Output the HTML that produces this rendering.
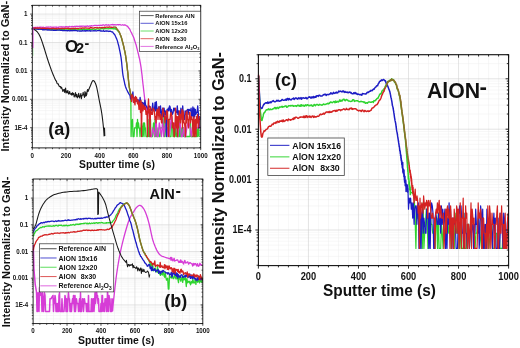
<!DOCTYPE html>
<html><head><meta charset="utf-8"><title>Sputter profiles</title>
<style>html,body{margin:0;padding:0;background:#fff;}svg{display:block;filter:blur(0.25px);}text{font-family:'Liberation Sans', Arial, sans-serif;fill:#111;}</style>
</head><body>
<svg width="520" height="348" viewBox="0 0 520 348">
<rect width="520" height="348" fill="#fff"/>
<line x1="39.04" y1="5.3" x2="39.04" y2="147.9" stroke="#efefef" stroke-width="0.5"/>
<line x1="45.77" y1="5.3" x2="45.77" y2="147.9" stroke="#efefef" stroke-width="0.5"/>
<line x1="52.51" y1="5.3" x2="52.51" y2="147.9" stroke="#efefef" stroke-width="0.5"/>
<line x1="59.24" y1="5.3" x2="59.24" y2="147.9" stroke="#efefef" stroke-width="0.5"/>
<line x1="72.72" y1="5.3" x2="72.72" y2="147.9" stroke="#efefef" stroke-width="0.5"/>
<line x1="79.45" y1="5.3" x2="79.45" y2="147.9" stroke="#efefef" stroke-width="0.5"/>
<line x1="86.19" y1="5.3" x2="86.19" y2="147.9" stroke="#efefef" stroke-width="0.5"/>
<line x1="92.92" y1="5.3" x2="92.92" y2="147.9" stroke="#efefef" stroke-width="0.5"/>
<line x1="106.4" y1="5.3" x2="106.4" y2="147.9" stroke="#efefef" stroke-width="0.5"/>
<line x1="113.13" y1="5.3" x2="113.13" y2="147.9" stroke="#efefef" stroke-width="0.5"/>
<line x1="119.87" y1="5.3" x2="119.87" y2="147.9" stroke="#efefef" stroke-width="0.5"/>
<line x1="126.6" y1="5.3" x2="126.6" y2="147.9" stroke="#efefef" stroke-width="0.5"/>
<line x1="140.08" y1="5.3" x2="140.08" y2="147.9" stroke="#efefef" stroke-width="0.5"/>
<line x1="146.81" y1="5.3" x2="146.81" y2="147.9" stroke="#efefef" stroke-width="0.5"/>
<line x1="153.55" y1="5.3" x2="153.55" y2="147.9" stroke="#efefef" stroke-width="0.5"/>
<line x1="160.28" y1="5.3" x2="160.28" y2="147.9" stroke="#efefef" stroke-width="0.5"/>
<line x1="173.76" y1="5.3" x2="173.76" y2="147.9" stroke="#efefef" stroke-width="0.5"/>
<line x1="180.49" y1="5.3" x2="180.49" y2="147.9" stroke="#efefef" stroke-width="0.5"/>
<line x1="187.23" y1="5.3" x2="187.23" y2="147.9" stroke="#efefef" stroke-width="0.5"/>
<line x1="193.96" y1="5.3" x2="193.96" y2="147.9" stroke="#efefef" stroke-width="0.5"/>
<line x1="32.3" y1="147.55" x2="200.7" y2="147.55" stroke="#efefef" stroke-width="0.5"/>
<line x1="32.3" y1="142.55" x2="200.7" y2="142.55" stroke="#efefef" stroke-width="0.5"/>
<line x1="32.3" y1="139" x2="200.7" y2="139" stroke="#efefef" stroke-width="0.5"/>
<line x1="32.3" y1="136.25" x2="200.7" y2="136.25" stroke="#efefef" stroke-width="0.5"/>
<line x1="32.3" y1="134" x2="200.7" y2="134" stroke="#efefef" stroke-width="0.5"/>
<line x1="32.3" y1="132.1" x2="200.7" y2="132.1" stroke="#efefef" stroke-width="0.5"/>
<line x1="32.3" y1="130.45" x2="200.7" y2="130.45" stroke="#efefef" stroke-width="0.5"/>
<line x1="32.3" y1="129" x2="200.7" y2="129" stroke="#efefef" stroke-width="0.5"/>
<line x1="32.3" y1="119.15" x2="200.7" y2="119.15" stroke="#efefef" stroke-width="0.5"/>
<line x1="32.3" y1="114.15" x2="200.7" y2="114.15" stroke="#efefef" stroke-width="0.5"/>
<line x1="32.3" y1="110.6" x2="200.7" y2="110.6" stroke="#efefef" stroke-width="0.5"/>
<line x1="32.3" y1="107.85" x2="200.7" y2="107.85" stroke="#efefef" stroke-width="0.5"/>
<line x1="32.3" y1="105.6" x2="200.7" y2="105.6" stroke="#efefef" stroke-width="0.5"/>
<line x1="32.3" y1="103.7" x2="200.7" y2="103.7" stroke="#efefef" stroke-width="0.5"/>
<line x1="32.3" y1="102.05" x2="200.7" y2="102.05" stroke="#efefef" stroke-width="0.5"/>
<line x1="32.3" y1="100.6" x2="200.7" y2="100.6" stroke="#efefef" stroke-width="0.5"/>
<line x1="32.3" y1="90.75" x2="200.7" y2="90.75" stroke="#efefef" stroke-width="0.5"/>
<line x1="32.3" y1="85.75" x2="200.7" y2="85.75" stroke="#efefef" stroke-width="0.5"/>
<line x1="32.3" y1="82.2" x2="200.7" y2="82.2" stroke="#efefef" stroke-width="0.5"/>
<line x1="32.3" y1="79.45" x2="200.7" y2="79.45" stroke="#efefef" stroke-width="0.5"/>
<line x1="32.3" y1="77.2" x2="200.7" y2="77.2" stroke="#efefef" stroke-width="0.5"/>
<line x1="32.3" y1="75.3" x2="200.7" y2="75.3" stroke="#efefef" stroke-width="0.5"/>
<line x1="32.3" y1="73.65" x2="200.7" y2="73.65" stroke="#efefef" stroke-width="0.5"/>
<line x1="32.3" y1="72.2" x2="200.7" y2="72.2" stroke="#efefef" stroke-width="0.5"/>
<line x1="32.3" y1="62.35" x2="200.7" y2="62.35" stroke="#efefef" stroke-width="0.5"/>
<line x1="32.3" y1="57.35" x2="200.7" y2="57.35" stroke="#efefef" stroke-width="0.5"/>
<line x1="32.3" y1="53.8" x2="200.7" y2="53.8" stroke="#efefef" stroke-width="0.5"/>
<line x1="32.3" y1="51.05" x2="200.7" y2="51.05" stroke="#efefef" stroke-width="0.5"/>
<line x1="32.3" y1="48.8" x2="200.7" y2="48.8" stroke="#efefef" stroke-width="0.5"/>
<line x1="32.3" y1="46.9" x2="200.7" y2="46.9" stroke="#efefef" stroke-width="0.5"/>
<line x1="32.3" y1="45.25" x2="200.7" y2="45.25" stroke="#efefef" stroke-width="0.5"/>
<line x1="32.3" y1="43.8" x2="200.7" y2="43.8" stroke="#efefef" stroke-width="0.5"/>
<line x1="32.3" y1="33.95" x2="200.7" y2="33.95" stroke="#efefef" stroke-width="0.5"/>
<line x1="32.3" y1="28.95" x2="200.7" y2="28.95" stroke="#efefef" stroke-width="0.5"/>
<line x1="32.3" y1="25.4" x2="200.7" y2="25.4" stroke="#efefef" stroke-width="0.5"/>
<line x1="32.3" y1="22.65" x2="200.7" y2="22.65" stroke="#efefef" stroke-width="0.5"/>
<line x1="32.3" y1="20.4" x2="200.7" y2="20.4" stroke="#efefef" stroke-width="0.5"/>
<line x1="32.3" y1="18.5" x2="200.7" y2="18.5" stroke="#efefef" stroke-width="0.5"/>
<line x1="32.3" y1="16.85" x2="200.7" y2="16.85" stroke="#efefef" stroke-width="0.5"/>
<line x1="32.3" y1="15.4" x2="200.7" y2="15.4" stroke="#efefef" stroke-width="0.5"/>
<line x1="32.3" y1="5.55" x2="200.7" y2="5.55" stroke="#efefef" stroke-width="0.5"/>
<line x1="65.98" y1="5.3" x2="65.98" y2="147.9" stroke="#d2d2d2" stroke-width="0.6"/>
<line x1="99.66" y1="5.3" x2="99.66" y2="147.9" stroke="#d2d2d2" stroke-width="0.6"/>
<line x1="133.34" y1="5.3" x2="133.34" y2="147.9" stroke="#d2d2d2" stroke-width="0.6"/>
<line x1="167.02" y1="5.3" x2="167.02" y2="147.9" stroke="#d2d2d2" stroke-width="0.6"/>
<line x1="32.3" y1="127.7" x2="200.7" y2="127.7" stroke="#d2d2d2" stroke-width="0.6"/>
<line x1="32.3" y1="99.3" x2="200.7" y2="99.3" stroke="#d2d2d2" stroke-width="0.6"/>
<line x1="32.3" y1="70.9" x2="200.7" y2="70.9" stroke="#d2d2d2" stroke-width="0.6"/>
<line x1="32.3" y1="42.5" x2="200.7" y2="42.5" stroke="#d2d2d2" stroke-width="0.6"/>
<line x1="32.3" y1="14.1" x2="200.7" y2="14.1" stroke="#d2d2d2" stroke-width="0.6"/>
<polyline points="32.8,28.64 33.66,28.37 34.52,28.84 35.28,28.7 36.03,28.5 36.79,28.6 37.47,29.21 38.16,29.2 38.84,29.27 39.52,28.97 40.16,29.42 40.79,28.89 41.42,29.31 42.05,29.5 42.68,29.02 43.38,28.91 44.09,29.03 44.79,29.03 45.49,29.57 46.19,29.46 46.83,29.39 47.46,29.15 48.1,29.54 48.73,29.21 49.37,29.22 50,29.57 50.62,29.61 51.25,29.73 51.88,29.76 52.5,29.29 53.13,29.41 53.75,29.31 54.38,29.56 55.01,29.25 55.64,29.84 56.27,29.72 56.9,29.81 57.53,29.59 58.16,29.9 58.79,29.85 59.42,29.85 60.02,29.84 60.62,29.43 61.22,29.52 61.82,29.32 62.42,29.82 63.02,29.62 63.62,29.98 64.22,29.49 64.83,29.6 65.43,29.9 66.03,29.97 66.64,29.83 67.24,29.91 67.85,29.94 68.45,29.49 69.06,29.73 69.66,29.34 70.27,29.77 70.91,29.96 71.56,29.65 72.2,29.39 72.85,29.69 73.49,29.33 74.14,29.61 74.79,29.34 75.43,29.58 76.08,29.85 76.74,29.79 77.39,29.87 78.04,29.58 78.69,29.57 79.35,29.29 80,29.8 80.67,29.64 81.33,29.52 82,29.32 82.66,29.53 83.33,29.24 83.99,29.27 84.61,29.23 85.22,29.46 85.83,29.24 86.44,29.71 87.05,29.54 87.67,29.7 88.35,29.46 89.02,29.17 89.7,29.23 90.38,29.6 91.06,29.4 91.69,29.42 92.33,29.38 92.96,28.95 93.59,29.03 94.22,29.17 94.96,29.43 95.7,29.47 96.45,29.2 97.19,28.93 97.89,28.76 98.59,29.09 99.3,28.96 100,29.3 100.67,28.77 101.34,28.74 102.01,28.58 102.68,28.56 103.3,29.07 103.93,29.08 104.56,28.54 105.19,28.41 105.96,28.76 106.73,28.49 107.5,28.7 108.2,28.87 108.9,28.72 109.59,28.36 110.21,28.57 110.82,28.34 111.44,28.65 112.22,28.31 113,28.76 114.19,28.7 115,28.94 115.57,28.7 116.01,29.37 116.44,29.5 117,29.83 117.65,30.78 118.29,31.27 118.93,32.01 119.57,33.05 120.23,34.83 120.9,36.32 121.62,38.45 122.38,41.6 123.15,44.12 123.9,47.66 124.59,50.42 125.2,53.4 125.71,56.6 126.14,59.32 126.52,62.11 126.87,64.97 127.19,67.42 127.5,70.3 127.8,72.73 128.06,75.35 128.29,77.78 128.52,80.34 128.75,82.86 129,84.82 129.28,87.17 129.59,89.33 129.89,91.09 130.18,92.4 130.42,93.64 130.6,95 130.9,105 131.1,136.5 131.5,122.95 132,122.95 132.5,119.4 133,136.5 133.5,136.5 134,136.5 134.5,127.95 135,127.95 135.5,127.95 136,127.95 136.5,122.95 137,136.5 137.5,119.4 138,127.95 138.5,122.95 139,127.95 139.5,127.95 140,136.5 140.5,127.95 141,127.95 141.5,122.95 142,127.95 142.5,136.5 143,127.95 143.5,122.95 144,136.5 144.5,122.95 145,127.95 145.5,127.95 146,136.5 146.5,136.5 147,136.5 147.5,136.5 148,119.4 148.5,136.5 149,127.95 149.5,136.5 150,136.5 150.5,119.4 151,136.5 152,136.5 152.5,136.5 153.5,122.95 154,127.95 154.5,136.5 155,119.4 155.5,136.5 156,127.95 156.5,136.5 157.5,136.5 158,127.95 159,136.5 159.5,136.5 160,136.5 160.5,127.95 162,127.95 162.5,127.95 163,127.95 163.5,127.95 164,116.65 164.5,136.5 165,136.5 165.5,127.95 166,119.4 166.5,127.95 167,127.95 167.5,127.95 168,136.5 169,119.4 169.5,136.5 170,136.5 171,136.5 171.5,122.95 172.5,122.95 173,136.5 173.5,127.95 174,136.5 175,136.5 175.5,127.95 176,127.95 176.5,136.5 177,136.5 178.5,136.5 179,116.65 179.5,136.5 180,136.5 180.5,136.5 181,127.95 181.5,136.5 182.5,127.95 183,136.5 183.5,127.95 184,136.5 185.5,136.5 186.5,136.5 187,136.5 188,136.5 188.5,136.5 189,136.5 190,136.5 190.5,122.95 191,136.5 191.5,136.5 192,136.5 192.5,136.5 193,136.5 193.5,136.5 194,127.95 194.5,136.5 196,136.5 196.5,136.5 197,127.95 197.5,136.5 198.5,127.95 199,136.5 199.5,136.5" fill="none" stroke="#2ed42e" stroke-width="1.3" stroke-linejoin="round" opacity="1.0"/>
<polyline points="32.8,27.47 33.53,27.52 34.26,27.73 35,27.44 35.73,27.46 36.4,27.49 37.07,27.24 37.74,27.43 38.41,27.49 39.08,27.58 39.75,27.15 40.43,27.26 41.11,27.12 41.8,27.54 42.48,27.46 43.16,27.06 43.84,27.61 44.52,27.59 45.17,27.39 45.82,27.36 46.47,27.07 47.12,26.98 47.77,27.27 48.42,26.98 49.07,27.05 49.72,27.07 50.38,26.93 51.04,27.17 51.7,27.15 52.35,27.38 53.01,27.17 53.67,27.23 54.33,27.13 54.99,27.22 55.62,27.08 56.24,26.96 56.87,27.37 57.49,27.36 58.12,27.25 58.75,27.15 59.37,26.9 60,26.84 60.63,26.86 61.25,26.71 61.88,27.11 62.51,26.87 63.13,27.12 63.76,26.83 64.39,27.15 65.01,27.07 65.68,26.54 66.35,26.65 67.01,27.05 67.68,26.76 68.35,27.05 69.01,26.68 69.68,26.47 70.35,26.78 70.95,26.85 71.55,26.53 72.15,26.4 72.75,26.53 73.36,26.89 73.96,26.74 74.56,26.34 75.16,26.4 75.76,26.29 76.42,26.24 77.07,26.66 77.73,26.27 78.38,26.48 79.04,26.39 79.7,26.21 80.35,26.51 81.01,26.13 81.61,26.42 82.21,26.08 82.82,26.24 83.42,26.09 84.03,26.1 84.63,26.5 85.23,26.38 85.84,26.05 86.53,26.37 87.22,25.94 87.92,26.02 88.61,26.27 89.31,26.11 90,25.76 90.67,26.26 91.35,25.76 92.02,25.75 92.69,26.02 93.37,25.72 94.05,25.66 94.74,25.47 95.43,25.44 96.11,25.69 96.89,25.42 97.66,25.57 98.44,25.37 99.14,25.36 99.85,25.61 100.56,25.26 101.26,25.27 101.97,25.39 102.67,24.93 103.45,24.87 104.22,25.29 105,25.19 105.65,24.83 106.3,24.77 106.95,25.08 107.6,25.17 108.29,24.71 108.97,25.14 109.65,25.08 110.33,24.9 111.02,24.78 111.7,24.57 112.38,24.52 113.06,25.07 113.71,24.62 114.36,24.9 115.02,24.62 115.67,24.96 116.45,24.82 117.24,24.64 118.02,24.57 118.68,24.91 119.34,24.53 120,24.64 120.77,24.86 121.55,25.06 122.15,24.94 122.76,24.76 123.72,25.23 124.52,24.93 125.25,25.01 126,25.46 126.73,25.95 127.37,26.18 127.94,26.78 128.46,27.5 128.97,28.3 129.5,28.78 130.03,29.74 130.54,30.97 131.03,32 131.52,32.85 132.01,33.97 132.5,35.05 132.99,35.94 133.48,37.03 133.97,38.23 134.46,40.08 134.97,41.43 135.5,43.28 136.07,44.71 136.69,47.35 137.31,49.7 137.93,52.31 138.5,54.44 139,57 139.42,58.28 139.78,60.16 140.09,61.79 140.39,63.44 140.68,65.08 141,67.12 141.34,69.66 141.68,72.53 142.03,75.18 142.36,78.42 142.69,81.5 143,84.22 143.31,86.62 143.62,89.58 143.93,92.28 144.2,94.53 144.43,96.59 144.6,98 145,103.1 146.1,110.85 147.2,106.92 148.3,112.5 149.4,114.4 150.5,136.5 151.6,136.5 152.7,127.95 154.9,136.5 156,116.65 157.1,136.5 158.2,136.5 159.3,122.95 161.5,136.5 162.6,119.4 163.7,136.5 164.8,127.95 165.9,122.95 167,136.5 168.1,127.95 169.2,136.5 170.3,127.95 171.4,114.4 172.5,127.95 173.6,127.95 174.7,122.95 175.8,127.95 176.9,127.95 178,136.5 179.1,122.95 180.2,122.95 181.3,136.5 182.4,136.5 183.5,127.95 184.6,136.5 185.7,136.5 186.8,127.95 187.9,122.95 189,122.95 190.1,127.95 191.2,136.5 192.3,127.95 194.5,122.95 195.6,127.95 197.8,127.95 198.9,122.95 200,127.95" fill="none" stroke="#d63cd6" stroke-width="1.3" stroke-linejoin="round" opacity="1.0"/>
<polyline points="32.8,28.21 33.44,28.27 34.19,28.56 35.15,28.35 35.77,28.93 36.39,29.14 37.18,28.78 37.98,29.08 38.65,29.34 39.33,29.17 40,29.09 40.65,29.11 41.3,29.4 41.94,29.09 42.59,29.75 43.22,29.73 43.84,29.69 44.47,29.84 45.09,29.71 45.72,29.59 46.41,29.76 47.11,29.73 47.81,30.1 48.5,30.02 49.2,29.67 49.81,30.15 50.42,30.07 51.03,30.12 51.64,30.17 52.25,29.91 52.86,30.28 53.47,30.3 54.08,30.2 54.69,30.27 55.3,30.3 55.91,30.07 56.52,30.32 57.21,29.89 57.91,30.11 58.61,30.22 59.3,29.93 60,30.2 60.67,30.42 61.33,30.43 62,30.18 62.67,30.7 63.33,30.53 64,30.32 64.67,30.57 65.33,30.53 66,30.52 66.67,30.44 67.33,30.89 68,30.65 68.67,30.71 69.33,30.77 70,30.94 70.67,30.29 71.33,30.72 72,30.82 72.67,30.5 73.33,30.61 74,30.38 74.67,30.49 75.33,30.63 76,30.45 76.67,30.57 77.33,31.04 78,30.8 78.67,30.78 79.33,31.12 80,30.85 80.69,31.15 81.38,30.91 82.07,31.04 82.76,30.53 83.45,30.9 84.17,31.02 84.88,30.52 85.6,31.15 86.32,30.61 87.04,30.83 87.75,30.62 88.47,30.85 89.19,30.93 89.91,30.55 90.62,31.17 91.31,30.8 92,30.88 92.69,30.93 93.38,30.76 94.07,30.71 94.71,30.97 95.34,30.91 95.98,30.71 96.61,31.02 97.25,30.73 97.93,30.54 98.62,30.71 99.31,30.57 100,30.66 100.77,31.09 101.55,30.85 102.32,31.21 102.99,31.12 103.65,30.64 104.31,31.31 105.17,31.29 106.03,30.7 106.77,31.31 107.52,31.01 108.17,31.09 108.83,31.49 110,31.12 110.95,31.45 111.63,31.84 112.13,31.82 112.54,31.88 112.97,32.66 113.5,33.22 114.13,33.98 114.79,34.71 115.45,36.32 116.11,37.65 116.77,39.13 117.4,40.89 118.02,43.35 118.65,45.46 119.26,48.28 119.85,51.17 120.4,53.84 120.9,56.53 121.32,59.71 121.67,62.73 121.98,66.2 122.29,69.21 122.61,72.57 123,75.32 123.44,77.7 123.9,79.75 124.38,81.9 124.89,84.55 125.43,86.41 126,88.09 126.66,89.56 127.41,91.03 128.19,92.69 128.93,93.8 129.55,94.81 130,95.5 130.5,98.95 131.1,96.8 131.7,95.85 132.3,97.3 132.9,91.96 133.5,102.3 134.1,97.3 134.7,100.18 135.3,99.55 135.9,101.56 136.5,100.85 137.1,100.85 137.7,99.55 138.3,100.18 138.9,102.3 139.5,103.1 140.1,97.3 140.7,103.1 141.3,102.3 141.9,106.92 142.5,102.3 143.1,103.95 143.7,103.1 144.3,106.92 144.9,100.18 145.5,104.86 146.1,105.85 146.7,106.92 147.3,108.1 147.9,109.4 148.5,108.1 149.1,105.85 149.7,106.92 150.3,106.92 150.9,110.85 151.5,109.4 152.1,110.85 152.7,103.1 153.3,109.4 153.9,110.85 154.5,109.4 155.1,102.3 155.7,110.85 156.3,101.56 156.9,109.4 157.5,112.5 158.1,109.4 158.7,106.92 159.3,106.92 159.9,112.5 160.5,105.85 161.1,116.65 161.7,116.65 162.3,109.4 162.9,108.1 163.5,116.65 164.1,108.1 164.7,114.4 165.3,110.85 165.9,114.4 166.5,136.5 167.1,109.4 167.7,110.85 168.3,108.1 168.9,110.85 169.5,105.85 170.1,106.92 170.7,112.5 171.3,109.4 171.9,112.5 172.5,114.4 173.1,112.5 173.7,108.1 174.3,108.1 174.9,110.85 175.5,110.85 176.1,112.5 176.7,112.5 177.3,105.85 177.9,114.4 178.5,110.85 179.1,116.65 179.7,119.4 180.3,116.65 180.9,108.1 181.5,114.4 182.1,119.4 182.7,105.85 183.3,114.4 183.9,116.65 184.5,119.4 185.1,110.85 185.7,114.4 186.3,110.85 186.9,110.85 187.5,109.4 188.1,114.4 188.7,109.4 189.3,109.4 189.9,110.85 190.5,110.85 191.1,108.1 191.7,116.65 192.3,114.4 192.9,106.92 193.5,119.4 194.1,108.1 194.7,116.65 195.3,109.4 195.9,114.4 196.5,112.5 197.1,112.5 197.7,105.85 198.3,112.5 198.9,127.95 199.5,119.4 200.1,116.65" fill="none" stroke="#1c1cc4" stroke-width="1.3" stroke-linejoin="round" opacity="1.0"/>
<polyline points="32.8,27.83 33.66,28.09 34.52,28.08 35.28,27.98 36.03,28.25 36.79,28.12 37.47,28 38.16,28.48 38.84,28.01 39.52,28.02 40.16,28.11 40.79,28.29 41.42,28.52 42.05,28.23 42.68,28.18 43.38,28.49 44.09,28.23 44.79,28.43 45.49,28.26 46.19,28.72 46.83,28.24 47.46,28.28 48.1,28.34 48.73,28.36 49.37,28.65 50,28.62 50.62,28.71 51.25,28.53 51.88,28.21 52.5,28.69 53.13,28.33 53.75,28.31 54.38,28.45 55.01,28.85 55.64,28.42 56.27,28.41 56.9,28.8 57.53,28.85 58.16,28.43 58.79,28.25 59.42,28.71 60.02,28.7 60.62,28.38 61.22,28.7 61.82,28.41 62.42,28.34 63.02,28.55 63.62,28.65 64.22,28.46 64.83,28.7 65.43,28.13 66.03,28.46 66.64,28.38 67.24,28.15 67.85,28.74 68.45,28.2 69.06,28.23 69.66,28.7 70.27,28.75 70.91,28.72 71.56,28.3 72.2,28.71 72.85,28.15 73.49,28.54 74.14,28.7 74.79,28.16 75.43,28.12 76.08,28.49 76.74,28.62 77.39,28.5 78.04,28.64 78.69,28.29 79.35,28.22 80,28.03 80.66,28.13 81.33,28.58 81.99,27.95 82.65,28.02 83.32,28.12 83.98,27.89 84.59,28.05 85.2,27.95 85.81,27.88 86.41,28.15 87.02,28.14 87.63,28.14 88.3,28.25 88.98,28.05 89.65,28.32 90.33,27.69 91,27.76 91.63,27.63 92.26,27.77 92.89,28.06 93.52,28.15 94.15,27.82 94.89,27.55 95.64,27.64 96.38,27.78 97.13,27.56 97.85,27.88 98.56,27.98 99.28,27.6 100,27.67 100.7,27.82 101.4,27.53 102.11,27.31 102.81,27.81 103.49,27.81 104.16,27.12 104.84,27.61 105.52,27.33 106.15,27.06 106.79,27.11 107.43,27.1 108.06,27.47 108.83,27.08 109.6,26.92 110.37,27.04 111.04,27.44 111.71,27.23 112.37,27.34 113.19,27.24 114,27.08 115.13,27.07 115.78,27.39 116.13,27.37 116.34,27.8 116.58,28.47 117,28.91 117.59,29.72 118.22,30.65 118.87,31.4 119.54,32.61 120.22,34.44 120.9,36.06 121.62,38.24 122.38,41.05 123.15,44.02 123.9,47.08 124.59,50.62 125.2,53.11 125.71,56.44 126.14,59.22 126.52,62.06 126.87,64.35 127.19,67.33 127.5,70.34 127.79,72.51 128.04,75.08 128.27,78.08 128.49,80.25 128.73,82.87 129,84.76 129.33,87.38 129.7,88.92 130.09,90.66 130.46,92.72 130.78,93.86 131,95 131.5,101.56 132,94.55 132.5,95.4 133,96.31 133.5,102.3 134,97.83 134.5,102.3 135,104.86 135.5,96.31 136,100.85 136.5,97.3 137,100.18 137.5,103.95 138,100.18 138.5,103.1 139,109.4 139.5,105.85 140,101.56 140.5,112.5 141,100.18 141.5,136.5 142,103.1 142.5,110.85 143,110.85 143.5,104.86 144,106.92 144.5,109.4 145,106.92 145.5,108.1 146,114.4 146.5,114.4 147,110.85 147.5,136.5 148,108.1 148.5,98.95 149,112.5 149.5,109.4 150,136.5 150.5,106.92 151,110.85 151.5,114.4 152,112.5 152.5,114.4 153,108.1 153.5,109.4 154,109.4 154.5,112.5 155,119.4 155.5,116.65 156,122.95 156.5,114.4 157,109.4 157.5,109.4 158,119.4 158.5,112.5 159,106.92 159.5,114.4 160,119.4 160.5,114.4 161,116.65 161.5,122.95 162,122.95 162.5,112.5 163,108.1 163.5,112.5 164,112.5 165,122.95 165.5,116.65 166,119.4 166.5,110.85 167,116.65 167.5,110.85 168,127.95 168.5,136.5 169,119.4 169.5,119.4 170,119.4 170.5,114.4 171,112.5 171.5,114.4 172,116.65 172.5,127.95 173,122.95 173.5,122.95 174,136.5 174.5,136.5 175,127.95 175.5,108.1 176,116.65 176.5,127.95 177,116.65 177.5,136.5 178,116.65 178.5,127.95 179,116.65 179.5,110.85 180,116.65 180.5,122.95 181,114.4 181.5,116.65 182,109.4 182.5,127.95 183,110.85 183.5,114.4 184,122.95 184.5,122.95 185,127.95 185.5,136.5 186,112.5 186.5,122.95 187,110.85 187.5,119.4 188,119.4 188.5,127.95 189,119.4 189.5,112.5 190,112.5 190.5,122.95 191,119.4 191.5,116.65 192,119.4 192.5,119.4 193,136.5 193.5,119.4 194,116.65 194.5,136.5 195,122.95 195.5,119.4 196,136.5 196.5,116.65 197,122.95 197.5,114.4 198,122.95 198.5,127.95 199,122.95 199.5,116.65 200,116.65" fill="none" stroke="#d42222" stroke-width="1.3" stroke-linejoin="round" opacity="1.0"/>
<polyline points="113.19,27.24 114,27.08 115.13,27.07 115.78,27.39 116.13,27.37 116.34,27.8 116.58,28.47 117,28.91 117.59,29.72 118.22,30.65 118.87,31.4 119.54,32.61 120.22,34.44 120.9,36.06 121.62,38.24 122.38,41.05 123.15,44.02 123.9,47.08 124.59,50.62 125.2,53.11 125.71,56.44 126.14,59.22 126.52,62.06 126.87,64.35 127.19,67.33 127.5,70.34 127.79,72.51 128.04,75.08 128.27,78.08 128.49,80.25 128.73,82.87 129,84.76 129.33,87.38 129.7,88.92 130.09,90.66 130.46,92.72 130.78,93.86 131,95" fill="none" stroke="#2ed42e" stroke-width="1.3" stroke-linejoin="round" opacity="0.45"/>
<polyline points="32.8,28.6 33.25,28.89 33.89,29.26 34.64,29.71 35.43,30.23 36.21,30.83 36.9,31.5 37.51,32.21 38.08,32.97 38.64,33.81 39.19,34.74 39.74,35.79 40.3,37 40.88,38.39 41.46,39.96 42.05,41.66 42.64,43.43 43.22,45.22 43.8,47 44.37,48.78 44.94,50.62 45.5,52.48 46.06,54.35 46.63,56.2 47.2,58 47.78,59.78 48.36,61.55 48.95,63.3 49.54,65.02 50.12,66.69 50.7,68.3 51.27,69.85 51.84,71.36 52.4,72.81 52.96,74.22 53.53,75.58 54.1,76.9 54.68,78.19 55.26,79.44 55.85,80.66 56.44,81.26 57.02,83.39 57.6,83.83 58.2,83.8 58.83,85.58 59.46,86.61 60.05,86.86 60.57,86.5 61,88.31 61.32,87.26 61.55,88.09 61.71,88.16 61.83,87.74 61.92,88 62,88.5 62,88.88 62.45,89.79 62.9,91.52 63.35,90.27 63.8,89.46 64.25,89.41 64.7,92.46 65.15,90.75 65.6,88.12 66.05,93.02 66.5,91.23 66.95,91.1 67.4,92.76 67.85,90.44 68.3,93.11 68.75,94.15 69.2,93.54 69.65,91.46 70.1,93.67 70.55,93.93 71,94.44 71.45,93.57 71.9,95.3 72.35,92.59 72.8,94.39 73.25,94.41 73.7,93.25 74.15,97 74.6,95.47 75.05,95.49 75.5,92.53 75.95,96.84 76.4,94.43 76.85,94.4 77.3,97.9 77.75,96.75 78.2,96.63 78.65,93.2 79.1,96 79.55,97.86 80,96.28 80.45,95.32 80.9,93.5 81.35,98.8 81.8,96.05 82.25,95.29 82.7,94.77 83.15,92.3 83.6,94.88 84.05,95.54 84.5,97.45 84.95,91.45 85.4,96.3 85.85,92.91 86.3,95.76 86.75,94.31 87.2,90.66 87.65,89.48 88,91.5 88.3,90.75 88.73,89.7 89.23,88.46 89.77,87.19 90.3,86 90.82,84.73 91.37,83.3 91.93,81.94 92.51,80.93 93.1,80.5 93.71,80.69 94.33,81.34 94.97,82.38 95.59,83.79 96.2,85.5 96.78,87.65 97.35,90.26 97.9,93.16 98.45,96.13 99,99 99.56,101.77 100.14,104.56 100.7,107.38 101.23,110.19 101.7,113 102.12,115.88 102.5,118.84 102.84,121.76 103.14,124.52 103.4,127 103.62,129.26 103.79,131.39 103.92,133.29 104.02,134.86 104.1,136 104.5,128 104.8,136" fill="none" stroke="#1a1a1a" stroke-width="1.1" stroke-linejoin="round" opacity="1.0"/>
<line x1="32.9" y1="27" x2="32.9" y2="48" stroke="#d63cd6" stroke-width="1.2"/>
<line x1="32.9" y1="48" x2="32.9" y2="56" stroke="#2ed42e" stroke-width="0.8" opacity="0.5"/>
<line x1="32.3" y1="147.9" x2="32.3" y2="150.1" stroke="#111" stroke-width="0.7200000000000001"/>
<line x1="32.3" y1="5.3" x2="32.3" y2="7.5" stroke="#111" stroke-width="0.7200000000000001"/>
<line x1="39.04" y1="147.9" x2="39.04" y2="149.2" stroke="#111" stroke-width="0.7200000000000001"/>
<line x1="39.04" y1="5.3" x2="39.04" y2="6.6" stroke="#111" stroke-width="0.7200000000000001"/>
<line x1="45.77" y1="147.9" x2="45.77" y2="149.2" stroke="#111" stroke-width="0.7200000000000001"/>
<line x1="45.77" y1="5.3" x2="45.77" y2="6.6" stroke="#111" stroke-width="0.7200000000000001"/>
<line x1="52.51" y1="147.9" x2="52.51" y2="149.2" stroke="#111" stroke-width="0.7200000000000001"/>
<line x1="52.51" y1="5.3" x2="52.51" y2="6.6" stroke="#111" stroke-width="0.7200000000000001"/>
<line x1="59.24" y1="147.9" x2="59.24" y2="149.2" stroke="#111" stroke-width="0.7200000000000001"/>
<line x1="59.24" y1="5.3" x2="59.24" y2="6.6" stroke="#111" stroke-width="0.7200000000000001"/>
<line x1="65.98" y1="147.9" x2="65.98" y2="150.1" stroke="#111" stroke-width="0.7200000000000001"/>
<line x1="65.98" y1="5.3" x2="65.98" y2="7.5" stroke="#111" stroke-width="0.7200000000000001"/>
<line x1="72.72" y1="147.9" x2="72.72" y2="149.2" stroke="#111" stroke-width="0.7200000000000001"/>
<line x1="72.72" y1="5.3" x2="72.72" y2="6.6" stroke="#111" stroke-width="0.7200000000000001"/>
<line x1="79.45" y1="147.9" x2="79.45" y2="149.2" stroke="#111" stroke-width="0.7200000000000001"/>
<line x1="79.45" y1="5.3" x2="79.45" y2="6.6" stroke="#111" stroke-width="0.7200000000000001"/>
<line x1="86.19" y1="147.9" x2="86.19" y2="149.2" stroke="#111" stroke-width="0.7200000000000001"/>
<line x1="86.19" y1="5.3" x2="86.19" y2="6.6" stroke="#111" stroke-width="0.7200000000000001"/>
<line x1="92.92" y1="147.9" x2="92.92" y2="149.2" stroke="#111" stroke-width="0.7200000000000001"/>
<line x1="92.92" y1="5.3" x2="92.92" y2="6.6" stroke="#111" stroke-width="0.7200000000000001"/>
<line x1="99.66" y1="147.9" x2="99.66" y2="150.1" stroke="#111" stroke-width="0.7200000000000001"/>
<line x1="99.66" y1="5.3" x2="99.66" y2="7.5" stroke="#111" stroke-width="0.7200000000000001"/>
<line x1="106.4" y1="147.9" x2="106.4" y2="149.2" stroke="#111" stroke-width="0.7200000000000001"/>
<line x1="106.4" y1="5.3" x2="106.4" y2="6.6" stroke="#111" stroke-width="0.7200000000000001"/>
<line x1="113.13" y1="147.9" x2="113.13" y2="149.2" stroke="#111" stroke-width="0.7200000000000001"/>
<line x1="113.13" y1="5.3" x2="113.13" y2="6.6" stroke="#111" stroke-width="0.7200000000000001"/>
<line x1="119.87" y1="147.9" x2="119.87" y2="149.2" stroke="#111" stroke-width="0.7200000000000001"/>
<line x1="119.87" y1="5.3" x2="119.87" y2="6.6" stroke="#111" stroke-width="0.7200000000000001"/>
<line x1="126.6" y1="147.9" x2="126.6" y2="149.2" stroke="#111" stroke-width="0.7200000000000001"/>
<line x1="126.6" y1="5.3" x2="126.6" y2="6.6" stroke="#111" stroke-width="0.7200000000000001"/>
<line x1="133.34" y1="147.9" x2="133.34" y2="150.1" stroke="#111" stroke-width="0.7200000000000001"/>
<line x1="133.34" y1="5.3" x2="133.34" y2="7.5" stroke="#111" stroke-width="0.7200000000000001"/>
<line x1="140.08" y1="147.9" x2="140.08" y2="149.2" stroke="#111" stroke-width="0.7200000000000001"/>
<line x1="140.08" y1="5.3" x2="140.08" y2="6.6" stroke="#111" stroke-width="0.7200000000000001"/>
<line x1="146.81" y1="147.9" x2="146.81" y2="149.2" stroke="#111" stroke-width="0.7200000000000001"/>
<line x1="146.81" y1="5.3" x2="146.81" y2="6.6" stroke="#111" stroke-width="0.7200000000000001"/>
<line x1="153.55" y1="147.9" x2="153.55" y2="149.2" stroke="#111" stroke-width="0.7200000000000001"/>
<line x1="153.55" y1="5.3" x2="153.55" y2="6.6" stroke="#111" stroke-width="0.7200000000000001"/>
<line x1="160.28" y1="147.9" x2="160.28" y2="149.2" stroke="#111" stroke-width="0.7200000000000001"/>
<line x1="160.28" y1="5.3" x2="160.28" y2="6.6" stroke="#111" stroke-width="0.7200000000000001"/>
<line x1="167.02" y1="147.9" x2="167.02" y2="150.1" stroke="#111" stroke-width="0.7200000000000001"/>
<line x1="167.02" y1="5.3" x2="167.02" y2="7.5" stroke="#111" stroke-width="0.7200000000000001"/>
<line x1="173.76" y1="147.9" x2="173.76" y2="149.2" stroke="#111" stroke-width="0.7200000000000001"/>
<line x1="173.76" y1="5.3" x2="173.76" y2="6.6" stroke="#111" stroke-width="0.7200000000000001"/>
<line x1="180.49" y1="147.9" x2="180.49" y2="149.2" stroke="#111" stroke-width="0.7200000000000001"/>
<line x1="180.49" y1="5.3" x2="180.49" y2="6.6" stroke="#111" stroke-width="0.7200000000000001"/>
<line x1="187.23" y1="147.9" x2="187.23" y2="149.2" stroke="#111" stroke-width="0.7200000000000001"/>
<line x1="187.23" y1="5.3" x2="187.23" y2="6.6" stroke="#111" stroke-width="0.7200000000000001"/>
<line x1="193.96" y1="147.9" x2="193.96" y2="149.2" stroke="#111" stroke-width="0.7200000000000001"/>
<line x1="193.96" y1="5.3" x2="193.96" y2="6.6" stroke="#111" stroke-width="0.7200000000000001"/>
<line x1="200.7" y1="147.9" x2="200.7" y2="150.1" stroke="#111" stroke-width="0.7200000000000001"/>
<line x1="200.7" y1="5.3" x2="200.7" y2="7.5" stroke="#111" stroke-width="0.7200000000000001"/>
<line x1="31" y1="147.55" x2="32.3" y2="147.55" stroke="#111" stroke-width="0.7200000000000001"/>
<line x1="199.4" y1="147.55" x2="200.7" y2="147.55" stroke="#111" stroke-width="0.7200000000000001"/>
<line x1="31" y1="142.55" x2="32.3" y2="142.55" stroke="#111" stroke-width="0.7200000000000001"/>
<line x1="199.4" y1="142.55" x2="200.7" y2="142.55" stroke="#111" stroke-width="0.7200000000000001"/>
<line x1="31" y1="139" x2="32.3" y2="139" stroke="#111" stroke-width="0.7200000000000001"/>
<line x1="199.4" y1="139" x2="200.7" y2="139" stroke="#111" stroke-width="0.7200000000000001"/>
<line x1="31" y1="136.25" x2="32.3" y2="136.25" stroke="#111" stroke-width="0.7200000000000001"/>
<line x1="199.4" y1="136.25" x2="200.7" y2="136.25" stroke="#111" stroke-width="0.7200000000000001"/>
<line x1="31" y1="134" x2="32.3" y2="134" stroke="#111" stroke-width="0.7200000000000001"/>
<line x1="199.4" y1="134" x2="200.7" y2="134" stroke="#111" stroke-width="0.7200000000000001"/>
<line x1="31" y1="132.1" x2="32.3" y2="132.1" stroke="#111" stroke-width="0.7200000000000001"/>
<line x1="199.4" y1="132.1" x2="200.7" y2="132.1" stroke="#111" stroke-width="0.7200000000000001"/>
<line x1="31" y1="130.45" x2="32.3" y2="130.45" stroke="#111" stroke-width="0.7200000000000001"/>
<line x1="199.4" y1="130.45" x2="200.7" y2="130.45" stroke="#111" stroke-width="0.7200000000000001"/>
<line x1="31" y1="129" x2="32.3" y2="129" stroke="#111" stroke-width="0.7200000000000001"/>
<line x1="199.4" y1="129" x2="200.7" y2="129" stroke="#111" stroke-width="0.7200000000000001"/>
<line x1="30.1" y1="127.7" x2="32.3" y2="127.7" stroke="#111" stroke-width="0.7200000000000001"/>
<line x1="198.5" y1="127.7" x2="200.7" y2="127.7" stroke="#111" stroke-width="0.7200000000000001"/>
<line x1="31" y1="119.15" x2="32.3" y2="119.15" stroke="#111" stroke-width="0.7200000000000001"/>
<line x1="199.4" y1="119.15" x2="200.7" y2="119.15" stroke="#111" stroke-width="0.7200000000000001"/>
<line x1="31" y1="114.15" x2="32.3" y2="114.15" stroke="#111" stroke-width="0.7200000000000001"/>
<line x1="199.4" y1="114.15" x2="200.7" y2="114.15" stroke="#111" stroke-width="0.7200000000000001"/>
<line x1="31" y1="110.6" x2="32.3" y2="110.6" stroke="#111" stroke-width="0.7200000000000001"/>
<line x1="199.4" y1="110.6" x2="200.7" y2="110.6" stroke="#111" stroke-width="0.7200000000000001"/>
<line x1="31" y1="107.85" x2="32.3" y2="107.85" stroke="#111" stroke-width="0.7200000000000001"/>
<line x1="199.4" y1="107.85" x2="200.7" y2="107.85" stroke="#111" stroke-width="0.7200000000000001"/>
<line x1="31" y1="105.6" x2="32.3" y2="105.6" stroke="#111" stroke-width="0.7200000000000001"/>
<line x1="199.4" y1="105.6" x2="200.7" y2="105.6" stroke="#111" stroke-width="0.7200000000000001"/>
<line x1="31" y1="103.7" x2="32.3" y2="103.7" stroke="#111" stroke-width="0.7200000000000001"/>
<line x1="199.4" y1="103.7" x2="200.7" y2="103.7" stroke="#111" stroke-width="0.7200000000000001"/>
<line x1="31" y1="102.05" x2="32.3" y2="102.05" stroke="#111" stroke-width="0.7200000000000001"/>
<line x1="199.4" y1="102.05" x2="200.7" y2="102.05" stroke="#111" stroke-width="0.7200000000000001"/>
<line x1="31" y1="100.6" x2="32.3" y2="100.6" stroke="#111" stroke-width="0.7200000000000001"/>
<line x1="199.4" y1="100.6" x2="200.7" y2="100.6" stroke="#111" stroke-width="0.7200000000000001"/>
<line x1="30.1" y1="99.3" x2="32.3" y2="99.3" stroke="#111" stroke-width="0.7200000000000001"/>
<line x1="198.5" y1="99.3" x2="200.7" y2="99.3" stroke="#111" stroke-width="0.7200000000000001"/>
<line x1="31" y1="90.75" x2="32.3" y2="90.75" stroke="#111" stroke-width="0.7200000000000001"/>
<line x1="199.4" y1="90.75" x2="200.7" y2="90.75" stroke="#111" stroke-width="0.7200000000000001"/>
<line x1="31" y1="85.75" x2="32.3" y2="85.75" stroke="#111" stroke-width="0.7200000000000001"/>
<line x1="199.4" y1="85.75" x2="200.7" y2="85.75" stroke="#111" stroke-width="0.7200000000000001"/>
<line x1="31" y1="82.2" x2="32.3" y2="82.2" stroke="#111" stroke-width="0.7200000000000001"/>
<line x1="199.4" y1="82.2" x2="200.7" y2="82.2" stroke="#111" stroke-width="0.7200000000000001"/>
<line x1="31" y1="79.45" x2="32.3" y2="79.45" stroke="#111" stroke-width="0.7200000000000001"/>
<line x1="199.4" y1="79.45" x2="200.7" y2="79.45" stroke="#111" stroke-width="0.7200000000000001"/>
<line x1="31" y1="77.2" x2="32.3" y2="77.2" stroke="#111" stroke-width="0.7200000000000001"/>
<line x1="199.4" y1="77.2" x2="200.7" y2="77.2" stroke="#111" stroke-width="0.7200000000000001"/>
<line x1="31" y1="75.3" x2="32.3" y2="75.3" stroke="#111" stroke-width="0.7200000000000001"/>
<line x1="199.4" y1="75.3" x2="200.7" y2="75.3" stroke="#111" stroke-width="0.7200000000000001"/>
<line x1="31" y1="73.65" x2="32.3" y2="73.65" stroke="#111" stroke-width="0.7200000000000001"/>
<line x1="199.4" y1="73.65" x2="200.7" y2="73.65" stroke="#111" stroke-width="0.7200000000000001"/>
<line x1="31" y1="72.2" x2="32.3" y2="72.2" stroke="#111" stroke-width="0.7200000000000001"/>
<line x1="199.4" y1="72.2" x2="200.7" y2="72.2" stroke="#111" stroke-width="0.7200000000000001"/>
<line x1="30.1" y1="70.9" x2="32.3" y2="70.9" stroke="#111" stroke-width="0.7200000000000001"/>
<line x1="198.5" y1="70.9" x2="200.7" y2="70.9" stroke="#111" stroke-width="0.7200000000000001"/>
<line x1="31" y1="62.35" x2="32.3" y2="62.35" stroke="#111" stroke-width="0.7200000000000001"/>
<line x1="199.4" y1="62.35" x2="200.7" y2="62.35" stroke="#111" stroke-width="0.7200000000000001"/>
<line x1="31" y1="57.35" x2="32.3" y2="57.35" stroke="#111" stroke-width="0.7200000000000001"/>
<line x1="199.4" y1="57.35" x2="200.7" y2="57.35" stroke="#111" stroke-width="0.7200000000000001"/>
<line x1="31" y1="53.8" x2="32.3" y2="53.8" stroke="#111" stroke-width="0.7200000000000001"/>
<line x1="199.4" y1="53.8" x2="200.7" y2="53.8" stroke="#111" stroke-width="0.7200000000000001"/>
<line x1="31" y1="51.05" x2="32.3" y2="51.05" stroke="#111" stroke-width="0.7200000000000001"/>
<line x1="199.4" y1="51.05" x2="200.7" y2="51.05" stroke="#111" stroke-width="0.7200000000000001"/>
<line x1="31" y1="48.8" x2="32.3" y2="48.8" stroke="#111" stroke-width="0.7200000000000001"/>
<line x1="199.4" y1="48.8" x2="200.7" y2="48.8" stroke="#111" stroke-width="0.7200000000000001"/>
<line x1="31" y1="46.9" x2="32.3" y2="46.9" stroke="#111" stroke-width="0.7200000000000001"/>
<line x1="199.4" y1="46.9" x2="200.7" y2="46.9" stroke="#111" stroke-width="0.7200000000000001"/>
<line x1="31" y1="45.25" x2="32.3" y2="45.25" stroke="#111" stroke-width="0.7200000000000001"/>
<line x1="199.4" y1="45.25" x2="200.7" y2="45.25" stroke="#111" stroke-width="0.7200000000000001"/>
<line x1="31" y1="43.8" x2="32.3" y2="43.8" stroke="#111" stroke-width="0.7200000000000001"/>
<line x1="199.4" y1="43.8" x2="200.7" y2="43.8" stroke="#111" stroke-width="0.7200000000000001"/>
<line x1="30.1" y1="42.5" x2="32.3" y2="42.5" stroke="#111" stroke-width="0.7200000000000001"/>
<line x1="198.5" y1="42.5" x2="200.7" y2="42.5" stroke="#111" stroke-width="0.7200000000000001"/>
<line x1="31" y1="33.95" x2="32.3" y2="33.95" stroke="#111" stroke-width="0.7200000000000001"/>
<line x1="199.4" y1="33.95" x2="200.7" y2="33.95" stroke="#111" stroke-width="0.7200000000000001"/>
<line x1="31" y1="28.95" x2="32.3" y2="28.95" stroke="#111" stroke-width="0.7200000000000001"/>
<line x1="199.4" y1="28.95" x2="200.7" y2="28.95" stroke="#111" stroke-width="0.7200000000000001"/>
<line x1="31" y1="25.4" x2="32.3" y2="25.4" stroke="#111" stroke-width="0.7200000000000001"/>
<line x1="199.4" y1="25.4" x2="200.7" y2="25.4" stroke="#111" stroke-width="0.7200000000000001"/>
<line x1="31" y1="22.65" x2="32.3" y2="22.65" stroke="#111" stroke-width="0.7200000000000001"/>
<line x1="199.4" y1="22.65" x2="200.7" y2="22.65" stroke="#111" stroke-width="0.7200000000000001"/>
<line x1="31" y1="20.4" x2="32.3" y2="20.4" stroke="#111" stroke-width="0.7200000000000001"/>
<line x1="199.4" y1="20.4" x2="200.7" y2="20.4" stroke="#111" stroke-width="0.7200000000000001"/>
<line x1="31" y1="18.5" x2="32.3" y2="18.5" stroke="#111" stroke-width="0.7200000000000001"/>
<line x1="199.4" y1="18.5" x2="200.7" y2="18.5" stroke="#111" stroke-width="0.7200000000000001"/>
<line x1="31" y1="16.85" x2="32.3" y2="16.85" stroke="#111" stroke-width="0.7200000000000001"/>
<line x1="199.4" y1="16.85" x2="200.7" y2="16.85" stroke="#111" stroke-width="0.7200000000000001"/>
<line x1="31" y1="15.4" x2="32.3" y2="15.4" stroke="#111" stroke-width="0.7200000000000001"/>
<line x1="199.4" y1="15.4" x2="200.7" y2="15.4" stroke="#111" stroke-width="0.7200000000000001"/>
<line x1="30.1" y1="14.1" x2="32.3" y2="14.1" stroke="#111" stroke-width="0.7200000000000001"/>
<line x1="198.5" y1="14.1" x2="200.7" y2="14.1" stroke="#111" stroke-width="0.7200000000000001"/>
<line x1="31" y1="5.55" x2="32.3" y2="5.55" stroke="#111" stroke-width="0.7200000000000001"/>
<line x1="199.4" y1="5.55" x2="200.7" y2="5.55" stroke="#111" stroke-width="0.7200000000000001"/>
<rect x="32.3" y="5.3" width="168.4" height="142.6" fill="none" stroke="#111" stroke-width="0.9"/>
<text transform="translate(27.5,16.2) scale(1,1.08)" font-size="6.2" font-weight="bold" text-anchor="end" >1</text>
<text transform="translate(27.5,44.6) scale(1,1.08)" font-size="6.2" font-weight="bold" text-anchor="end" >0.1</text>
<text transform="translate(27.5,73) scale(1,1.08)" font-size="6.2" font-weight="bold" text-anchor="end" >0.01</text>
<text transform="translate(27.5,101.4) scale(1,1.08)" font-size="6.2" font-weight="bold" text-anchor="end" >0.001</text>
<text transform="translate(27.5,129.8) scale(1,1.08)" font-size="6.2" font-weight="bold" text-anchor="end" >1E-4</text>
<text transform="translate(32.3,157.7) scale(1,1.08)" font-size="6.2" font-weight="bold" text-anchor="middle" >0</text>
<text transform="translate(65.98,157.7) scale(1,1.08)" font-size="6.2" font-weight="bold" text-anchor="middle" >200</text>
<text transform="translate(99.66,157.7) scale(1,1.08)" font-size="6.2" font-weight="bold" text-anchor="middle" >400</text>
<text transform="translate(133.34,157.7) scale(1,1.08)" font-size="6.2" font-weight="bold" text-anchor="middle" >600</text>
<text transform="translate(167.02,157.7) scale(1,1.08)" font-size="6.2" font-weight="bold" text-anchor="middle" >800</text>
<text transform="translate(200.7,157.7) scale(1,1.08)" font-size="6.2" font-weight="bold" text-anchor="middle" >1000</text>
<text transform="translate(117,167.6) scale(1,1.03)" font-size="10.35" font-weight="bold" text-anchor="middle" >Sputter time (s)</text>
<text x="0" y="0" font-size="10.8" font-weight="bold" text-anchor="middle" textLength="150.6" lengthAdjust="spacingAndGlyphs" transform="translate(9.4,76.2) rotate(-90)">Intensity Normalized to GaN-</text>
<text x="64.9" y="51.5" font-size="17" font-weight="bold" text-anchor="start" >O</text>
<text x="75.9" y="53.3" font-size="14.5" font-weight="bold" text-anchor="start" >2</text>
<text x="84.6" y="48.1" font-size="14.3" font-weight="bold" text-anchor="start" >-</text>
<text x="48.3" y="135.4" font-size="18" font-weight="bold" text-anchor="start" >(a)</text>
<rect x="139.4" y="11.2" width="61.3" height="40.4" fill="#fff" stroke="#333" stroke-width="0.7"/>
<line x1="140.5" y1="15.6" x2="153.7" y2="15.6" stroke="#1a1a1a" stroke-width="1" opacity="0.7"/>
<text transform="translate(155.3,17.7) scale(1,1.08)" font-size="5.8" font-weight="bold" text-anchor="start" >Reference AlN</text>
<line x1="140.5" y1="23.3" x2="153.7" y2="23.3" stroke="#1c1cc4" stroke-width="1" opacity="0.7"/>
<text transform="translate(155.3,25.4) scale(1,1.08)" font-size="5.8" font-weight="bold" text-anchor="start" >AlON 15x16</text>
<line x1="140.5" y1="31" x2="153.7" y2="31" stroke="#2ed42e" stroke-width="1" opacity="0.7"/>
<text transform="translate(155.3,33.1) scale(1,1.08)" font-size="5.8" font-weight="bold" text-anchor="start" >AlON 12x20</text>
<line x1="140.5" y1="38.7" x2="153.7" y2="38.7" stroke="#d42222" stroke-width="1" opacity="0.7"/>
<text transform="translate(155.3,40.8) scale(1,1.08)" font-size="5.8" font-weight="bold" text-anchor="start" >AlON&#160;&#160;<tspan dx='0.6'>8x30</tspan></text>
<line x1="140.5" y1="46.4" x2="153.7" y2="46.4" stroke="#d63cd6" stroke-width="1" opacity="0.7"/>
<text transform="translate(155.3,48.5) scale(1,1.08)" font-size="5.8" font-weight="bold" text-anchor="start" >Reference Al<tspan font-size='4' dy='1.5'>2</tspan><tspan dy='-1.5'>O</tspan><tspan font-size='4' dy='1.5'>3</tspan></text>
<line x1="39.89" y1="179" x2="39.89" y2="323.6" stroke="#efefef" stroke-width="0.5"/>
<line x1="46.68" y1="179" x2="46.68" y2="323.6" stroke="#efefef" stroke-width="0.5"/>
<line x1="53.46" y1="179" x2="53.46" y2="323.6" stroke="#efefef" stroke-width="0.5"/>
<line x1="60.25" y1="179" x2="60.25" y2="323.6" stroke="#efefef" stroke-width="0.5"/>
<line x1="73.83" y1="179" x2="73.83" y2="323.6" stroke="#efefef" stroke-width="0.5"/>
<line x1="80.62" y1="179" x2="80.62" y2="323.6" stroke="#efefef" stroke-width="0.5"/>
<line x1="87.4" y1="179" x2="87.4" y2="323.6" stroke="#efefef" stroke-width="0.5"/>
<line x1="94.19" y1="179" x2="94.19" y2="323.6" stroke="#efefef" stroke-width="0.5"/>
<line x1="107.77" y1="179" x2="107.77" y2="323.6" stroke="#efefef" stroke-width="0.5"/>
<line x1="114.56" y1="179" x2="114.56" y2="323.6" stroke="#efefef" stroke-width="0.5"/>
<line x1="121.34" y1="179" x2="121.34" y2="323.6" stroke="#efefef" stroke-width="0.5"/>
<line x1="128.13" y1="179" x2="128.13" y2="323.6" stroke="#efefef" stroke-width="0.5"/>
<line x1="141.71" y1="179" x2="141.71" y2="323.6" stroke="#efefef" stroke-width="0.5"/>
<line x1="148.5" y1="179" x2="148.5" y2="323.6" stroke="#efefef" stroke-width="0.5"/>
<line x1="155.28" y1="179" x2="155.28" y2="323.6" stroke="#efefef" stroke-width="0.5"/>
<line x1="162.07" y1="179" x2="162.07" y2="323.6" stroke="#efefef" stroke-width="0.5"/>
<line x1="175.65" y1="179" x2="175.65" y2="323.6" stroke="#efefef" stroke-width="0.5"/>
<line x1="182.44" y1="179" x2="182.44" y2="323.6" stroke="#efefef" stroke-width="0.5"/>
<line x1="189.22" y1="179" x2="189.22" y2="323.6" stroke="#efefef" stroke-width="0.5"/>
<line x1="196.01" y1="179" x2="196.01" y2="323.6" stroke="#efefef" stroke-width="0.5"/>
<line x1="33.1" y1="323.56" x2="202.8" y2="323.56" stroke="#efefef" stroke-width="0.5"/>
<line x1="33.1" y1="318.86" x2="202.8" y2="318.86" stroke="#efefef" stroke-width="0.5"/>
<line x1="33.1" y1="315.52" x2="202.8" y2="315.52" stroke="#efefef" stroke-width="0.5"/>
<line x1="33.1" y1="312.94" x2="202.8" y2="312.94" stroke="#efefef" stroke-width="0.5"/>
<line x1="33.1" y1="310.82" x2="202.8" y2="310.82" stroke="#efefef" stroke-width="0.5"/>
<line x1="33.1" y1="309.04" x2="202.8" y2="309.04" stroke="#efefef" stroke-width="0.5"/>
<line x1="33.1" y1="307.49" x2="202.8" y2="307.49" stroke="#efefef" stroke-width="0.5"/>
<line x1="33.1" y1="306.12" x2="202.8" y2="306.12" stroke="#efefef" stroke-width="0.5"/>
<line x1="33.1" y1="296.86" x2="202.8" y2="296.86" stroke="#efefef" stroke-width="0.5"/>
<line x1="33.1" y1="292.16" x2="202.8" y2="292.16" stroke="#efefef" stroke-width="0.5"/>
<line x1="33.1" y1="288.82" x2="202.8" y2="288.82" stroke="#efefef" stroke-width="0.5"/>
<line x1="33.1" y1="286.24" x2="202.8" y2="286.24" stroke="#efefef" stroke-width="0.5"/>
<line x1="33.1" y1="284.12" x2="202.8" y2="284.12" stroke="#efefef" stroke-width="0.5"/>
<line x1="33.1" y1="282.34" x2="202.8" y2="282.34" stroke="#efefef" stroke-width="0.5"/>
<line x1="33.1" y1="280.79" x2="202.8" y2="280.79" stroke="#efefef" stroke-width="0.5"/>
<line x1="33.1" y1="279.42" x2="202.8" y2="279.42" stroke="#efefef" stroke-width="0.5"/>
<line x1="33.1" y1="270.16" x2="202.8" y2="270.16" stroke="#efefef" stroke-width="0.5"/>
<line x1="33.1" y1="265.46" x2="202.8" y2="265.46" stroke="#efefef" stroke-width="0.5"/>
<line x1="33.1" y1="262.12" x2="202.8" y2="262.12" stroke="#efefef" stroke-width="0.5"/>
<line x1="33.1" y1="259.54" x2="202.8" y2="259.54" stroke="#efefef" stroke-width="0.5"/>
<line x1="33.1" y1="257.42" x2="202.8" y2="257.42" stroke="#efefef" stroke-width="0.5"/>
<line x1="33.1" y1="255.64" x2="202.8" y2="255.64" stroke="#efefef" stroke-width="0.5"/>
<line x1="33.1" y1="254.09" x2="202.8" y2="254.09" stroke="#efefef" stroke-width="0.5"/>
<line x1="33.1" y1="252.72" x2="202.8" y2="252.72" stroke="#efefef" stroke-width="0.5"/>
<line x1="33.1" y1="243.46" x2="202.8" y2="243.46" stroke="#efefef" stroke-width="0.5"/>
<line x1="33.1" y1="238.76" x2="202.8" y2="238.76" stroke="#efefef" stroke-width="0.5"/>
<line x1="33.1" y1="235.42" x2="202.8" y2="235.42" stroke="#efefef" stroke-width="0.5"/>
<line x1="33.1" y1="232.84" x2="202.8" y2="232.84" stroke="#efefef" stroke-width="0.5"/>
<line x1="33.1" y1="230.72" x2="202.8" y2="230.72" stroke="#efefef" stroke-width="0.5"/>
<line x1="33.1" y1="228.94" x2="202.8" y2="228.94" stroke="#efefef" stroke-width="0.5"/>
<line x1="33.1" y1="227.39" x2="202.8" y2="227.39" stroke="#efefef" stroke-width="0.5"/>
<line x1="33.1" y1="226.02" x2="202.8" y2="226.02" stroke="#efefef" stroke-width="0.5"/>
<line x1="33.1" y1="216.76" x2="202.8" y2="216.76" stroke="#efefef" stroke-width="0.5"/>
<line x1="33.1" y1="212.06" x2="202.8" y2="212.06" stroke="#efefef" stroke-width="0.5"/>
<line x1="33.1" y1="208.72" x2="202.8" y2="208.72" stroke="#efefef" stroke-width="0.5"/>
<line x1="33.1" y1="206.14" x2="202.8" y2="206.14" stroke="#efefef" stroke-width="0.5"/>
<line x1="33.1" y1="204.02" x2="202.8" y2="204.02" stroke="#efefef" stroke-width="0.5"/>
<line x1="33.1" y1="202.24" x2="202.8" y2="202.24" stroke="#efefef" stroke-width="0.5"/>
<line x1="33.1" y1="200.69" x2="202.8" y2="200.69" stroke="#efefef" stroke-width="0.5"/>
<line x1="33.1" y1="199.32" x2="202.8" y2="199.32" stroke="#efefef" stroke-width="0.5"/>
<line x1="33.1" y1="190.06" x2="202.8" y2="190.06" stroke="#efefef" stroke-width="0.5"/>
<line x1="33.1" y1="185.36" x2="202.8" y2="185.36" stroke="#efefef" stroke-width="0.5"/>
<line x1="33.1" y1="182.02" x2="202.8" y2="182.02" stroke="#efefef" stroke-width="0.5"/>
<line x1="33.1" y1="179.44" x2="202.8" y2="179.44" stroke="#efefef" stroke-width="0.5"/>
<line x1="67.04" y1="179" x2="67.04" y2="323.6" stroke="#d2d2d2" stroke-width="0.6"/>
<line x1="100.98" y1="179" x2="100.98" y2="323.6" stroke="#d2d2d2" stroke-width="0.6"/>
<line x1="134.92" y1="179" x2="134.92" y2="323.6" stroke="#d2d2d2" stroke-width="0.6"/>
<line x1="168.86" y1="179" x2="168.86" y2="323.6" stroke="#d2d2d2" stroke-width="0.6"/>
<line x1="33.1" y1="304.9" x2="202.8" y2="304.9" stroke="#d2d2d2" stroke-width="0.6"/>
<line x1="33.1" y1="278.2" x2="202.8" y2="278.2" stroke="#d2d2d2" stroke-width="0.6"/>
<line x1="33.1" y1="251.5" x2="202.8" y2="251.5" stroke="#d2d2d2" stroke-width="0.6"/>
<line x1="33.1" y1="224.8" x2="202.8" y2="224.8" stroke="#d2d2d2" stroke-width="0.6"/>
<line x1="33.1" y1="198.1" x2="202.8" y2="198.1" stroke="#d2d2d2" stroke-width="0.6"/>
<polyline points="33.3,245 33.9,268.8 35.2,284.3 36.5,292 37,311.5 37.5,311.5 38,292.84 38.5,295.42 39,311.5 39.5,287.39 40,295.42 41,292.84 41.5,295.42 42,311.5 42.5,292.84 43,303.46 43.5,311.5 44,298.76 44.5,292.84 45,295.42 45.5,311.5 46,311.5 46.5,311.5 47,311.5 47.5,311.5 48,311.5 48.5,311.5 49.5,311.5 50,298.76 51,298.76 53,295.42 53.5,311.5 54,298.76 54.5,303.46 55,295.42 55.5,298.76 56,311.5 56.5,311.5 57,303.46 57.5,311.5 58,303.46 58.5,311.5 59,295.42 59.5,292.84 60,311.5 61,311.5 61.5,311.5 62,298.76 62.5,311.5 63,311.5 63.5,311.5 64,311.5 65,295.42 65.5,298.76 66,311.5 66.5,298.76 67,311.5 67.5,311.5 68,298.76 68.5,292.84 69,298.76 69.5,298.76 70,311.5 70.5,311.5 71,303.46 71.5,311.5 72,303.46 72.5,298.76 73,303.46 73.5,295.42 74.5,311.5 75,295.42 75.5,311.5 76.5,298.76 77,303.46 77.5,303.46 78,303.46 78.5,311.5 79.5,298.76 80,311.5 80.5,292.84 81,311.5 81.5,311.5 82,303.46 82.5,298.76 83,298.76 83.5,311.5 84,303.46 84.5,298.76 85,303.46 86,303.46 86.5,311.5 87,303.46 87.5,311.5 88,311.5 88.5,295.42 89,311.5 89.5,311.5 90,311.5 90.5,311.5 91,311.5 91.5,298.76 92,311.5 92.5,311.5 93,298.76 93.5,298.76 94,311.5 94.5,303.46 95,292.84 95.5,303.46 96,298.76 96.5,290.72 97,295.42 97.5,295.42 98,303.46 98.5,298.76 99,311.5 99.5,311.5 100,311.5 100.5,311.5 101,303.46 101.5,311.5 102,295.42 102.5,295.42 103,311.5 103.5,303.46 104,303.46 104.5,311.5 105,298.76 105.5,303.46 106,298.76 106.5,311.5 107,311.5 107.5,290.72 108,298.76 108.5,311.5 109,295.42 109.5,298.76 110,298.76 110.5,311.5 111,311.5 111.5,311.5 112,298.76 112.5,298.76" fill="none" stroke="#d63cd6" stroke-width="1.5" stroke-linejoin="round" opacity="1.0"/>
<polyline points="112.5,298.76 112.6,311 112.71,309.73 112.84,308.06 113.02,305.94 113.26,303.27 113.6,300 114.05,295.84 114.59,290.84 115.2,285.42 115.84,280 116.5,275 117.17,270.4 117.87,265.93 118.6,261.61 119.34,257.46 120.1,253.5 120.86,249.8 121.62,246.35 122.41,243.05 123.23,239.8 124.1,236.5 125.05,233.03 126.06,229.46 127.1,225.96 128.12,222.75 129.1,220 130.04,217.8 130.97,216.02 131.87,214.54 132.72,213.24 133.5,212 134.18,210.84 134.78,209.83 135.33,208.96 135.89,208.19 136.5,207.5 137.17,206.84 137.86,206.24 138.58,205.75 139.29,205.45 140,205.4 140.71,205.63 141.42,206.1 142.14,206.77 142.83,207.58 143.5,208.5 144.13,209.53 144.74,210.69 145.33,211.98 145.91,213.42 146.5,215 147.08,216.7 147.64,218.51 148.21,220.47 148.79,222.62 149.4,225 150.04,227.76 150.7,230.88 151.38,234.12 152.08,237.24 152.8,240 153.55,242.4 154.34,244.6 155.14,246.6 155.94,248.4 156.7,250 157.42,251.37 158.1,252.5 158.78,253.46 159.47,254.27 160.2,255 160.96,255.6 161.72,256.03 162.52,256.36 163.37,256.66 164.3,257 165.43,257.4 166.74,257.82 168.05,258.22 169.2,258.56 170,258.8 170.5,257.38 171.1,260.27 171.7,257.47 172.3,259.59 172.9,260.91 173.5,259.98 174.1,258.25 174.7,261.01 175.3,260.53 175.9,260.6 176.5,260.16 177.1,259.84 177.7,259.88 178.3,261.38 178.9,262.52 179.5,261.16 180.1,262.39 180.7,259.94 181.3,262.44 181.9,261.06 182.5,261.77 183.1,263.38 183.7,263.97 184.3,261.17 184.9,260.4 185.5,262.97 186.1,262.81 186.7,262.61 187.3,261.83 187.9,261.81 188.5,264.18 189.1,263.62 189.7,262.74 190.3,262.64 190.9,263.27 191.5,263.73 192.1,263.78 192.7,266.05 193.3,263.48 193.9,265.19 194.5,263.69 195.1,264.05 195.7,263.59 196.3,265.33 196.9,266.14 197.5,263.54 198.1,265.59 198.7,266.24 199.3,265.31 199.9,263.27 200.5,264.13 201.1,265.36 201.7,264.84 202.3,264.62" fill="none" stroke="#d63cd6" stroke-width="1.3" stroke-linejoin="round" opacity="1.0"/>
<polyline points="33.3,236.35 33.5,235.95 33.77,235.26 34.1,233.67 34.51,233.37 35,232.3 35.56,231.46 36.2,230.53 36.91,230.51 37.71,229.78 38.6,228.83 39.48,228.25 40.35,227.5 41.36,227.71 42,227.37 42.65,226.64 43.53,226.84 44.4,227.05 45.19,226.29 45.99,226.29 46.78,226.19 47.51,226.14 48.24,225.85 48.97,226.26 49.69,225.86 50.33,226.21 50.96,225.98 51.59,226.28 52.22,226.16 52.86,226.22 53.48,225.56 54.11,226.1 54.74,226.05 55.36,225.59 55.99,225.29 56.69,225.35 57.39,225.92 58.1,226.06 58.8,225.21 59.59,225.34 60.39,225.45 61.18,225.11 61.9,225.62 62.61,225.8 63.33,225.77 64.02,225.16 64.71,225.81 65.4,225.68 66.12,225.09 66.85,225.7 67.57,225.74 68.18,225.66 68.78,225.5 69.39,225.52 70,225.23 70.69,224.69 71.38,225.22 72.07,224.99 72.76,224.61 73.5,224.5 74.24,225.09 74.98,225.01 75.73,224.15 76.34,224.04 76.96,224.57 77.58,224.13 78.2,224.57 78.82,224.12 79.44,224.27 80.07,223.6 80.69,224.18 81.31,223.59 81.94,223.72 82.55,223.71 83.16,223.51 83.78,223.38 84.39,223.51 85,223.1 85.62,223.16 86.23,223.1 86.85,223.71 87.46,223.19 88.08,223.76 88.71,223.66 89.34,222.98 89.98,223.58 90.61,223.67 91.24,223.16 91.86,223.18 92.49,223.34 93.11,223.16 93.74,222.94 94.36,223.35 95.1,222.87 95.84,223.01 96.58,222.67 97.32,222.92 97.99,223.34 98.66,222.71 99.33,222.74 100,222.91 100.61,222.8 101.22,222.51 101.82,222.54 102.43,222.65 103.19,223.16 103.94,223.12 104.7,223.12 105.38,223 106.06,223.25 106.74,222.55 107.64,222.9 108.53,222.62 109.26,223 110,222.45 111.03,222.55 111.66,222.48 112.06,222.46 112.45,221.91 113,220.84 113.74,220.09 114.53,218.86 115.35,217.46 116.18,215.26 117,214.21 117.78,212.75 118.55,210.75 119.33,209.24 120.14,208.26 121,207.09 121.97,205.75 123.02,204.98 124.1,203.67 125.11,203.4 126,203.03 126.73,203.3 127.34,203.49 127.9,203.45 128.43,204.63 129,205.16 129.58,206.63 130.13,208.08 130.69,209.62 131.3,210.69 132,213.03 132.82,214.77 133.74,217.34 134.71,219.76 135.65,222.33 136.5,225.24 137.26,227.71 137.96,231 138.62,233.99 139.26,237 139.9,240.12 140.53,242.09 141.15,244.87 141.75,246.49 142.33,248.05 142.9,250.26 143.45,250.91 143.97,252.22 144.49,253.45 144.99,253.71 145.5,255.18 146.01,255.92 146.53,257.1 147.04,257.28 147.53,258.51 148,259.43 148.46,259.86 148.93,260.41 149.37,261.55 149.74,262.74 150,263 150.3,268.06 150.9,265.68 151.5,262.87 152.1,266.15 152.7,263.81 153.3,270.89 153.9,269.49 154.5,269.74 155.1,267.94 155.7,271.68 156.3,270.13 156.9,272.11 157.5,266.32 158.1,272.49 158.7,273.13 159.3,272.26 159.9,274.32 160.5,275.41 161.1,273.37 161.7,273.42 162.3,275.08 162.9,270.64 163.5,272.51 164.1,276.2 164.7,277.24 165.3,272.06 165.9,277.41 166.5,280.18 167.1,278.85 167.7,278.18 168.3,289 168.9,289 169.5,275.43 170.1,277.2 170.7,277.26 171.3,277.98 171.9,273.52 172.5,276.26 173.1,278.52 173.7,278.58 174.3,275.68 174.9,275.79 175.5,277.75 176.1,278.96 176.7,276.9 177.3,276.49 177.9,279.3 178.5,282.63 179.1,275.69 179.7,278.24 180.3,279.45 180.9,281.26 181.5,277.91 182.1,277.02 182.7,282.41 183.3,275.82 183.9,279.77 184.5,279.62 185.1,277.08 185.7,280.69 186.3,286.5 186.9,278.51 187.5,282.74 188.1,281.35 188.7,281.3 189.3,282.79 189.9,281.13 190.5,284.76 191.1,283.28 191.7,281.33 192.3,283 192.9,279.02 193.5,282.62 194.1,283.16 194.7,282.54 195.3,278.81 195.9,284.45 196.5,279.43 197.1,280.8 197.7,282.33 198.3,280.89 198.9,279.66 199.5,282.77 200.1,279.97 200.7,281.81 201.3,281.01 201.9,282.34 202.5,278.2" fill="none" stroke="#2ed42e" stroke-width="1.3" stroke-linejoin="round" opacity="1.0"/>
<polyline points="33.3,232.44 33.5,232.02 33.77,231.19 34.1,230.04 34.51,229.29 35,228.49 35.56,227.92 36.2,227.47 36.91,225.86 37.71,225.53 38.6,224.54 39.48,223.7 40.35,223.39 41.36,222.62 42,222.96 42.65,223.02 43.53,222.32 44.4,222.72 45.19,222 45.99,221.94 46.78,222.13 47.51,221.63 48.24,221.39 48.97,221.73 49.69,221.65 50.33,221.29 50.96,221.25 51.59,221.14 52.22,221.15 52.86,221.06 53.48,221.46 54.11,221.63 54.74,221.32 55.36,220.93 55.99,221.18 56.69,221.48 57.39,220.89 58.1,221.16 58.8,220.45 59.59,221.08 60.39,221.1 61.18,220.75 61.9,221.02 62.61,220.7 63.33,220.82 64.02,220.52 64.71,220.38 65.4,220.24 66.12,220.45 66.85,220.59 67.57,219.88 68.18,220.4 68.78,219.78 69.39,220.28 70,220.29 70.69,220.41 71.38,220.1 72.07,220.03 72.76,219.99 73.5,219.9 74.24,219.83 74.98,219.73 75.73,219.8 76.34,219.29 76.96,219.76 77.58,219 78.2,218.8 78.82,218.74 79.44,219.12 80.07,219.34 80.69,218.61 81.31,219.24 81.94,218.83 82.55,218.93 83.16,218.44 83.78,219.13 84.39,218.61 85,218.37 85.62,218.69 86.24,218.15 86.87,218.68 87.49,218.83 88.11,218.17 88.76,218.28 89.4,218.3 90.05,218.23 90.69,218.62 91.34,218.79 91.97,218.48 92.6,218.7 93.24,218.89 93.87,218.82 94.5,218.43 95.24,218.89 95.98,218.25 96.71,218.82 97.45,218.15 98.09,218.33 98.72,218.11 99.36,218.49 100,218.05 100.7,218.41 101.41,217.94 102.11,218.31 103,217.99 103.9,217.67 104.66,217.32 105.42,217.69 106.1,216.96 106.77,216.86 107.38,217.13 108,216.84 109.06,216.14 109.89,215.46 110.59,214.97 111.26,214.19 112,213.3 112.79,212.16 113.58,210.61 114.36,209.61 115.17,208.02 116,207.06 116.88,205.55 117.81,204.66 118.75,204.23 119.66,203.01 120.5,202.64 121.26,203.22 121.95,203.34 122.61,203.76 123.28,204.25 124,204.82 124.78,206.58 125.6,208.44 126.43,210.24 127.24,212.57 128,215.1 128.7,216.85 129.34,218.83 129.97,221.02 130.61,222.3 131.3,224.69 132.06,228.19 132.86,230.53 133.68,234 134.47,237.29 135.2,239.79 135.88,242.3 136.52,244.3 137.13,246.88 137.69,248.15 138.2,250.2 138.61,251.28 138.94,252.36 139.24,252.86 139.57,254.43 140,254.56 140.54,256.32 141.15,256.54 141.81,257.86 142.5,258.92 143.2,260.1 143.98,260.94 144.86,262.88 145.72,263.53 146.47,264.49 147,265.5 147.3,266.16 147.9,266.27 148.5,264.71 149.1,264.34 149.7,265.18 150.3,268.54 150.9,267.15 151.5,270.6 152.1,266.76 152.7,270.43 153.3,269.73 153.9,270.41 154.5,268.7 155.1,269.22 155.7,271.73 156.3,270.77 156.9,270.77 157.5,269.89 158.1,269.39 158.7,273.28 159.3,270.91 159.9,271.36 160.5,273.72 161.1,271.73 161.7,271.21 162.3,272.43 162.9,270.32 163.5,270.59 164.1,271.33 164.7,271.95 165.3,272.12 165.9,272.84 166.5,272.98 167.1,272.61 167.7,274.03 168.3,272.74 168.9,273.02 169.5,274.66 170.1,274.85 170.7,274.11 171.3,272.29 171.9,276.99 172.5,275.23 173.1,271.33 173.7,273.21 174.3,274.48 174.9,271.54 175.5,275.68 176.1,272.7 176.7,276.31 177.3,273.47 177.9,278.23 178.5,274.73 179.1,276.18 179.7,276.86 180.3,277.58 180.9,275 181.5,274.76 182.1,274.95 182.7,277.33 183.3,276.9 183.9,277.12 184.5,276.43 185.1,275.04 185.7,277 186.3,275.48 186.9,275.45 187.5,277.11 188.1,275.26 188.7,277.29 189.3,276.93 189.9,274.18 190.5,278.29 191.1,277.55 191.7,275.11 192.3,278.68 192.9,277.82 193.5,275.19 194.1,278.37 194.7,277.59 195.3,279.96 195.9,278.75 196.5,279.16 197.1,280.7 197.7,277.65 198.3,279.53 198.9,276.19 199.5,276.71 200.1,278.41 200.7,279.73 201.3,278.05 201.9,278.75 202.5,279.89" fill="none" stroke="#1c1cc4" stroke-width="1.3" stroke-linejoin="round" opacity="1.0"/>
<polyline points="33.3,250.28 33.41,249.74 33.54,248.96 33.72,247.67 33.96,246.86 34.3,245.8 34.74,244.64 35.26,243.55 35.85,241.95 36.5,240.88 37.2,239.95 37.88,239.12 38.54,237.44 39.3,237.3 40.25,236.66 40.87,236.23 41.5,236.21 42.26,236.07 43.02,235.23 43.87,235.34 44.72,234.67 45.38,234.79 46.03,234.57 46.68,234.84 47.44,234.8 48.2,234.63 48.96,234.19 49.62,234.26 50.28,234.12 50.94,233.93 51.6,233.47 52.24,233.53 52.88,234.08 53.52,233.69 54.16,233.2 54.8,233.35 55.42,233.1 56.04,233.05 56.66,233.23 57.28,233.11 57.91,232.82 58.53,233.2 59.19,233.55 59.85,233.09 60.51,232.99 61.17,232.93 61.83,232.79 62.49,232.8 63.14,232.64 63.79,232.81 64.45,233.2 65.1,232.66 65.75,233.08 66.4,232.7 67.12,232.76 67.84,232.56 68.56,232.42 69.28,232.81 70,232.48 70.64,232.05 71.29,232.08 71.93,232.08 72.57,232.16 73.22,231.92 73.82,231.73 74.43,231.68 75.03,232.22 75.64,231.91 76.24,231.94 76.97,231.86 77.7,231.07 78.43,231.32 79.16,231.38 79.89,231.08 80.61,231.02 81.33,231.01 82.05,230.92 82.79,230.43 83.53,230.25 84.26,230.37 85,230.08 85.62,230.29 86.24,230.01 86.87,230.03 87.49,230.49 88.11,230.04 88.76,230.48 89.4,230.2 90.05,230.55 90.69,230.28 91.34,230.54 91.97,230.13 92.6,230.11 93.24,230.56 93.87,230.33 94.5,230.08 95.24,230.47 95.98,230.32 96.71,230.24 97.45,229.67 98.09,230.42 98.72,229.69 99.36,229.59 100,229.86 100.7,229.69 101.41,229.7 102.11,229.89 103,229.86 103.9,229.97 104.66,230.09 105.42,229.88 106.1,229.95 106.77,229.48 107.38,229.11 108,229.49 109.06,229.47 109.89,228.45 110.59,228.47 111.26,227.72 112,227.43 112.78,225.48 113.55,224.55 114.33,222.91 115.14,221.22 116,219.72 116.94,216.9 117.93,214.67 118.95,212.74 119.98,209.91 121,207.56 122.03,206.57 123.1,205.31 124.14,204.53 125.13,203.76 126,203.4 126.73,202.73 127.34,203.06 127.9,203.96 128.43,204.42 129,205.39 129.58,206.19 130.13,207.65 130.69,209.11 131.3,211.02 132,213.18 132.82,214.79 133.74,217.14 134.71,219.39 135.65,222.25 136.5,225.08 137.26,227.98 137.96,231.16 138.62,234.25 139.26,237.45 139.9,240.27 140.53,242.71 141.15,244.15 141.75,246.99 142.33,248.38 142.9,250.44 143.45,251.58 143.97,252.39 144.49,252.93 144.99,253.81 145.5,255.25 146.01,255.36 146.52,256.13 147.02,257.39 147.51,257.99 148,258.76 148.51,259.02 149.04,260.7 149.56,261.37 149.99,261.44 150.3,262.4 150.6,261.37 151.2,262.17 151.8,263.11 152.4,265.02 153,263.65 153.6,263.46 154.2,264.79 154.8,260.83 155.4,266.64 156,265.84 156.6,265.72 157.2,264.8 157.8,265.75 158.4,265.21 159,266.13 159.6,267.07 160.2,262.31 160.8,267.32 161.4,266.09 162,265.72 162.6,267.5 163.2,267.16 163.8,267.87 164.4,264.76 165,268.75 165.6,265.08 166.2,267.45 166.8,266.07 167.4,269.45 168,266.02 168.6,269.58 169.2,265.95 169.8,268.18 170.4,268.83 171,267.59 171.6,267.78 172.2,271.7 172.8,268.95 173.4,272.31 174,268.16 174.6,268.73 175.2,273.24 175.8,269.24 176.4,270.15 177,269.42 177.6,271.71 178.2,269.41 178.8,272.66 179.4,271.64 180,273.38 180.6,269.88 181.2,269.25 181.8,272.21 182.4,270.85 183,271.35 183.6,274.42 184.2,273.36 184.8,273.17 185.4,272.59 186,274.37 186.6,274.12 187.2,271.9 187.8,277.1 188.4,274.33 189,273.8 189.6,275.02 190.2,275.21 190.8,275.25 191.4,275.11 192,275.84 192.6,275.21 193.2,274.86 193.8,273.89 194.4,276.76 195,275 195.6,276.67 196.2,274.92 196.8,277.03 197.4,275.1 198,276.02 198.6,276.21 199.2,279.17 199.8,279.62 200.4,274.66 201,276.87 201.6,277.1 202.2,279.48" fill="none" stroke="#d42222" stroke-width="1.3" stroke-linejoin="round" opacity="1.0"/>
<polyline points="119.98,209.91 121,207.56 122.03,206.57 123.1,205.31 124.14,204.53 125.13,203.76 126,203.4 126.73,202.73 127.34,203.06 127.9,203.96 128.43,204.42 129,205.39 129.58,206.19 130.13,207.65 130.69,209.11 131.3,211.02 132,213.18 132.82,214.79 133.74,217.14 134.71,219.39 135.65,222.25 136.5,225.08 137.26,227.98 137.96,231.16 138.62,234.25 139.26,237.45 139.9,240.27 140.53,242.71 141.15,244.15 141.75,246.99 142.33,248.38 142.9,250.44 143.45,251.58 143.97,252.39 144.49,252.93 144.99,253.81 145.5,255.25" fill="none" stroke="#2ed42e" stroke-width="1.3" stroke-linejoin="round" opacity="0.45"/>
<polyline points="33.3,229 33.64,228.48 34.11,227.79 34.66,226.92 35.24,225.83 35.8,224.5 36.34,222.79 36.89,220.72 37.46,218.5 38.03,216.32 38.6,214.4 39.15,212.77 39.69,211.29 40.23,209.9 40.83,208.56 41.5,207.2 42.27,205.78 43.12,204.33 44.02,202.93 44.92,201.63 45.8,200.5 46.64,199.58 47.48,198.82 48.31,198.17 49.15,197.58 50,197 50.82,196.44 51.59,195.94 52.4,195.48 53.31,195.04 54.4,194.6 55.71,194.16 57.19,193.72 58.78,193.31 60.4,192.93 62,192.6 63.54,192.33 65.08,192.11 66.64,191.92 68.27,191.76 70,191.6 71.9,191.46 73.95,191.35 76.05,191.25 78.1,191.14 80,191 81.78,190.82 83.51,190.62 85.14,190.4 86.65,190.19 88,190 89.16,189.82 90.14,189.65 91,189.49 91.8,189.34 92.6,189.2 93.4,189.06 94.18,188.92 94.9,188.79 95.55,188.71 96.1,188.7 96.55,188.79 96.92,188.96 97.2,189.18 97.43,189.37 97.6,189.5 97.8,214.5 98.1,196 98.4,214 98.7,192 100,193.8 100,193.8 100.42,194.41 101.01,195.26 101.69,196.27 102.38,197.34 103,198.4 103.54,199.41 104.06,200.44 104.55,201.52 105.03,202.7 105.5,204 105.94,205.46 106.35,207.05 106.76,208.74 107.17,210.47 107.6,212.2 108.04,213.87 108.46,215.5 108.91,217.2 109.41,219.07 110,221.2 110.7,223.69 111.48,226.48 112.32,229.42 113.17,232.38 114,235.2 114.8,237.94 115.6,240.7 116.39,243.39 117.19,245.95 118,248.3 118.82,250.44 119.64,252.42 120.46,254.25 121.28,255.91 122.1,257.4 122.97,258.74 123.9,259.94 124.79,260.96 125.56,261.79 126.1,262.4 126.4,260.31 127,264.13 127.6,266.79 128.2,264.49 128.8,264.6 129.4,266.02 130,264.65 130.6,265.44 131.2,264.76 131.8,265.13 132.4,263.85 133,267.85 133.6,265.48 134.2,267.41 134.8,267.53 135.4,267.88 136,268.59 136.6,266.72 137.2,267.66 137.8,270.9 138.4,267.91 139,268.95 139.6,270.75 140.2,269.23 140.8,267.86 141.4,273.45 142,268.88 142.6,271.25 143.2,271.7 143.8,269.17 144.4,271.17 145,271.86 145.6,272.39 146.2,272.23 146.8,272.11 147.4,271.06 148,271.54 148.6,272.69 149.2,277.11 149.8,274.46" fill="none" stroke="#1a1a1a" stroke-width="1.05" stroke-linejoin="round" opacity="1.0"/>
<line x1="33.1" y1="323.6" x2="33.1" y2="325.8" stroke="#111" stroke-width="0.7200000000000001"/>
<line x1="33.1" y1="179" x2="33.1" y2="181.2" stroke="#111" stroke-width="0.7200000000000001"/>
<line x1="39.89" y1="323.6" x2="39.89" y2="324.9" stroke="#111" stroke-width="0.7200000000000001"/>
<line x1="39.89" y1="179" x2="39.89" y2="180.3" stroke="#111" stroke-width="0.7200000000000001"/>
<line x1="46.68" y1="323.6" x2="46.68" y2="324.9" stroke="#111" stroke-width="0.7200000000000001"/>
<line x1="46.68" y1="179" x2="46.68" y2="180.3" stroke="#111" stroke-width="0.7200000000000001"/>
<line x1="53.46" y1="323.6" x2="53.46" y2="324.9" stroke="#111" stroke-width="0.7200000000000001"/>
<line x1="53.46" y1="179" x2="53.46" y2="180.3" stroke="#111" stroke-width="0.7200000000000001"/>
<line x1="60.25" y1="323.6" x2="60.25" y2="324.9" stroke="#111" stroke-width="0.7200000000000001"/>
<line x1="60.25" y1="179" x2="60.25" y2="180.3" stroke="#111" stroke-width="0.7200000000000001"/>
<line x1="67.04" y1="323.6" x2="67.04" y2="325.8" stroke="#111" stroke-width="0.7200000000000001"/>
<line x1="67.04" y1="179" x2="67.04" y2="181.2" stroke="#111" stroke-width="0.7200000000000001"/>
<line x1="73.83" y1="323.6" x2="73.83" y2="324.9" stroke="#111" stroke-width="0.7200000000000001"/>
<line x1="73.83" y1="179" x2="73.83" y2="180.3" stroke="#111" stroke-width="0.7200000000000001"/>
<line x1="80.62" y1="323.6" x2="80.62" y2="324.9" stroke="#111" stroke-width="0.7200000000000001"/>
<line x1="80.62" y1="179" x2="80.62" y2="180.3" stroke="#111" stroke-width="0.7200000000000001"/>
<line x1="87.4" y1="323.6" x2="87.4" y2="324.9" stroke="#111" stroke-width="0.7200000000000001"/>
<line x1="87.4" y1="179" x2="87.4" y2="180.3" stroke="#111" stroke-width="0.7200000000000001"/>
<line x1="94.19" y1="323.6" x2="94.19" y2="324.9" stroke="#111" stroke-width="0.7200000000000001"/>
<line x1="94.19" y1="179" x2="94.19" y2="180.3" stroke="#111" stroke-width="0.7200000000000001"/>
<line x1="100.98" y1="323.6" x2="100.98" y2="325.8" stroke="#111" stroke-width="0.7200000000000001"/>
<line x1="100.98" y1="179" x2="100.98" y2="181.2" stroke="#111" stroke-width="0.7200000000000001"/>
<line x1="107.77" y1="323.6" x2="107.77" y2="324.9" stroke="#111" stroke-width="0.7200000000000001"/>
<line x1="107.77" y1="179" x2="107.77" y2="180.3" stroke="#111" stroke-width="0.7200000000000001"/>
<line x1="114.56" y1="323.6" x2="114.56" y2="324.9" stroke="#111" stroke-width="0.7200000000000001"/>
<line x1="114.56" y1="179" x2="114.56" y2="180.3" stroke="#111" stroke-width="0.7200000000000001"/>
<line x1="121.34" y1="323.6" x2="121.34" y2="324.9" stroke="#111" stroke-width="0.7200000000000001"/>
<line x1="121.34" y1="179" x2="121.34" y2="180.3" stroke="#111" stroke-width="0.7200000000000001"/>
<line x1="128.13" y1="323.6" x2="128.13" y2="324.9" stroke="#111" stroke-width="0.7200000000000001"/>
<line x1="128.13" y1="179" x2="128.13" y2="180.3" stroke="#111" stroke-width="0.7200000000000001"/>
<line x1="134.92" y1="323.6" x2="134.92" y2="325.8" stroke="#111" stroke-width="0.7200000000000001"/>
<line x1="134.92" y1="179" x2="134.92" y2="181.2" stroke="#111" stroke-width="0.7200000000000001"/>
<line x1="141.71" y1="323.6" x2="141.71" y2="324.9" stroke="#111" stroke-width="0.7200000000000001"/>
<line x1="141.71" y1="179" x2="141.71" y2="180.3" stroke="#111" stroke-width="0.7200000000000001"/>
<line x1="148.5" y1="323.6" x2="148.5" y2="324.9" stroke="#111" stroke-width="0.7200000000000001"/>
<line x1="148.5" y1="179" x2="148.5" y2="180.3" stroke="#111" stroke-width="0.7200000000000001"/>
<line x1="155.28" y1="323.6" x2="155.28" y2="324.9" stroke="#111" stroke-width="0.7200000000000001"/>
<line x1="155.28" y1="179" x2="155.28" y2="180.3" stroke="#111" stroke-width="0.7200000000000001"/>
<line x1="162.07" y1="323.6" x2="162.07" y2="324.9" stroke="#111" stroke-width="0.7200000000000001"/>
<line x1="162.07" y1="179" x2="162.07" y2="180.3" stroke="#111" stroke-width="0.7200000000000001"/>
<line x1="168.86" y1="323.6" x2="168.86" y2="325.8" stroke="#111" stroke-width="0.7200000000000001"/>
<line x1="168.86" y1="179" x2="168.86" y2="181.2" stroke="#111" stroke-width="0.7200000000000001"/>
<line x1="175.65" y1="323.6" x2="175.65" y2="324.9" stroke="#111" stroke-width="0.7200000000000001"/>
<line x1="175.65" y1="179" x2="175.65" y2="180.3" stroke="#111" stroke-width="0.7200000000000001"/>
<line x1="182.44" y1="323.6" x2="182.44" y2="324.9" stroke="#111" stroke-width="0.7200000000000001"/>
<line x1="182.44" y1="179" x2="182.44" y2="180.3" stroke="#111" stroke-width="0.7200000000000001"/>
<line x1="189.22" y1="323.6" x2="189.22" y2="324.9" stroke="#111" stroke-width="0.7200000000000001"/>
<line x1="189.22" y1="179" x2="189.22" y2="180.3" stroke="#111" stroke-width="0.7200000000000001"/>
<line x1="196.01" y1="323.6" x2="196.01" y2="324.9" stroke="#111" stroke-width="0.7200000000000001"/>
<line x1="196.01" y1="179" x2="196.01" y2="180.3" stroke="#111" stroke-width="0.7200000000000001"/>
<line x1="202.8" y1="323.6" x2="202.8" y2="325.8" stroke="#111" stroke-width="0.7200000000000001"/>
<line x1="202.8" y1="179" x2="202.8" y2="181.2" stroke="#111" stroke-width="0.7200000000000001"/>
<line x1="31.8" y1="323.56" x2="33.1" y2="323.56" stroke="#111" stroke-width="0.7200000000000001"/>
<line x1="201.5" y1="323.56" x2="202.8" y2="323.56" stroke="#111" stroke-width="0.7200000000000001"/>
<line x1="31.8" y1="318.86" x2="33.1" y2="318.86" stroke="#111" stroke-width="0.7200000000000001"/>
<line x1="201.5" y1="318.86" x2="202.8" y2="318.86" stroke="#111" stroke-width="0.7200000000000001"/>
<line x1="31.8" y1="315.52" x2="33.1" y2="315.52" stroke="#111" stroke-width="0.7200000000000001"/>
<line x1="201.5" y1="315.52" x2="202.8" y2="315.52" stroke="#111" stroke-width="0.7200000000000001"/>
<line x1="31.8" y1="312.94" x2="33.1" y2="312.94" stroke="#111" stroke-width="0.7200000000000001"/>
<line x1="201.5" y1="312.94" x2="202.8" y2="312.94" stroke="#111" stroke-width="0.7200000000000001"/>
<line x1="31.8" y1="310.82" x2="33.1" y2="310.82" stroke="#111" stroke-width="0.7200000000000001"/>
<line x1="201.5" y1="310.82" x2="202.8" y2="310.82" stroke="#111" stroke-width="0.7200000000000001"/>
<line x1="31.8" y1="309.04" x2="33.1" y2="309.04" stroke="#111" stroke-width="0.7200000000000001"/>
<line x1="201.5" y1="309.04" x2="202.8" y2="309.04" stroke="#111" stroke-width="0.7200000000000001"/>
<line x1="31.8" y1="307.49" x2="33.1" y2="307.49" stroke="#111" stroke-width="0.7200000000000001"/>
<line x1="201.5" y1="307.49" x2="202.8" y2="307.49" stroke="#111" stroke-width="0.7200000000000001"/>
<line x1="31.8" y1="306.12" x2="33.1" y2="306.12" stroke="#111" stroke-width="0.7200000000000001"/>
<line x1="201.5" y1="306.12" x2="202.8" y2="306.12" stroke="#111" stroke-width="0.7200000000000001"/>
<line x1="30.9" y1="304.9" x2="33.1" y2="304.9" stroke="#111" stroke-width="0.7200000000000001"/>
<line x1="200.6" y1="304.9" x2="202.8" y2="304.9" stroke="#111" stroke-width="0.7200000000000001"/>
<line x1="31.8" y1="296.86" x2="33.1" y2="296.86" stroke="#111" stroke-width="0.7200000000000001"/>
<line x1="201.5" y1="296.86" x2="202.8" y2="296.86" stroke="#111" stroke-width="0.7200000000000001"/>
<line x1="31.8" y1="292.16" x2="33.1" y2="292.16" stroke="#111" stroke-width="0.7200000000000001"/>
<line x1="201.5" y1="292.16" x2="202.8" y2="292.16" stroke="#111" stroke-width="0.7200000000000001"/>
<line x1="31.8" y1="288.82" x2="33.1" y2="288.82" stroke="#111" stroke-width="0.7200000000000001"/>
<line x1="201.5" y1="288.82" x2="202.8" y2="288.82" stroke="#111" stroke-width="0.7200000000000001"/>
<line x1="31.8" y1="286.24" x2="33.1" y2="286.24" stroke="#111" stroke-width="0.7200000000000001"/>
<line x1="201.5" y1="286.24" x2="202.8" y2="286.24" stroke="#111" stroke-width="0.7200000000000001"/>
<line x1="31.8" y1="284.12" x2="33.1" y2="284.12" stroke="#111" stroke-width="0.7200000000000001"/>
<line x1="201.5" y1="284.12" x2="202.8" y2="284.12" stroke="#111" stroke-width="0.7200000000000001"/>
<line x1="31.8" y1="282.34" x2="33.1" y2="282.34" stroke="#111" stroke-width="0.7200000000000001"/>
<line x1="201.5" y1="282.34" x2="202.8" y2="282.34" stroke="#111" stroke-width="0.7200000000000001"/>
<line x1="31.8" y1="280.79" x2="33.1" y2="280.79" stroke="#111" stroke-width="0.7200000000000001"/>
<line x1="201.5" y1="280.79" x2="202.8" y2="280.79" stroke="#111" stroke-width="0.7200000000000001"/>
<line x1="31.8" y1="279.42" x2="33.1" y2="279.42" stroke="#111" stroke-width="0.7200000000000001"/>
<line x1="201.5" y1="279.42" x2="202.8" y2="279.42" stroke="#111" stroke-width="0.7200000000000001"/>
<line x1="30.9" y1="278.2" x2="33.1" y2="278.2" stroke="#111" stroke-width="0.7200000000000001"/>
<line x1="200.6" y1="278.2" x2="202.8" y2="278.2" stroke="#111" stroke-width="0.7200000000000001"/>
<line x1="31.8" y1="270.16" x2="33.1" y2="270.16" stroke="#111" stroke-width="0.7200000000000001"/>
<line x1="201.5" y1="270.16" x2="202.8" y2="270.16" stroke="#111" stroke-width="0.7200000000000001"/>
<line x1="31.8" y1="265.46" x2="33.1" y2="265.46" stroke="#111" stroke-width="0.7200000000000001"/>
<line x1="201.5" y1="265.46" x2="202.8" y2="265.46" stroke="#111" stroke-width="0.7200000000000001"/>
<line x1="31.8" y1="262.12" x2="33.1" y2="262.12" stroke="#111" stroke-width="0.7200000000000001"/>
<line x1="201.5" y1="262.12" x2="202.8" y2="262.12" stroke="#111" stroke-width="0.7200000000000001"/>
<line x1="31.8" y1="259.54" x2="33.1" y2="259.54" stroke="#111" stroke-width="0.7200000000000001"/>
<line x1="201.5" y1="259.54" x2="202.8" y2="259.54" stroke="#111" stroke-width="0.7200000000000001"/>
<line x1="31.8" y1="257.42" x2="33.1" y2="257.42" stroke="#111" stroke-width="0.7200000000000001"/>
<line x1="201.5" y1="257.42" x2="202.8" y2="257.42" stroke="#111" stroke-width="0.7200000000000001"/>
<line x1="31.8" y1="255.64" x2="33.1" y2="255.64" stroke="#111" stroke-width="0.7200000000000001"/>
<line x1="201.5" y1="255.64" x2="202.8" y2="255.64" stroke="#111" stroke-width="0.7200000000000001"/>
<line x1="31.8" y1="254.09" x2="33.1" y2="254.09" stroke="#111" stroke-width="0.7200000000000001"/>
<line x1="201.5" y1="254.09" x2="202.8" y2="254.09" stroke="#111" stroke-width="0.7200000000000001"/>
<line x1="31.8" y1="252.72" x2="33.1" y2="252.72" stroke="#111" stroke-width="0.7200000000000001"/>
<line x1="201.5" y1="252.72" x2="202.8" y2="252.72" stroke="#111" stroke-width="0.7200000000000001"/>
<line x1="30.9" y1="251.5" x2="33.1" y2="251.5" stroke="#111" stroke-width="0.7200000000000001"/>
<line x1="200.6" y1="251.5" x2="202.8" y2="251.5" stroke="#111" stroke-width="0.7200000000000001"/>
<line x1="31.8" y1="243.46" x2="33.1" y2="243.46" stroke="#111" stroke-width="0.7200000000000001"/>
<line x1="201.5" y1="243.46" x2="202.8" y2="243.46" stroke="#111" stroke-width="0.7200000000000001"/>
<line x1="31.8" y1="238.76" x2="33.1" y2="238.76" stroke="#111" stroke-width="0.7200000000000001"/>
<line x1="201.5" y1="238.76" x2="202.8" y2="238.76" stroke="#111" stroke-width="0.7200000000000001"/>
<line x1="31.8" y1="235.42" x2="33.1" y2="235.42" stroke="#111" stroke-width="0.7200000000000001"/>
<line x1="201.5" y1="235.42" x2="202.8" y2="235.42" stroke="#111" stroke-width="0.7200000000000001"/>
<line x1="31.8" y1="232.84" x2="33.1" y2="232.84" stroke="#111" stroke-width="0.7200000000000001"/>
<line x1="201.5" y1="232.84" x2="202.8" y2="232.84" stroke="#111" stroke-width="0.7200000000000001"/>
<line x1="31.8" y1="230.72" x2="33.1" y2="230.72" stroke="#111" stroke-width="0.7200000000000001"/>
<line x1="201.5" y1="230.72" x2="202.8" y2="230.72" stroke="#111" stroke-width="0.7200000000000001"/>
<line x1="31.8" y1="228.94" x2="33.1" y2="228.94" stroke="#111" stroke-width="0.7200000000000001"/>
<line x1="201.5" y1="228.94" x2="202.8" y2="228.94" stroke="#111" stroke-width="0.7200000000000001"/>
<line x1="31.8" y1="227.39" x2="33.1" y2="227.39" stroke="#111" stroke-width="0.7200000000000001"/>
<line x1="201.5" y1="227.39" x2="202.8" y2="227.39" stroke="#111" stroke-width="0.7200000000000001"/>
<line x1="31.8" y1="226.02" x2="33.1" y2="226.02" stroke="#111" stroke-width="0.7200000000000001"/>
<line x1="201.5" y1="226.02" x2="202.8" y2="226.02" stroke="#111" stroke-width="0.7200000000000001"/>
<line x1="30.9" y1="224.8" x2="33.1" y2="224.8" stroke="#111" stroke-width="0.7200000000000001"/>
<line x1="200.6" y1="224.8" x2="202.8" y2="224.8" stroke="#111" stroke-width="0.7200000000000001"/>
<line x1="31.8" y1="216.76" x2="33.1" y2="216.76" stroke="#111" stroke-width="0.7200000000000001"/>
<line x1="201.5" y1="216.76" x2="202.8" y2="216.76" stroke="#111" stroke-width="0.7200000000000001"/>
<line x1="31.8" y1="212.06" x2="33.1" y2="212.06" stroke="#111" stroke-width="0.7200000000000001"/>
<line x1="201.5" y1="212.06" x2="202.8" y2="212.06" stroke="#111" stroke-width="0.7200000000000001"/>
<line x1="31.8" y1="208.72" x2="33.1" y2="208.72" stroke="#111" stroke-width="0.7200000000000001"/>
<line x1="201.5" y1="208.72" x2="202.8" y2="208.72" stroke="#111" stroke-width="0.7200000000000001"/>
<line x1="31.8" y1="206.14" x2="33.1" y2="206.14" stroke="#111" stroke-width="0.7200000000000001"/>
<line x1="201.5" y1="206.14" x2="202.8" y2="206.14" stroke="#111" stroke-width="0.7200000000000001"/>
<line x1="31.8" y1="204.02" x2="33.1" y2="204.02" stroke="#111" stroke-width="0.7200000000000001"/>
<line x1="201.5" y1="204.02" x2="202.8" y2="204.02" stroke="#111" stroke-width="0.7200000000000001"/>
<line x1="31.8" y1="202.24" x2="33.1" y2="202.24" stroke="#111" stroke-width="0.7200000000000001"/>
<line x1="201.5" y1="202.24" x2="202.8" y2="202.24" stroke="#111" stroke-width="0.7200000000000001"/>
<line x1="31.8" y1="200.69" x2="33.1" y2="200.69" stroke="#111" stroke-width="0.7200000000000001"/>
<line x1="201.5" y1="200.69" x2="202.8" y2="200.69" stroke="#111" stroke-width="0.7200000000000001"/>
<line x1="31.8" y1="199.32" x2="33.1" y2="199.32" stroke="#111" stroke-width="0.7200000000000001"/>
<line x1="201.5" y1="199.32" x2="202.8" y2="199.32" stroke="#111" stroke-width="0.7200000000000001"/>
<line x1="30.9" y1="198.1" x2="33.1" y2="198.1" stroke="#111" stroke-width="0.7200000000000001"/>
<line x1="200.6" y1="198.1" x2="202.8" y2="198.1" stroke="#111" stroke-width="0.7200000000000001"/>
<line x1="31.8" y1="190.06" x2="33.1" y2="190.06" stroke="#111" stroke-width="0.7200000000000001"/>
<line x1="201.5" y1="190.06" x2="202.8" y2="190.06" stroke="#111" stroke-width="0.7200000000000001"/>
<line x1="31.8" y1="185.36" x2="33.1" y2="185.36" stroke="#111" stroke-width="0.7200000000000001"/>
<line x1="201.5" y1="185.36" x2="202.8" y2="185.36" stroke="#111" stroke-width="0.7200000000000001"/>
<line x1="31.8" y1="182.02" x2="33.1" y2="182.02" stroke="#111" stroke-width="0.7200000000000001"/>
<line x1="201.5" y1="182.02" x2="202.8" y2="182.02" stroke="#111" stroke-width="0.7200000000000001"/>
<line x1="31.8" y1="179.44" x2="33.1" y2="179.44" stroke="#111" stroke-width="0.7200000000000001"/>
<line x1="201.5" y1="179.44" x2="202.8" y2="179.44" stroke="#111" stroke-width="0.7200000000000001"/>
<rect x="33.1" y="179" width="169.7" height="144.6" fill="none" stroke="#111" stroke-width="0.9"/>
<text transform="translate(28.3,200.2) scale(1,1.08)" font-size="6.2" font-weight="bold" text-anchor="end" >1</text>
<text transform="translate(28.3,226.9) scale(1,1.08)" font-size="6.2" font-weight="bold" text-anchor="end" >0.1</text>
<text transform="translate(28.3,253.6) scale(1,1.08)" font-size="6.2" font-weight="bold" text-anchor="end" >0.01</text>
<text transform="translate(28.3,280.3) scale(1,1.08)" font-size="6.2" font-weight="bold" text-anchor="end" >0.001</text>
<text transform="translate(28.3,307) scale(1,1.08)" font-size="6.2" font-weight="bold" text-anchor="end" >1E-4</text>
<text transform="translate(33.1,332.9) scale(1,1.08)" font-size="6.2" font-weight="bold" text-anchor="middle" >0</text>
<text transform="translate(67.04,332.9) scale(1,1.08)" font-size="6.2" font-weight="bold" text-anchor="middle" >200</text>
<text transform="translate(100.98,332.9) scale(1,1.08)" font-size="6.2" font-weight="bold" text-anchor="middle" >400</text>
<text transform="translate(134.92,332.9) scale(1,1.08)" font-size="6.2" font-weight="bold" text-anchor="middle" >600</text>
<text transform="translate(168.86,332.9) scale(1,1.08)" font-size="6.2" font-weight="bold" text-anchor="middle" >800</text>
<text transform="translate(202.8,332.9) scale(1,1.08)" font-size="6.2" font-weight="bold" text-anchor="middle" >1000</text>
<text transform="translate(116.3,344.4) scale(1,1.03)" font-size="10.45" font-weight="bold" text-anchor="middle" >Sputter time (s)</text>
<text x="0" y="0" font-size="10.8" font-weight="bold" text-anchor="middle" textLength="150.6" lengthAdjust="spacingAndGlyphs" transform="translate(9.5,252) rotate(-90)">Intensity Normalized to GaN-</text>
<text x="149.6" y="198.5" font-size="14.6" font-weight="bold" text-anchor="start" >AlN</text>
<text x="175.45" y="196.1" font-size="16.3" font-weight="bold" text-anchor="start" >-</text>
<text x="164.3" y="306.6" font-size="18" font-weight="bold" text-anchor="start" >(b)</text>
<rect x="39.4" y="243.8" width="74.3" height="48.1" fill="#fff" stroke="#333" stroke-width="0.7"/>
<line x1="40.3" y1="248.7" x2="56.6" y2="248.7" stroke="#1a1a1a" stroke-width="1.1" opacity="0.7"/>
<text transform="translate(58.5,251.3) scale(1,1.08)" font-size="7.0" font-weight="bold" text-anchor="start" >Reference AlN</text>
<line x1="40.3" y1="257.98" x2="56.6" y2="257.98" stroke="#1c1cc4" stroke-width="1.1" opacity="0.7"/>
<text transform="translate(58.5,260.58) scale(1,1.08)" font-size="7.0" font-weight="bold" text-anchor="start" >AlON 15x16</text>
<line x1="40.3" y1="267.26" x2="56.6" y2="267.26" stroke="#2ed42e" stroke-width="1.1" opacity="0.7"/>
<text transform="translate(58.5,269.86) scale(1,1.08)" font-size="7.0" font-weight="bold" text-anchor="start" >AlON 12x20</text>
<line x1="40.3" y1="276.54" x2="56.6" y2="276.54" stroke="#d42222" stroke-width="1.1" opacity="0.7"/>
<text transform="translate(58.5,279.14) scale(1,1.08)" font-size="7.0" font-weight="bold" text-anchor="start" >AlON&#160;&#160;<tspan dx='0.8'>8x30</tspan></text>
<line x1="40.3" y1="285.82" x2="56.6" y2="285.82" stroke="#d63cd6" stroke-width="1.1" opacity="0.7"/>
<text transform="translate(58.5,288.42) scale(1,1.08)" font-size="7.0" font-weight="bold" text-anchor="start" >Reference Al<tspan font-size='4.8' dy='1.8'>2</tspan><tspan dy='-1.8'>O</tspan><tspan font-size='4.8' dy='1.8'>3</tspan></text>
<line x1="268.41" y1="54.7" x2="268.41" y2="265.6" stroke="#efefef" stroke-width="0.5"/>
<line x1="278.42" y1="54.7" x2="278.42" y2="265.6" stroke="#efefef" stroke-width="0.5"/>
<line x1="288.42" y1="54.7" x2="288.42" y2="265.6" stroke="#efefef" stroke-width="0.5"/>
<line x1="298.43" y1="54.7" x2="298.43" y2="265.6" stroke="#efefef" stroke-width="0.5"/>
<line x1="318.45" y1="54.7" x2="318.45" y2="265.6" stroke="#efefef" stroke-width="0.5"/>
<line x1="328.46" y1="54.7" x2="328.46" y2="265.6" stroke="#efefef" stroke-width="0.5"/>
<line x1="338.46" y1="54.7" x2="338.46" y2="265.6" stroke="#efefef" stroke-width="0.5"/>
<line x1="348.47" y1="54.7" x2="348.47" y2="265.6" stroke="#efefef" stroke-width="0.5"/>
<line x1="368.49" y1="54.7" x2="368.49" y2="265.6" stroke="#efefef" stroke-width="0.5"/>
<line x1="378.5" y1="54.7" x2="378.5" y2="265.6" stroke="#efefef" stroke-width="0.5"/>
<line x1="388.5" y1="54.7" x2="388.5" y2="265.6" stroke="#efefef" stroke-width="0.5"/>
<line x1="398.51" y1="54.7" x2="398.51" y2="265.6" stroke="#efefef" stroke-width="0.5"/>
<line x1="418.53" y1="54.7" x2="418.53" y2="265.6" stroke="#efefef" stroke-width="0.5"/>
<line x1="428.54" y1="54.7" x2="428.54" y2="265.6" stroke="#efefef" stroke-width="0.5"/>
<line x1="438.54" y1="54.7" x2="438.54" y2="265.6" stroke="#efefef" stroke-width="0.5"/>
<line x1="448.55" y1="54.7" x2="448.55" y2="265.6" stroke="#efefef" stroke-width="0.5"/>
<line x1="468.57" y1="54.7" x2="468.57" y2="265.6" stroke="#efefef" stroke-width="0.5"/>
<line x1="478.58" y1="54.7" x2="478.58" y2="265.6" stroke="#efefef" stroke-width="0.5"/>
<line x1="488.58" y1="54.7" x2="488.58" y2="265.6" stroke="#efefef" stroke-width="0.5"/>
<line x1="498.59" y1="54.7" x2="498.59" y2="265.6" stroke="#efefef" stroke-width="0.5"/>
<line x1="258.4" y1="265.23" x2="508.6" y2="265.23" stroke="#efefef" stroke-width="0.5"/>
<line x1="258.4" y1="256.35" x2="508.6" y2="256.35" stroke="#efefef" stroke-width="0.5"/>
<line x1="258.4" y1="250.06" x2="508.6" y2="250.06" stroke="#efefef" stroke-width="0.5"/>
<line x1="258.4" y1="245.17" x2="508.6" y2="245.17" stroke="#efefef" stroke-width="0.5"/>
<line x1="258.4" y1="241.18" x2="508.6" y2="241.18" stroke="#efefef" stroke-width="0.5"/>
<line x1="258.4" y1="237.81" x2="508.6" y2="237.81" stroke="#efefef" stroke-width="0.5"/>
<line x1="258.4" y1="234.88" x2="508.6" y2="234.88" stroke="#efefef" stroke-width="0.5"/>
<line x1="258.4" y1="232.31" x2="508.6" y2="232.31" stroke="#efefef" stroke-width="0.5"/>
<line x1="258.4" y1="214.83" x2="508.6" y2="214.83" stroke="#efefef" stroke-width="0.5"/>
<line x1="258.4" y1="205.95" x2="508.6" y2="205.95" stroke="#efefef" stroke-width="0.5"/>
<line x1="258.4" y1="199.66" x2="508.6" y2="199.66" stroke="#efefef" stroke-width="0.5"/>
<line x1="258.4" y1="194.77" x2="508.6" y2="194.77" stroke="#efefef" stroke-width="0.5"/>
<line x1="258.4" y1="190.78" x2="508.6" y2="190.78" stroke="#efefef" stroke-width="0.5"/>
<line x1="258.4" y1="187.41" x2="508.6" y2="187.41" stroke="#efefef" stroke-width="0.5"/>
<line x1="258.4" y1="184.48" x2="508.6" y2="184.48" stroke="#efefef" stroke-width="0.5"/>
<line x1="258.4" y1="181.91" x2="508.6" y2="181.91" stroke="#efefef" stroke-width="0.5"/>
<line x1="258.4" y1="164.43" x2="508.6" y2="164.43" stroke="#efefef" stroke-width="0.5"/>
<line x1="258.4" y1="155.55" x2="508.6" y2="155.55" stroke="#efefef" stroke-width="0.5"/>
<line x1="258.4" y1="149.26" x2="508.6" y2="149.26" stroke="#efefef" stroke-width="0.5"/>
<line x1="258.4" y1="144.37" x2="508.6" y2="144.37" stroke="#efefef" stroke-width="0.5"/>
<line x1="258.4" y1="140.38" x2="508.6" y2="140.38" stroke="#efefef" stroke-width="0.5"/>
<line x1="258.4" y1="137.01" x2="508.6" y2="137.01" stroke="#efefef" stroke-width="0.5"/>
<line x1="258.4" y1="134.08" x2="508.6" y2="134.08" stroke="#efefef" stroke-width="0.5"/>
<line x1="258.4" y1="131.51" x2="508.6" y2="131.51" stroke="#efefef" stroke-width="0.5"/>
<line x1="258.4" y1="114.03" x2="508.6" y2="114.03" stroke="#efefef" stroke-width="0.5"/>
<line x1="258.4" y1="105.15" x2="508.6" y2="105.15" stroke="#efefef" stroke-width="0.5"/>
<line x1="258.4" y1="98.86" x2="508.6" y2="98.86" stroke="#efefef" stroke-width="0.5"/>
<line x1="258.4" y1="93.97" x2="508.6" y2="93.97" stroke="#efefef" stroke-width="0.5"/>
<line x1="258.4" y1="89.98" x2="508.6" y2="89.98" stroke="#efefef" stroke-width="0.5"/>
<line x1="258.4" y1="86.61" x2="508.6" y2="86.61" stroke="#efefef" stroke-width="0.5"/>
<line x1="258.4" y1="83.68" x2="508.6" y2="83.68" stroke="#efefef" stroke-width="0.5"/>
<line x1="258.4" y1="81.11" x2="508.6" y2="81.11" stroke="#efefef" stroke-width="0.5"/>
<line x1="258.4" y1="63.63" x2="508.6" y2="63.63" stroke="#efefef" stroke-width="0.5"/>
<line x1="258.4" y1="54.75" x2="508.6" y2="54.75" stroke="#efefef" stroke-width="0.5"/>
<line x1="308.44" y1="54.7" x2="308.44" y2="265.6" stroke="#d2d2d2" stroke-width="0.6"/>
<line x1="358.48" y1="54.7" x2="358.48" y2="265.6" stroke="#d2d2d2" stroke-width="0.6"/>
<line x1="408.52" y1="54.7" x2="408.52" y2="265.6" stroke="#d2d2d2" stroke-width="0.6"/>
<line x1="458.56" y1="54.7" x2="458.56" y2="265.6" stroke="#d2d2d2" stroke-width="0.6"/>
<line x1="258.4" y1="230" x2="508.6" y2="230" stroke="#d2d2d2" stroke-width="0.6"/>
<line x1="258.4" y1="179.6" x2="508.6" y2="179.6" stroke="#d2d2d2" stroke-width="0.6"/>
<line x1="258.4" y1="129.2" x2="508.6" y2="129.2" stroke="#d2d2d2" stroke-width="0.6"/>
<line x1="258.4" y1="78.8" x2="508.6" y2="78.8" stroke="#d2d2d2" stroke-width="0.6"/>
<polyline points="410.5,192 413.5,194.01 414.3,200.31 415.1,218.06 415.9,248.4 416.7,209.18 417.5,218.06 418.3,218.06 419.1,224.35 419.9,248.4 421.5,218.06 422.3,248.4 423.1,202.88 423.9,248.4 424.7,233.23 425.5,224.35 426.3,209.18 427.1,209.18 427.9,248.4 428.7,224.35 429.5,224.35 430.3,213.17 431.1,224.35 431.9,224.35 432.7,233.23 433.5,233.23 434.3,233.23 435.1,248.4 435.9,218.06 436.7,218.06 437.5,248.4 438.3,213.17 439.1,248.4 440.7,248.4 441.5,224.35 442.3,233.23 443.1,248.4 443.9,224.35 444.7,218.06 446.3,218.06 447.1,218.06 447.9,218.06 448.7,233.23 449.5,233.23 450.3,224.35 451.1,248.4 451.9,224.35 452.7,233.23 453.5,248.4 454.3,248.4 455.1,213.17 456.7,233.23 457.5,233.23 458.3,218.06 459.1,248.4 459.9,248.4 460.7,218.06 461.5,248.4 462.3,248.4 463.1,248.4 463.9,213.17 464.7,248.4 465.5,248.4 466.3,248.4 467.1,224.35 468.7,224.35 469.5,248.4 471.1,218.06 471.9,224.35 472.7,224.35 474.3,233.23 475.1,248.4 475.9,233.23 476.7,233.23 477.5,224.35 478.3,218.06 479.1,224.35 479.9,233.23 481.5,248.4 482.3,233.23 483.1,218.06 483.9,233.23 484.7,248.4 486.3,248.4 487.9,224.35 488.7,248.4 490.3,233.23 491.9,224.35 492.7,248.4 493.5,248.4 494.3,248.4 495.1,233.23 495.9,233.23 496.7,233.23 497.5,248.4 498.3,248.4 499.1,224.35 499.9,248.4 501.5,248.4 502.3,248.4 503.1,224.35 504.7,248.4 505.5,248.4 506.3,248.4 507.1,248.4" fill="none" stroke="#2ed42e" stroke-width="1.2" stroke-linejoin="round" opacity="1.0"/>
<polyline points="408,191 408.5,209.18 409.2,198 409.9,202.88 410.6,198 411.3,209.18 412,202.88 412.7,218.06 413.4,202.88 414.1,224.35 414.8,209.18 415.5,205.81 416.2,205.81 416.9,224.35 417.6,205.81 418.3,202.88 419,248.4 419.7,248.4 420.4,205.81 421.1,248.4 421.8,213.17 422.5,209.18 423.2,233.23 423.9,218.06 424.6,224.35 425.3,233.23 426,233.23 426.7,209.18 427.4,218.06 428.1,213.17 428.8,248.4 429.5,213.17 430.2,248.4 430.9,213.17 431.6,202.88 432.3,205.81 433,213.17 433.7,248.4 434.4,248.4 435.1,218.06 435.8,213.17 436.5,218.06 437.2,224.35 437.9,224.35 438.6,213.17 439.3,224.35 440,218.06 440.7,233.23 441.4,205.81 442.1,224.35 442.8,209.18 443.5,224.35 444.2,218.06 444.9,209.18 445.6,248.4 446.3,218.06 447,248.4 447.7,218.06 448.4,224.35 449.1,202.88 449.8,224.35 450.5,209.18 451.2,233.23 451.9,248.4 452.6,218.06 453.3,218.06 454,224.35 454.7,218.06 455.4,224.35 456.1,248.4 456.8,248.4 457.5,248.4 458.2,224.35 458.9,218.06 459.6,205.81 460.3,213.17 461,205.81 462.4,233.23 463.1,233.23 463.8,248.4 464.5,233.23 465.2,213.17 465.9,233.23 466.6,233.23 467.3,248.4 468,224.35 468.7,233.23 469.4,248.4 470.1,233.23 470.8,218.06 471.5,233.23 472.2,224.35 472.9,224.35 473.6,248.4 474.3,224.35 475,233.23 475.7,209.18 476.4,224.35 477.1,224.35 477.8,233.23 478.5,209.18 479.2,248.4 479.9,233.23 480.6,205.81 481.3,213.17 482,233.23 482.7,209.18 483.4,248.4 484.1,224.35 484.8,248.4 485.5,224.35 486.2,248.4 486.9,209.18 487.6,218.06 488.3,218.06 489,233.23 489.7,213.17 490.4,224.35 491.1,224.35 491.8,233.23 492.5,248.4 493.2,224.35 493.9,213.17 494.6,233.23 495.3,218.06 496,248.4 497.4,248.4 498.1,218.06 498.8,248.4 499.5,248.4 500.2,233.23 500.9,213.17 501.6,213.17 503,248.4 503.7,213.17 504.4,218.06 505.1,233.23 505.8,233.23 506.5,248.4 507.2,224.35 507.9,218.06" fill="none" stroke="#1c1cc4" stroke-width="1.2" stroke-linejoin="round" opacity="1.0"/>
<polyline points="413.4,192 414,202.88 414.6,195.91 415.2,189.13 415.8,200.31 416.4,200.31 417,195.91 417.6,200.31 418.2,213.17 418.8,205.81 419.4,248.4 420,198 420.6,218.06 421.2,209.18 421.8,202.88 422.4,205.81 423,213.17 423.6,195.91 424.2,202.88 424.8,209.18 425.4,202.88 426,205.81 426.6,200.31 427.2,202.88 427.8,218.06 428.4,200.31 429,205.81 429.6,205.81 430.2,200.31 430.8,213.17 431.4,218.06 432,218.06 432.6,213.17 433.2,218.06 433.8,218.06 434.4,218.06 435,248.4 435.6,213.17 436.2,209.18 436.8,213.17 437.4,202.88 438,213.17 438.6,205.81 439.2,200.31 439.8,218.06 440.4,205.81 441,209.18 441.6,218.06 442.2,218.06 442.8,218.06 443.4,213.17 444,248.4 445.2,224.35 445.8,209.18 446.4,233.23 447,209.18 447.6,205.81 448.2,218.06 448.8,209.18 449.4,218.06 450,248.4 450.6,205.81 451.2,218.06 451.8,248.4 452.4,218.06 453,218.06 453.6,248.4 454.2,209.18 454.8,218.06 455.4,224.35 456,233.23 456.6,205.81 457.2,209.18 457.8,233.23 458.4,209.18 459,248.4 459.6,233.23 460.2,202.88 460.8,218.06 461.4,248.4 462,218.06 462.6,218.06 463.2,198 463.8,248.4 464.4,218.06 465,248.4 465.6,205.81 466.2,218.06 466.8,213.17 467.4,248.4 468,224.35 468.6,224.35 469.2,248.4 469.8,233.23 470.4,224.35 471,202.88 471.6,248.4 472.2,209.18 473.4,224.35 474,218.06 474.6,248.4 475.2,248.4 475.8,248.4 476.4,248.4 477,248.4 477.6,233.23 478.2,202.88 478.8,218.06 479.4,213.17 480,218.06 480.6,209.18 481.2,218.06 481.8,248.4 482.4,248.4 483,218.06 483.6,218.06 484.2,233.23 484.8,233.23 485.4,248.4 486,233.23 486.6,224.35 487.2,248.4 487.8,205.81 489,248.4 489.6,205.81 490.2,213.17 490.8,248.4 491.4,233.23 492,213.17 492.6,224.35 493.8,224.35 494.4,248.4 495,248.4 495.6,224.35 496.2,224.35 496.8,213.17 497.4,205.81 498,248.4 498.6,248.4 499.2,224.35 499.8,213.17 500.4,233.23 501,233.23 501.6,205.81 502.2,224.35 502.8,224.35 503.4,248.4 504,224.35 504.6,248.4 505.2,213.17 505.8,248.4 506.4,233.23 507,248.4 507.6,218.06 508.2,213.17" fill="none" stroke="#d42222" stroke-width="1.2" stroke-linejoin="round" opacity="1.0"/>
<polyline points="258.7,76.13 258.71,76.5 258.72,76.88 258.73,77.26 258.75,77.63 258.76,78.01 258.77,78.39 258.78,78.76 258.79,79.14 258.8,79.51 258.82,79.89 258.83,80.27 258.84,80.64 258.85,81 258.86,81.35 258.87,81.7 258.88,82.05 258.89,82.4 258.9,82.75 258.91,83.1 258.92,83.46 258.93,83.81 258.94,84.16 258.95,84.51 258.96,84.86 258.97,85.21 258.98,85.56 258.99,85.92 259,86.27 259.01,86.62 259.02,86.97 259.03,87.32 259.05,87.67 259.06,88.03 259.08,88.38 259.09,88.73 259.11,89.08 259.12,89.44 259.14,89.79 259.15,90.14 259.16,90.5 259.18,90.85 259.19,91.2 259.21,91.55 259.22,91.91 259.24,92.26 259.25,92.61 259.27,92.97 259.28,93.32 259.3,93.68 259.32,94.05 259.33,94.42 259.35,94.78 259.37,95.15 259.38,95.51 259.4,95.88 259.42,96.25 259.43,96.61 259.45,96.98 259.47,97.34 259.48,97.71 259.5,98.08 259.52,98.44 259.53,98.81 259.55,99.18 259.57,99.54 259.58,99.91 259.6,100.27 259.62,100.62 259.64,100.98 259.67,101.33 259.69,101.68 259.71,102.03 259.73,102.38 259.76,102.73 259.78,103.08 259.8,103.43 259.82,103.78 259.85,104.14 259.87,104.49 259.89,104.84 259.91,105.19 259.94,105.54 259.96,105.89 259.98,106.24 260,106.59 260.03,106.95 260.06,107.3 260.09,107.66 260.12,108.01 260.14,108.36 260.17,108.72 260.2,109.07 260.23,109.43 260.26,109.78 260.28,110.13 260.31,110.49 260.34,110.84 260.37,111.2 260.4,111.55 260.42,111.9 260.45,112.26 260.48,112.61 260.53,112.99 260.58,113.36 260.64,113.73 260.69,114.11 260.74,114.48 260.79,114.86 260.84,115.23 260.89,115.61 260.94,115.98 260.99,116.36 261.04,116.71 261.09,117.07 261.13,117.43 261.18,117.78 261.22,118.14 261.27,118.49 261.32,118.85 261.36,119.21 261.41,119.56 261.45,119.92 261.5,120.27 261.98,120.48 262.08,120.08 262.17,119.68 262.27,119.28 262.37,118.88 262.46,118.47 262.56,118.13 262.66,117.79 262.76,117.45 262.86,117.11 262.96,116.77 263.04,116.38 263.12,116 263.19,115.61 263.27,115.22 263.35,114.83 263.42,114.44 263.5,114.05 263.68,113.64 263.85,113.22 264.03,112.8 264.56,112.77 264.72,112.43 264.88,112.09 265.03,111.76 265.19,111.42 265.39,111.1 265.59,110.78 265.8,110.46 266,110.14 266.36,109.97 266.72,109.8 267.07,109.63 267.71,109.77 267.92,109.44 268.13,109.11 268.34,108.78 268.57,109.06 268.79,109.35 269.02,109.63 269.69,109.71 270.02,109.36 270.35,109.01 270.67,109.32 271,109.62 271.38,109.59 271.76,109.55 272.13,109.51 272.48,109.22 272.84,108.93 273.19,108.64 273.79,108.77 273.99,108.4 274.2,108.03 274.4,107.66 274.8,107.54 275.2,107.42 275.4,107.81 275.6,108.19 275.8,108.58 276,108.96 276.18,108.62 276.36,108.28 276.54,107.94 276.72,107.6 277.07,107.48 277.43,107.36 277.67,107.74 277.91,108.11 278.15,108.49 278.47,108.31 278.78,108.13 278.99,107.72 279.21,107.31 279.42,106.9 280.05,107.17 280.69,106.93 281.36,106.89 281.7,106.6 282.04,106.32 282.26,106.6 282.48,106.88 282.71,107.16 283.05,106.91 283.38,106.67 284.04,106.75 284.36,106.52 284.69,106.29 285.35,106.08 286,105.86 286.16,106.22 286.31,106.58 286.47,106.95 286.62,107.31 287.25,107.02 287.56,106.82 287.88,106.62 288.08,106.34 288.29,106.05 288.5,105.77 289.12,105.76 289.75,105.66 290.38,105.96 290.69,105.7 291,105.44 291.31,105.61 291.62,105.79 292.25,105.61 292.88,105.55 293.19,105.94 293.5,106.33 293.81,106.14 294.12,105.94 294.75,105.93 295.38,105.68 296,105.97 296.31,106.18 296.62,106.38 296.83,106.08 297.04,105.79 297.25,105.49 297.56,105.26 297.88,105.03 298.19,105.38 298.5,105.74 299.12,105.53 299.44,105.88 299.75,106.22 299.96,105.81 300.17,105.4 300.38,104.99 300.53,105.33 300.69,105.67 300.84,106 301,106.34 301.16,105.95 301.31,105.56 301.47,105.17 301.62,104.77 301.83,105.08 302.04,105.39 302.25,105.7 302.88,105.5 303.5,105.25 303.71,105.59 303.92,105.93 304.12,106.26 304.44,106.08 304.75,105.91 304.96,105.58 305.17,105.24 305.38,104.91 305.69,105.2 306,105.49 306.63,105.69 306.84,105.34 307.05,104.98 307.26,104.63 307.89,104.72 308.1,105.02 308.31,105.32 308.52,105.63 309.16,105.85 309.48,105.61 309.79,105.36 310.43,105.28 311.06,105.43 311.38,105.2 311.69,104.97 311.9,105.33 312.11,105.69 312.32,106.06 312.94,106.2 313.15,105.9 313.36,105.61 313.57,105.32 313.77,105.03 313.98,104.74 314.18,104.45 314.48,104.77 314.79,105.09 315.09,105.44 315.39,105.78 315.6,105.48 315.8,105.18 316,104.88 316.38,104.64 316.77,104.4 317.15,104.43 317.53,104.46 317.79,104.75 318.04,105.03 318.3,105.32 318.66,105.18 319.03,105.05 319.4,104.69 319.77,104.33 320.13,104.58 320.5,104.82 320.87,104.88 321.23,104.94 321.6,105.06 321.97,105.18 322.34,104.99 322.7,104.81 322.96,104.52 323.21,104.24 323.47,103.96 323.85,104.22 324.23,104.49 324.62,104.53 325,104.57 325.62,104.35 326.24,104.03 326.55,103.83 326.86,103.62 327.48,103.38 327.8,103.62 328.12,103.87 328.45,103.6 328.77,103.34 329.42,103.39 329.63,103.06 329.85,102.72 330.06,102.39 330.38,102.2 330.7,102.02 331.34,102.21 331.66,102.43 331.98,102.65 332.62,102.51 332.88,102.23 333.15,101.96 333.41,101.68 333.81,101.59 334.21,101.5 334.4,101.8 334.6,102.1 334.8,102.41 335,102.71 335.14,102.36 335.29,102.01 335.43,101.66 335.58,101.31 335.72,100.96 335.9,101.3 336.08,101.64 336.26,101.98 336.44,102.33 336.8,102.1 337.16,101.88 337.5,101.61 337.84,101.34 338.18,101.63 338.51,101.92 338.85,101.55 339.19,101.17 339.35,100.83 339.51,100.49 339.67,100.15 339.83,99.81 339.99,100.19 340.15,100.57 340.31,100.95 340.47,101.33 340.69,100.96 340.9,100.6 341.12,100.23 341.43,100.64 341.74,101.04 342.37,100.76 342.53,100.43 342.69,100.1 342.84,99.78 343,99.45 343.62,99.26 344.24,99.22 344.4,99.56 344.56,99.9 344.71,100.24 344.87,100.58 345.47,100.65 345.68,100.33 345.88,100 346.08,99.68 346.69,99.53 347.12,99.81 347.55,100.09 347.84,100.39 348.13,100.69 348.41,100.98 348.81,100.97 349.21,100.95 349.6,101.11 350,101.26 350.35,101.36 350.7,101.47 351.04,101.29 351.39,101.11 352.01,101.26 352.16,100.89 352.32,100.53 352.47,100.16 352.62,99.79 353.02,99.8 353.41,99.8 353.8,99.81 353.95,100.2 354.1,100.6 354.25,101 354.4,101.4 354.7,101.21 355,101.01 355.39,100.91 355.79,100.81 356.18,100.7 356.56,100.68 356.93,100.65 357.31,100.63 357.62,100.89 357.93,101.15 358.54,101.32 358.9,101.53 359.27,101.75 359.63,101.78 360,101.81 360.31,101.64 360.61,101.47 361.22,101.36 361.84,101.68 362.19,101.67 362.54,101.66 362.89,101.69 363.24,101.72 363.59,102.06 363.94,102.4 364.29,102.19 364.65,101.98 364.83,102.3 365,102.63 365.18,102.95 365.36,103.27 365.71,103.09 366.07,102.9 366.71,102.78 367.04,102.95 367.36,103.12 367.68,102.77 368,102.42 368.42,102.2 368.84,101.98 369.27,102 369.69,102.01 370.08,102.18 370.47,102.34 370.86,102.29 371.25,102.24 371.61,102.04 371.97,101.84 372.33,101.78 372.69,101.72 373.02,102.05 373.34,102.38 373.48,102.03 373.61,101.68 373.74,101.32 373.87,100.97 374,100.62 374.39,100.63 374.78,100.65 375.16,100.67 375.42,100.41 375.68,100.15 375.93,99.9 376.19,99.64 376.42,99.34 376.65,99.04 376.88,98.75 377.12,98.45 377.56,98.33 378,98.2 378.14,97.87 378.27,97.54 378.41,97.21 378.55,96.88 378.68,96.55 378.82,96.22 379.01,95.85 379.19,95.47 379.38,95.1 379.56,94.73 379.8,94.41 380.04,94.08 380.27,93.76 380.64,93.91 381,94.06 381.12,93.68 381.25,93.31 381.37,92.93 381.5,92.55 381.62,92.18 381.74,91.8 381.93,91.42 382.11,91.04 382.3,90.66 382.48,90.29 382.86,90.48 383.23,90.68 383.38,90.32 383.54,89.95 383.69,89.59 383.85,89.23 384,88.86 384.27,88.57 384.55,88.27 384.82,87.98 384.93,87.64 385.04,87.3 385.14,86.96 385.25,86.62 385.36,86.28 385.47,85.94 385.57,85.6 385.68,85.27 385.96,85.04 386.24,84.82 386.52,84.6 386.64,84.23 386.75,83.85 386.86,83.48 386.97,83.1 387.08,82.73 387.19,82.35 387.3,81.97 387.64,81.7 387.98,81.43 388.29,81.59 388.6,81.76 388.8,81.42 389,81.08 389.19,80.74 389.8,80.82 390.01,80.46 390.21,80.09 390.42,79.73 390.72,80.04 391.02,80.35 391.18,79.96 391.34,79.58 391.49,79.19 391.65,78.81 391.86,79.18 392.08,79.55 392.3,79.92 392.66,79.73 393.02,79.53 393.4,79.85 393.77,80.17 393.9,80.51 394.02,80.85 394.15,81.19 394.27,81.53 394.4,81.87 394.52,82.21 395.2,82.37 395.32,82.75 395.43,83.13 395.55,83.51 395.67,83.89 395.79,84.27 396.05,84.51 396.31,84.75 396.4,85.14 396.48,85.53 396.56,85.92 396.64,86.31 396.73,86.7 396.81,87.09 396.91,87.46 397,87.83 397.1,88.2 397.2,88.57 397.3,88.93 397.47,89.27 397.64,89.6 397.81,89.93 398.06,90.35 398.32,90.77 398.4,91.16 398.48,91.55 398.56,91.93 398.63,92.32 398.71,92.71 398.79,93.1 398.87,93.5 398.96,93.9 399.04,94.31 399.12,94.71 399.2,95.11 399.34,95.54 399.47,95.96 399.65,96.18 399.72,96.59 399.78,96.99 399.85,97.4 399.92,97.77 399.99,98.15 400.06,98.53 400.13,98.9 400.2,99.28 400.24,99.65 400.28,100.02 400.32,100.39 400.36,100.76 400.4,101.13 400.44,101.51 400.48,101.88 400.52,102.25 400.56,102.62 400.6,102.99 400.64,103.36 400.68,103.73 400.72,104.11 400.76,104.48 400.82,104.84 400.89,105.21 400.95,105.57 401.01,105.94 401.08,106.3 401.14,106.67 401.2,107.03 401.27,107.4 401.33,107.76 401.39,108.13 401.46,108.49 401.5,108.85 401.55,109.2 401.6,109.55 401.64,109.91 401.69,110.26 401.73,110.62 401.78,110.97 401.83,111.32 401.87,111.68 401.92,112.03 401.97,112.39 402.01,112.74 402.06,113.1 402.11,113.45 402.15,113.8 402.2,114.16 402.25,114.52 402.3,114.87 402.35,115.23 402.4,115.59 402.45,115.94 402.5,116.3 402.55,116.66 402.6,117.02 402.65,117.37 402.7,117.73 402.75,118.09 402.8,118.45 402.85,118.8 402.9,119.16 402.94,119.51 402.99,119.86 403.03,120.21 403.08,120.56 403.12,120.9 403.16,121.25 403.21,121.6 403.25,121.95 403.3,122.3 403.34,122.65 403.38,123 403.43,123.35 403.47,123.7 403.52,124.05 403.56,124.4 403.6,124.75 403.65,125.11 403.69,125.47 403.74,125.83 403.78,126.19 403.82,126.55 403.87,126.91 403.91,127.27 403.96,127.63 404,127.99 404.04,128.35 404.09,128.71 404.13,129.07 404.17,129.43 404.22,129.79 404.26,130.16 404.31,130.53 404.35,130.9 404.4,131.27 404.44,131.64 404.49,132.01 404.53,132.37 404.58,132.74 404.62,133.11 404.66,133.48 404.71,133.85 404.75,134.22 404.8,134.59 404.84,134.96 404.89,135.33 404.94,135.7 404.98,136.07 405.03,136.44 405.08,136.82 405.12,137.19 405.17,137.56 405.21,137.93 405.26,138.3 405.31,138.67 405.35,139.04 405.4,139.42 405.43,139.78 405.46,140.14 405.49,140.51 405.52,140.87 405.55,141.23 405.58,141.59 405.61,141.96 405.64,142.32 405.68,142.68 405.71,143.05 405.74,143.41 405.77,143.77 405.8,144.14 405.83,144.5 405.86,144.86 405.88,145.21 405.91,145.56 405.93,145.91 405.95,146.26 405.98,146.61 406,146.96 406.03,147.31 406.05,147.66 406.08,148.01 406.1,148.36 406.12,148.71 406.15,149.06 406.17,149.41 406.2,149.76 406.22,150.12 406.24,150.45 406.28,150.8 406.32,151.29 406.35,151.68 406.39,151.64 406.43,152.21 406.46,152.76 406.5,153.05 406.53,153.74 406.57,153.72 406.61,154.22 406.64,154.08 406.66,155.16 406.69,155.38 406.72,155.97 406.75,155.86 406.78,157.11 406.8,156.58 406.83,157.88 406.86,158.3 406.89,157.51 406.92,158.36 406.94,158.32 406.97,158.1 407,159.64 407.03,159.73 407.05,160.84 407.08,161.38 407.11,159.8 407.14,161 407.16,161.81 407.19,162.48 407.22,162.4 407.25,162.11 407.27,162.85 407.3,163.87 407.33,162.77 407.36,163.06 407.38,163.45 407.41,164.29 407.44,166.31 407.47,165.16 407.49,166.52 407.52,167.49 407.55,167.71 407.57,167.18 407.6,167.2 407.63,167.62 407.65,167.7 407.68,167.63 407.71,169.21 407.73,170.04 407.76,168.8 407.79,168.79 407.81,170.1 407.84,170.5 407.87,171.74 407.89,171.41 407.93,171.67 407.96,170.05 407.99,171.69 408.02,172.21 408.06,172.17 408.09,173.93 408.12,173.73 408.16,173.04 408.19,175.01 408.22,176.37 408.25,178.45 408.29,175.42 408.32,175.2 408.35,177.49 408.4,179.12 408.44,176.19 408.49,178.39 408.53,177.44 408.58,179.55 408.62,177.44 408.67,178.24 408.71,178.87 408.76,179.42 408.8,177.96 408.86,180 408.92,179.41 408.98,184.4 409.04,183.93 409.09,180.86 409.15,181.44 409.21,183.31 409.27,182.04 409.31,182.39 409.35,185.03 409.39,186.24 409.42,185.44 409.46,187.6 409.5,185.35 409.54,185.4 409.57,185.19 409.61,185.46 409.65,185.11 409.69,190.01 409.72,189.32 409.76,187.53 409.82,188.35 409.87,186.69 409.93,190.29 409.98,188.93 410.03,189.33 410.09,189.37 410.14,187.09 410.2,189.54 410.3,194.62 410.4,189.6 410.5,192" fill="none" stroke="#2ed42e" stroke-width="1.5" stroke-linejoin="round" opacity="1.0"/>
<polyline points="258.6,75.75 258.61,76.11 258.63,76.47 258.64,76.83 258.65,77.19 258.67,77.55 258.68,77.91 258.69,78.27 258.71,78.63 258.72,78.99 258.73,79.35 258.75,79.71 258.76,80.07 258.78,80.43 258.79,80.79 258.8,81.15 258.82,81.51 258.83,81.87 258.85,82.23 258.86,82.59 258.88,82.94 258.9,83.3 258.91,83.66 258.93,84.02 258.95,84.38 258.96,84.74 258.98,85.1 258.99,85.45 259.01,85.81 259.03,86.17 259.04,86.53 259.06,86.89 259.08,87.25 259.09,87.61 259.11,87.97 259.13,88.32 259.15,88.68 259.17,89.03 259.19,89.38 259.21,89.73 259.23,90.08 259.25,90.43 259.27,90.79 259.29,91.14 259.31,91.49 259.33,91.84 259.35,92.19 259.37,92.54 259.39,92.9 259.41,93.25 259.43,93.6 259.45,93.95 259.47,94.3 259.49,94.66 259.51,95.01 259.53,95.36 259.54,95.72 259.56,96.07 259.58,96.43 259.6,96.78 259.62,97.13 259.64,97.49 259.65,97.84 259.67,98.19 259.69,98.55 259.71,98.9 259.73,99.26 259.75,99.61 259.76,99.96 259.78,100.32 259.8,100.67 259.83,101.03 259.86,101.39 259.89,101.74 259.92,102.1 259.95,102.46 259.98,102.82 260.01,103.18 260.04,103.53 260.07,103.89 260.1,104.27 260.13,104.65 260.16,105.03 260.19,105.41 260.23,105.79 260.26,106.16 260.29,106.54 260.32,106.92 260.61,107.51 261,108.05 261.27,108.29 261.53,108.52 261.85,108.29 262.17,108.05 262.3,107.68 262.44,107.31 262.57,106.94 262.71,106.57 262.84,106.2 263.01,105.87 263.17,105.53 263.34,105.2 263.5,104.87 263.78,104.61 264.07,104.35 264.24,104.04 264.42,103.74 264.59,103.43 265.2,103.19 265.6,102.97 266,102.76 266.36,102.97 266.72,103.18 267.07,103.39 267.23,103.04 267.39,102.68 267.55,102.33 267.71,101.97 267.87,102.29 268.03,102.6 268.19,102.91 268.34,103.23 268.57,102.94 268.79,102.65 269.02,102.36 269.35,102.6 269.69,102.83 269.91,102.51 270.13,102.19 270.35,101.87 270.67,102.26 271,102.66 271.28,102.34 271.57,102.03 271.85,101.72 272.13,101.41 272.48,101.12 272.84,100.84 273.19,100.55 273.49,100.92 273.79,101.3 274.1,101.48 274.4,101.67 274.8,101.72 275.2,101.76 275.6,101.6 276,101.43 276.24,101.07 276.48,100.71 276.72,100.35 277.07,100.65 277.43,100.95 277.79,100.59 278.15,100.23 278.47,100.6 278.78,100.97 279.42,101.16 280.05,101.06 280.37,100.85 280.69,100.65 281.36,100.52 281.59,100.15 281.81,99.78 282.04,99.42 282.37,99.69 282.71,99.96 283.05,100.16 283.38,100.36 284.04,100.31 284.36,100.12 284.69,99.94 285.35,100.14 285.56,99.78 285.78,99.41 286,99.05 286.21,99.44 286.42,99.84 286.62,100.24 286.75,99.91 286.88,99.57 287,99.24 287.12,98.91 287.25,98.57 287.88,98.49 288.03,98.85 288.19,99.21 288.34,99.57 288.5,99.93 288.66,99.59 288.81,99.25 288.97,98.91 289.12,98.56 289.44,98.81 289.75,99.06 290.06,99.43 290.38,99.8 291,99.88 291.31,99.59 291.62,99.3 291.94,98.98 292.25,98.66 292.88,98.73 293.19,98.41 293.5,98.08 293.66,98.43 293.81,98.78 293.97,99.12 294.12,99.47 294.44,99.24 294.75,99 294.96,98.67 295.17,98.35 295.38,98.02 296,97.92 296.31,98.09 296.62,98.25 296.83,98.56 297.04,98.86 297.25,99.17 297.56,98.85 297.88,98.54 298.19,98.22 298.5,97.9 298.71,98.19 298.92,98.48 299.12,98.78 299.44,98.38 299.75,97.98 300.06,98.29 300.38,98.6 300.58,98.26 300.79,97.93 301,97.6 301.16,97.97 301.31,98.35 301.47,98.73 301.62,99.11 301.83,98.77 302.04,98.43 302.25,98.09 302.88,97.93 303.5,97.85 303.81,98.04 304.12,98.23 304.75,98.35 305.06,98.11 305.38,97.86 305.69,97.66 306,97.45 306.21,97.87 306.42,98.29 306.63,98.7 307.26,98.68 307.58,98.33 307.89,97.99 308.1,97.69 308.31,97.39 308.52,97.09 309.16,97.36 309.48,97.06 309.79,96.77 310.11,97.16 310.43,97.56 310.75,97.87 311.06,98.18 311.22,97.87 311.38,97.55 311.53,97.24 311.69,96.92 312.32,97.08 312.63,97.48 312.94,97.89 313.1,97.52 313.26,97.15 313.41,96.78 313.57,96.41 313.77,96.8 313.98,97.19 314.18,97.58 314.79,97.52 314.99,97.14 315.19,96.77 315.39,96.4 315.7,96.82 316,97.24 316.19,96.85 316.38,96.47 316.57,96.08 316.77,95.7 317.15,95.69 317.53,95.67 317.91,96.02 318.3,96.37 318.54,96.01 318.79,95.65 319.03,95.28 319.4,95.26 319.77,95.24 320.13,95.61 320.5,95.97 320.87,96.01 321.23,96.04 321.6,96.06 321.97,96.07 322.34,95.78 322.7,95.49 322.96,95.19 323.21,94.9 323.47,94.61 323.85,94.71 324.23,94.82 324.62,94.46 325,94.1 325.31,94.36 325.62,94.62 325.83,94.91 326.04,95.2 326.25,95.5 326.46,95.13 326.67,94.75 326.88,94.38 327.5,94.41 327.83,94.55 328.16,94.69 328.81,94.62 329.14,94.33 329.47,94.04 330.12,94.05 330.34,93.64 330.55,93.23 330.77,92.82 331.09,93.01 331.41,93.21 331.73,93.62 332.05,94.03 332.69,93.85 332.88,93.46 333.07,93.08 333.27,92.69 333.46,92.3 333.72,92.66 333.97,93.02 334.23,93.38 334.61,93.32 335,93.26 335.33,92.89 335.66,92.52 335.99,92.3 336.32,92.07 336.54,92.43 336.76,92.79 336.98,93.14 337.43,92.92 337.87,92.7 338.04,92.36 338.22,92.02 338.4,91.67 338.57,91.33 338.75,90.99 339.02,91.22 339.3,91.44 339.57,91.67 339.98,91.4 340.39,91.12 340.79,91.33 341.2,91.53 341.6,91.74 342,91.94 342.26,91.59 342.52,91.23 342.77,90.88 343.16,90.96 343.55,91.04 343.73,91.38 343.91,91.72 344.09,92.06 344.27,92.4 344.52,92.08 344.76,91.77 345,91.46 345.24,91.72 345.48,91.98 345.73,92.24 346.09,92.31 346.45,92.39 346.84,92.19 347.23,91.98 347.48,92.28 347.74,92.58 348,92.87 348.3,92.67 348.59,92.47 348.89,92.28 349.33,92.14 349.77,91.99 349.99,92.3 350.2,92.6 350.41,92.9 350.73,92.68 351.05,92.45 351.26,92.76 351.47,93.08 351.69,93.39 352.29,93.74 352.9,93.82 353.1,93.5 353.31,93.19 353.51,92.87 353.88,93.23 354.25,93.59 354.5,93.2 354.75,92.82 355,92.43 355.25,92.77 355.49,93.1 355.74,93.43 355.98,93.77 356.3,93.5 356.62,93.23 356.77,93.56 356.91,93.9 357.06,94.23 357.2,94.56 357.6,94.32 358,94.08 358.38,94.18 358.76,94.29 359.13,94.4 359.46,94.58 359.79,94.75 360.44,94.58 361.11,94.67 361.44,94.96 361.77,95.25 361.9,94.9 362.02,94.55 362.14,94.2 362.26,93.86 362.39,93.51 363,93.68 363.35,93.73 363.7,93.77 364.05,93.82 364.52,93.88 365,93.94 365.48,94.03 365.95,94.12 366.16,93.83 366.37,93.54 366.58,93.25 366.79,92.96 367,92.67 367.31,92.41 367.62,92.15 367.93,92.36 368.24,92.58 368.57,92.24 368.91,91.9 369.25,91.63 369.59,91.36 370.24,91.36 370.46,91 370.68,90.64 370.9,90.28 371.26,90.47 371.63,90.65 372,90.84 372.27,90.5 372.55,90.17 372.82,89.84 373.14,89.48 373.46,89.13 374.02,89.3 374.21,88.94 374.41,88.58 374.6,88.22 374.81,87.93 375.01,87.64 375.22,87.35 375.83,87.05 376.02,86.73 376.22,86.41 376.42,86.09 376.71,85.89 377,85.69 377.57,85.84 377.68,85.49 377.79,85.14 377.9,84.79 378.01,84.43 378.12,84.08 378.39,83.76 378.66,83.43 378.84,83.06 379.02,82.69 379.2,82.31 379.38,81.98 379.56,81.66 379.74,81.33 380.27,81.35 380.54,80.96 380.8,80.57 381.3,80.25 381.76,79.9 381.97,80.22 382.19,80.54 382.62,80.25 382.86,79.95 383.1,79.65 383.63,79.43 383.91,79.7 384.19,79.98 384.49,80.33 384.79,80.68 385.4,80.76 385.51,81.12 385.62,81.48 385.73,81.84 385.84,82.2 385.95,82.56 386.06,82.91 386.18,83.25 386.29,83.59 386.41,83.93 386.53,84.27 386.65,84.6 386.76,84.94 387.11,85.09 387.46,85.24 387.59,85.6 387.71,85.96 387.84,86.31 387.97,86.67 388.1,87.03 388.25,87.43 388.39,87.84 388.54,88.25 388.69,88.66 388.82,89.01 388.96,89.37 389.1,89.72 389.24,90.08 389.41,90.51 389.58,90.94 389.75,91.38 389.84,91.78 389.93,92.18 390.02,92.58 390.11,92.99 390.2,93.39 390.29,93.81 390.38,94.23 390.48,94.65 390.57,95.07 390.63,95.49 390.69,95.91 390.75,96.32 390.81,96.74 390.87,97.15 391.01,97.56 391.16,97.97 391.24,98.39 391.33,98.82 391.41,99.25 391.5,99.67 391.57,100.05 391.64,100.43 391.71,100.8 391.78,101.18 391.85,101.56 391.92,101.94 391.97,102.32 392.02,102.7 392.07,103.08 392.12,103.46 392.17,103.84 392.22,104.22 392.27,104.6 392.32,104.98 392.38,105.36 392.53,105.75 392.69,106.14 392.85,106.53 392.9,106.88 392.96,107.23 393.02,107.59 393.07,107.94 393.13,108.29 393.19,108.64 393.24,108.99 393.3,109.34 393.37,109.72 393.43,110.1 393.5,110.47 393.56,110.85 393.63,111.23 393.7,111.6 393.75,111.95 393.8,112.3 393.85,112.66 393.91,113.01 393.96,113.36 394.01,113.71 394.06,114.06 394.11,114.44 394.16,114.82 394.22,115.21 394.27,115.59 394.32,115.97 394.37,116.36 394.42,116.74 394.47,117.12 394.54,117.51 394.6,117.89 394.67,118.28 394.74,118.67 394.8,119.06 394.87,119.44 394.93,119.83 395,120.22 395.08,120.58 395.15,120.94 395.23,121.3 395.31,121.66 395.39,122.01 395.46,122.37 395.54,122.73 395.62,123.09 395.69,123.45 395.74,123.81 395.79,124.18 395.84,124.54 395.89,124.9 395.93,125.26 395.98,125.62 396.03,125.98 396.08,126.34 396.12,126.71 396.17,127.07 396.22,127.43 396.27,127.79 396.32,128.15 396.36,128.51 396.41,128.87 396.46,129.23 396.51,129.6 396.57,129.94 396.64,130.29 396.7,130.64 396.77,130.98 396.84,131.33 396.9,131.68 396.97,132.02 397.03,132.37 397.1,132.72 397.17,133.07 397.23,133.41 397.3,133.76 397.36,134.11 397.42,134.48 397.48,134.84 397.53,135.21 397.59,135.58 397.64,135.95 397.7,136.32 397.75,136.69 397.81,137.06 397.87,137.43 397.92,137.8 397.98,138.17 398.03,138.54 398.09,138.91 398.14,139.27 398.2,139.64 398.26,140.01 398.31,140.37 398.37,140.76 398.43,140.99 398.48,141.47 398.54,141.78 398.6,141.87 398.65,142.67 398.71,142.88 398.76,143.37 398.82,143.47 398.88,143.85 398.93,144.55 398.99,144.64 399.04,145.29 399.1,144.98 399.15,146.23 399.2,146.68 399.25,146.61 399.3,146.46 399.36,146.52 399.41,147.06 399.46,147.91 399.51,148.13 399.57,148.07 399.62,148.15 399.67,149.72 399.72,149.26 399.77,150.9 399.84,150.19 399.91,150.89 399.97,150.88 400.04,151.3 400.11,151.04 400.17,150.88 400.24,153.51 400.31,151.92 400.37,153.56 400.44,153.71 400.51,155.48 400.57,153.91 400.62,155.01 400.67,155.33 400.72,155.9 400.77,154.95 400.82,156.49 400.86,157.6 400.91,157.58 400.96,155.19 401.01,156.4 401.06,159.29 401.11,157.75 401.16,157.97 401.21,160.53 401.25,158.33 401.3,159.21 401.35,159.3 401.4,160.64 401.46,160.21 401.53,162.18 401.59,161.76 401.65,160.39 401.72,161.1 401.78,164.45 401.84,162.88 401.91,162.79 401.97,163.92 402.03,163.45 402.1,165.49 402.16,166.18 402.22,164.53 402.29,167.62 402.35,165.09 402.41,166.88 402.47,166.79 402.53,165.26 402.59,168.25 402.66,168.83 402.72,162.39 402.78,168.5 402.84,172.15 402.9,172.15 402.97,169.17 403.03,168.56 403.09,169.05 403.15,169.42 403.21,171.11 403.28,170.46 403.35,172.27 403.42,173.59 403.5,172.76 403.57,172.24 403.64,172.01 403.71,172.06 403.78,172.07 403.85,172.36 403.92,176.75 403.99,170.01 404.06,174.42 404.13,174.82 404.19,173.77 404.26,175.88 404.32,176.02 404.38,180.13 404.44,177.92 404.5,177.95 404.57,179.18 404.63,182.15 404.69,179.07 404.75,180.34 404.81,178.97 404.88,179.4 404.94,176.19 405,180.51 405.09,182.93 405.17,181.57 405.26,185.7 405.34,181.3 405.43,180.42 405.52,182.14 405.6,179.98 405.69,180.34 405.78,181.41 405.86,183.86 405.97,183.71 406.08,191.41 406.19,183.97 406.29,185.94 406.4,184.81 406.51,187.15 406.62,185 406.73,185.12 406.85,190.15 406.98,187.13 407.1,190.77 407.22,187.41 407.35,185.87 407.47,188.02 407.56,185.06 407.65,191.96 407.74,189.52 407.82,191.03 407.91,188.33 408,191" fill="none" stroke="#1c1cc4" stroke-width="1.5" stroke-linejoin="round" opacity="1.0"/>
<polyline points="258.6,74.65 258.61,75.01 258.62,75.36 258.62,75.71 258.63,76.07 258.64,76.42 258.65,76.78 258.65,77.13 258.66,77.48 258.67,77.84 258.68,78.19 258.69,78.55 258.69,78.9 258.7,79.25 258.71,79.61 258.72,79.96 258.73,80.32 258.73,80.67 258.74,81.02 258.75,81.37 258.76,81.72 258.76,82.07 258.77,82.42 258.78,82.78 258.79,83.13 258.79,83.48 258.8,83.83 258.81,84.18 258.82,84.53 258.82,84.88 258.83,85.23 258.84,85.58 258.85,85.93 258.85,86.28 258.86,86.63 258.87,86.98 258.88,87.33 258.88,87.68 258.89,88.03 258.9,88.38 258.91,88.73 258.91,89.08 258.92,89.43 258.93,89.78 258.94,90.13 258.95,90.49 258.95,90.85 258.96,91.21 258.97,91.57 258.98,91.93 258.99,92.29 259,92.65 259.01,93.01 259.02,93.37 259.02,93.73 259.03,94.09 259.04,94.45 259.05,94.81 259.06,95.17 259.07,95.53 259.08,95.89 259.09,96.25 259.09,96.61 259.1,96.97 259.11,97.33 259.12,97.69 259.13,98.04 259.14,98.4 259.15,98.76 259.16,99.12 259.16,99.48 259.17,99.84 259.18,100.2 259.19,100.56 259.2,100.92 259.22,101.29 259.23,101.65 259.24,102.01 259.26,102.37 259.27,102.74 259.28,103.1 259.29,103.46 259.31,103.82 259.32,104.19 259.33,104.55 259.35,104.91 259.36,105.27 259.37,105.64 259.38,106 259.4,106.36 259.41,106.72 259.42,107.09 259.44,107.45 259.45,107.81 259.46,108.17 259.47,108.54 259.49,108.9 259.5,109.26 259.51,109.62 259.53,109.98 259.54,110.34 259.56,110.7 259.57,111.06 259.59,111.42 259.6,111.78 259.62,112.14 259.63,112.5 259.65,112.86 259.66,113.23 259.67,113.59 259.69,113.95 259.7,114.31 259.72,114.67 259.73,115.03 259.75,115.39 259.76,115.75 259.78,116.11 259.79,116.47 259.8,116.83 259.82,117.19 259.83,117.55 259.85,117.91 259.86,118.27 259.88,118.63 259.9,118.98 259.93,119.33 259.95,119.68 259.98,120.03 260,120.39 260.02,120.74 260.05,121.09 260.07,121.44 260.1,121.79 260.12,122.14 260.15,122.49 260.17,122.84 260.2,123.19 260.22,123.54 260.25,123.89 260.27,124.24 260.29,124.59 260.32,124.94 260.34,125.3 260.37,125.65 260.39,126 260.42,126.36 260.44,126.71 260.46,127.06 260.49,127.41 260.51,127.77 260.54,128.12 260.56,128.47 260.58,128.83 260.61,129.18 260.63,129.53 260.66,129.88 260.68,130.24 260.7,130.59 260.73,130.94 260.75,131.3 260.78,131.65 260.8,132 260.84,132.36 260.88,132.73 260.93,133.09 260.97,133.45 261.01,133.82 261.05,134.18 261.09,134.54 261.13,134.9 261.18,135.27 261.22,135.63 261.26,135.99 261.3,136.36 261.56,136.81 261.81,137.26 262,136.94 262.18,136.63 262.36,136.31 262.42,135.96 262.48,135.61 262.54,135.27 262.61,134.92 262.67,134.57 262.73,134.23 262.79,133.88 262.86,133.53 262.92,133.18 263.11,132.89 263.31,132.6 263.5,132.3 263.64,131.93 263.77,131.56 263.91,131.18 264.05,130.81 264.57,131.18 264.88,130.96 265.19,130.74 265.39,130.44 265.6,130.14 265.8,129.84 266,129.54 266.36,129.39 266.72,129.24 267.07,129.08 267.39,128.77 267.71,128.45 267.84,128.1 267.96,127.76 268.09,127.41 268.22,127.07 268.34,126.72 268.68,126.62 269.02,126.53 269.35,126.25 269.69,125.97 270.02,126.16 270.35,126.34 271,126.09 271.19,125.77 271.38,125.44 271.57,125.12 271.76,124.8 271.94,124.47 272.13,124.15 272.48,124.29 272.84,124.44 273.19,124.59 273.31,124.25 273.43,123.92 273.55,123.58 273.67,123.24 273.79,122.91 274.4,122.95 274.8,123.16 275.2,123.37 275.4,123.03 275.6,122.69 275.8,122.35 276,122.01 276.24,122.29 276.48,122.57 276.72,122.85 276.86,122.51 277,122.18 277.15,121.85 277.29,121.52 277.43,121.18 277.79,121.31 278.15,121.43 278.36,121.72 278.57,122.01 278.78,122.29 279.1,122.06 279.42,121.83 279.63,121.47 279.84,121.11 280.05,120.74 280.37,121.01 280.69,121.28 281.36,121.22 281.59,120.88 281.81,120.54 282.04,120.2 282.2,120.58 282.37,120.96 282.54,121.33 282.71,121.71 282.84,121.36 282.98,121.01 283.11,120.66 283.25,120.3 283.38,119.95 283.55,120.33 283.71,120.7 283.87,121.08 284.04,121.45 284.36,121.18 284.69,120.91 285.35,120.71 285.67,120.39 286,120.07 286.31,119.88 286.62,119.7 287.25,120.01 287.56,120.35 287.88,120.69 288,120.36 288.12,120.02 288.25,119.68 288.38,119.35 288.5,119.01 288.81,119.28 289.12,119.55 289.75,119.64 290.06,119.89 290.38,120.15 290.69,119.84 291,119.52 291.62,119.82 291.94,119.53 292.25,119.24 292.56,118.93 292.88,118.62 293.19,119 293.5,119.38 293.62,119.03 293.75,118.69 293.88,118.34 294,117.99 294.12,117.64 294.33,118.03 294.54,118.41 294.75,118.79 294.91,118.43 295.06,118.07 295.22,117.71 295.38,117.35 296,117.36 296.62,117.18 296.94,117.49 297.25,117.79 297.56,118.05 297.88,118.31 298.5,118.2 298.81,117.99 299.12,117.79 299.44,117.51 299.75,117.23 300.38,117 301,117.19 301.62,116.89 302.25,117.14 302.88,117.29 303.08,116.93 303.29,116.57 303.5,116.21 303.66,116.57 303.81,116.94 303.97,117.3 304.12,117.66 304.28,117.28 304.44,116.91 304.59,116.53 304.75,116.16 304.91,116.48 305.06,116.8 305.22,117.12 305.38,117.43 305.53,117.03 305.69,116.63 305.84,116.23 306,115.83 306.63,115.79 306.76,116.13 306.88,116.48 307.01,116.82 307.14,117.16 307.26,117.5 307.47,117.12 307.68,116.73 307.89,116.35 308.52,116.45 308.84,116.8 309.16,117.15 309.37,116.75 309.58,116.34 309.79,115.93 310,116.26 310.22,116.58 310.43,116.9 310.75,117.15 311.06,117.39 311.38,117.05 311.69,116.71 312,116.3 312.32,115.89 312.94,116.12 313.1,116.45 313.26,116.78 313.41,117.1 313.57,117.43 313.72,117.11 313.87,116.79 314.03,116.47 314.18,116.15 314.48,116.57 314.79,117 315.39,116.82 316,116.99 316.38,116.77 316.77,116.54 317.15,116.33 317.53,116.12 317.91,116.25 318.3,116.37 318.66,116.14 319.03,115.91 319.21,115.61 319.4,115.31 319.58,115.01 319.77,114.71 320.13,114.41 320.5,114.11 320.87,114.41 321.23,114.7 321.6,114.52 321.97,114.34 322.34,114.25 322.7,114.16 322.96,113.84 323.21,113.52 323.47,113.2 323.72,113.52 323.98,113.84 324.23,114.16 324.49,113.83 324.74,113.5 325,113.17 325.3,112.93 325.61,112.69 325.91,112.38 326.21,112.07 326.82,111.92 327.43,111.91 327.74,112.21 328.06,112.5 328.37,112.18 328.68,111.86 329,112.15 329.31,112.43 329.52,112.08 329.73,111.74 329.94,111.39 330.25,111.8 330.57,112.2 331.21,112.3 331.52,111.96 331.84,111.62 332.48,111.72 332.69,111.37 332.9,111.03 333.11,110.69 333.74,110.87 334.37,110.61 335,110.52 335.21,110.83 335.42,111.14 335.62,111.44 335.78,111.13 335.94,110.81 336.09,110.5 336.25,110.18 336.46,110.53 336.67,110.87 336.88,111.21 337.19,110.95 337.5,110.68 337.71,110.37 337.92,110.06 338.12,109.75 338.75,109.96 339.38,109.86 340,109.81 340.31,110.21 340.62,110.61 340.94,110.29 341.25,109.97 341.56,109.81 341.88,109.64 342.5,109.72 342.81,109.47 343.12,109.22 343.44,108.99 343.75,108.77 344.06,108.97 344.38,109.17 344.69,109.51 345,109.85 345.65,109.77 345.82,109.41 345.98,109.06 346.15,108.7 346.31,108.34 346.53,108.68 346.74,109.03 346.96,109.37 347.62,109.54 347.95,109.39 348.29,109.25 348.63,109.51 348.96,109.78 349.19,109.37 349.41,108.97 349.64,108.56 349.98,108.41 350.31,108.26 350.63,108.45 350.95,108.65 351.26,108.3 351.58,107.95 351.74,108.31 351.9,108.68 352.06,109.05 352.22,109.42 352.53,109.03 352.85,108.65 353.21,108.85 353.57,109.06 353.93,108.92 354.28,108.79 354.64,108.82 355,108.85 355.38,108.79 355.77,108.73 356.02,109.02 356.28,109.31 356.53,109.61 356.9,109.82 357.26,110.04 357.62,110.25 357.97,110.49 358.31,110.74 358.66,110.99 358.99,110.7 359.33,110.42 360,110.44 360.63,110.72 360.94,111.12 361.26,111.52 361.46,111.18 361.67,110.84 361.88,110.49 362.25,110.25 362.61,110.01 362.85,110.33 363.09,110.65 363.34,110.97 363.7,111.33 364.06,111.7 364.24,111.39 364.42,111.07 364.6,110.76 364.78,110.45 365.14,110.66 365.49,110.86 365.85,111.13 366.21,111.41 366.66,111.39 367.11,111.37 367.4,111.18 367.7,110.99 368,110.8 368.32,111.09 368.64,111.39 369.28,111.35 369.6,111.09 369.93,110.84 370.25,110.59 370.67,110.4 371.09,110.21 371.24,109.87 371.4,109.52 371.55,109.18 371.7,108.83 371.85,108.49 372,108.14 372.5,108 373,107.86 373.33,107.57 373.67,107.28 374,106.99 374.25,106.69 374.5,106.4 374.75,106.1 375,105.81 375.33,105.53 375.67,105.25 376,104.97 376.34,104.86 376.68,104.75 377.02,104.65 377.23,104.31 377.44,103.97 377.65,103.63 377.85,103.3 378.06,102.96 378.21,102.61 378.35,102.26 378.49,101.91 378.64,101.57 378.78,101.22 378.93,100.87 379.07,100.52 379.38,100.33 379.69,100.14 380,99.95 380.17,99.62 380.34,99.29 380.51,98.96 380.68,98.62 380.84,98.29 380.96,97.95 381.07,97.61 381.18,97.27 381.29,96.92 381.4,96.58 381.51,96.24 381.62,95.89 381.8,95.52 381.98,95.15 382.16,94.78 382.34,94.41 382.48,94.04 382.61,93.66 382.74,93.29 382.87,92.91 383,92.54 383.28,92.2 383.56,91.86 383.79,91.57 384.03,91.28 384.12,90.92 384.21,90.57 384.31,90.22 384.4,89.86 384.49,89.51 384.66,89.09 384.83,88.68 385,88.26 385.15,87.88 385.3,87.5 385.44,87.12 385.59,86.74 386.22,86.54 386.31,86.19 386.39,85.84 386.47,85.5 386.55,85.15 386.63,84.81 386.71,84.46 386.79,84.11 386.87,83.77 387.08,83.48 387.29,83.19 387.5,82.9 387.65,82.57 387.8,82.24 387.96,81.91 388.11,81.59 388.71,81.32 389.3,81.26 389.9,80.96 390.09,80.66 390.29,80.36 390.48,80.06 391.06,80.41 391.25,79.99 391.45,79.58 391.65,79.16 391.87,79.45 392.08,79.75 392.3,80.04 392.67,79.98 393.05,79.92 393.46,80.17 393.87,80.42 394.07,80.71 394.27,81 394.48,81.28 394.68,81.57 395.04,81.92 395.4,82.27 395.52,82.67 395.64,83.07 395.76,83.47 395.88,83.86 396,84.26 396.26,84.56 396.52,84.86 396.59,85.22 396.66,85.58 396.73,85.94 396.8,86.29 396.87,86.65 396.94,87.01 397.01,87.37 397.13,87.76 397.26,88.15 397.38,88.53 397.5,88.92 398.01,89.13 398.09,89.49 398.18,89.85 398.26,90.21 398.35,90.57 398.43,90.93 398.52,91.29 398.61,91.7 398.71,92.1 398.8,92.5 398.9,92.9 398.99,93.3 399.09,93.67 399.2,94.03 399.3,94.4 399.4,94.76 399.49,95.1 399.58,95.44 399.67,95.79 399.85,95.5 399.88,95.87 399.91,96.23 399.94,96.6 399.97,96.96 399.99,97.33 400.02,97.69 400.05,98.06 400.17,98.49 400.28,98.92 400.4,99.35 400.46,99.72 400.51,100.1 400.57,100.48 400.62,100.85 400.68,101.23 400.74,101.61 400.79,101.98 400.85,102.36 400.9,102.74 400.96,103.11 401,103.47 401.04,103.83 401.08,104.19 401.11,104.54 401.15,104.9 401.19,105.26 401.23,105.61 401.27,105.97 401.31,106.33 401.35,106.69 401.39,107.04 401.42,107.4 401.46,107.76 401.5,108.12 401.54,108.47 401.58,108.83 401.62,109.19 401.66,109.55 401.71,109.9 401.76,110.26 401.82,110.62 401.87,110.97 401.92,111.33 401.97,111.69 402.03,112.04 402.08,112.4 402.13,112.76 402.19,113.11 402.24,113.47 402.29,113.83 402.35,114.18 402.4,114.54 402.45,114.89 402.5,115.24 402.55,115.59 402.6,115.94 402.65,116.29 402.7,116.64 402.75,117 402.8,117.35 402.85,117.7 402.9,118.05 402.95,118.4 403,118.75 403.05,119.1 403.1,119.45 403.15,119.8 403.19,120.15 403.24,120.5 403.28,120.85 403.33,121.2 403.37,121.55 403.42,121.9 403.46,122.25 403.51,122.6 403.55,122.95 403.6,123.3 403.64,123.65 403.69,124 403.73,124.35 403.78,124.72 403.82,125.08 403.86,125.44 403.9,125.8 403.94,126.16 403.98,126.53 404.02,126.89 404.06,127.25 404.1,127.61 404.14,127.97 404.19,128.34 404.23,128.7 404.27,129.06 404.31,129.42 404.35,129.78 404.39,130.15 404.43,130.52 404.47,130.89 404.51,131.25 404.56,131.62 404.6,131.99 404.64,132.35 404.68,132.72 404.72,133.09 404.76,133.45 404.8,133.82 404.84,134.19 404.88,134.55 404.92,134.92 404.97,135.29 405.02,135.64 405.08,135.99 405.14,136.34 405.2,136.7 405.25,137.05 405.31,137.4 405.37,137.75 405.43,138.1 405.48,138.46 405.54,138.81 405.6,139.16 405.64,139.53 405.68,139.89 405.72,140.26 405.76,140.63 405.8,141 405.85,141.36 405.89,141.73 405.93,142.1 405.97,142.46 406.01,142.83 406.05,143.2 406.09,143.56 406.13,143.93 406.17,144.3 406.21,144.67 406.25,145.03 406.3,145.38 406.35,145.73 406.4,146.08 406.44,146.43 406.49,146.78 406.54,147.13 406.59,147.47 406.63,147.82 406.68,148.17 406.73,148.52 406.78,148.87 406.82,149.22 406.87,149.57 406.92,149.91 406.96,150.28 407,150.65 407.05,150.94 407.09,151.39 407.13,151.81 407.17,152.03 407.22,152.31 407.26,152.91 407.3,153.09 407.34,153.73 407.39,153.76 407.43,154.33 407.47,154.28 407.51,155.29 407.56,155.66 407.6,155.89 407.66,156.42 407.72,156.16 407.77,156 407.83,157.28 407.89,157.36 407.95,157.38 408.01,159.12 408.07,158.47 408.12,158.41 408.18,159.31 408.24,159.89 408.3,159.88 408.36,160.15 408.42,159.8 408.47,161.53 408.53,162.2 408.59,161.74 408.65,161.76 408.7,161.94 408.76,162.34 408.82,162.69 408.88,163.92 408.93,163.53 408.99,164.14 409.05,165.03 409.1,164.82 409.14,165.49 409.19,165.64 409.24,165.42 409.28,166.76 409.33,167.58 409.37,167.04 409.42,168.38 409.47,167.8 409.51,168.9 409.56,169.18 409.61,169.99 409.65,169.72 409.7,169.99 409.74,170.62 409.79,170.92 409.84,171.46 409.9,172.46 409.97,171.29 410.03,170.17 410.09,170.36 410.16,170.75 410.22,173.54 410.29,174.65 410.35,173.58 410.41,174.42 410.48,173.04 410.54,176.7 410.61,176.93 410.66,175.47 410.72,174.36 410.78,176.99 410.84,177.26 410.9,175.53 410.95,177.19 411.01,178.61 411.07,176.22 411.13,178.86 411.18,176.73 411.24,181.01 411.3,178.4 411.34,177.72 411.38,179.97 411.43,181.78 411.47,178.81 411.51,180.05 411.56,181.03 411.6,183.67 411.64,180.28 411.68,184.28 411.73,182.62 411.77,183.32 411.81,184.09 411.85,182.75 411.89,186.15 411.94,184.59 412.01,188.02 412.09,186.87 412.16,189.73 412.24,186.69 412.31,187.36 412.39,189.29 412.46,189.48 412.54,189.69 412.61,185.53 412.68,188.28 412.75,192.45 412.83,188.2 412.9,187.51 412.97,192.45 413.04,187.6 413.1,189.79 413.16,193.27 413.22,191.97 413.28,191.32 413.34,195.36 413.4,192" fill="none" stroke="#d42222" stroke-width="1.5" stroke-linejoin="round" opacity="1.0"/>
<polyline points="385,88.26 385.15,87.88 385.3,87.5 385.44,87.12 385.59,86.74 386.22,86.54 386.31,86.19 386.39,85.84 386.47,85.5 386.55,85.15 386.63,84.81 386.71,84.46 386.79,84.11 386.87,83.77 387.08,83.48 387.29,83.19 387.5,82.9 387.65,82.57 387.8,82.24 387.96,81.91 388.11,81.59 388.71,81.32 389.3,81.26 389.9,80.96 390.09,80.66 390.29,80.36 390.48,80.06 391.06,80.41 391.25,79.99 391.45,79.58 391.65,79.16 391.87,79.45 392.08,79.75 392.3,80.04 392.67,79.98 393.05,79.92 393.46,80.17 393.87,80.42 394.07,80.71 394.27,81 394.48,81.28 394.68,81.57 395.04,81.92 395.4,82.27 395.52,82.67 395.64,83.07 395.76,83.47 395.88,83.86 396,84.26 396.26,84.56 396.52,84.86 396.59,85.22 396.66,85.58 396.73,85.94 396.8,86.29 396.87,86.65 396.94,87.01 397.01,87.37 397.13,87.76 397.26,88.15 397.38,88.53 397.5,88.92 398.01,89.13 398.09,89.49 398.18,89.85 398.26,90.21 398.35,90.57 398.43,90.93 398.52,91.29 398.61,91.7 398.71,92.1 398.8,92.5 398.9,92.9 398.99,93.3 399.09,93.67 399.2,94.03 399.3,94.4 399.4,94.76 399.49,95.1 399.58,95.44 399.67,95.79 399.85,95.5 399.88,95.87 399.91,96.23 399.94,96.6 399.97,96.96 399.99,97.33 400.02,97.69 400.05,98.06 400.17,98.49 400.28,98.92 400.4,99.35 400.46,99.72 400.51,100.1 400.57,100.48 400.62,100.85 400.68,101.23 400.74,101.61 400.79,101.98 400.85,102.36 400.9,102.74 400.96,103.11 401,103.47 401.04,103.83 401.08,104.19 401.11,104.54 401.15,104.9 401.19,105.26 401.23,105.61 401.27,105.97 401.31,106.33 401.35,106.69 401.39,107.04 401.42,107.4 401.46,107.76 401.5,108.12 401.54,108.47 401.58,108.83 401.62,109.19 401.66,109.55 401.71,109.9 401.76,110.26 401.82,110.62 401.87,110.97 401.92,111.33 401.97,111.69 402.03,112.04 402.08,112.4 402.13,112.76 402.19,113.11 402.24,113.47 402.29,113.83 402.35,114.18 402.4,114.54 402.45,114.89 402.5,115.24 402.55,115.59 402.6,115.94 402.65,116.29 402.7,116.64 402.75,117 402.8,117.35 402.85,117.7 402.9,118.05 402.95,118.4 403,118.75 403.05,119.1 403.1,119.45 403.15,119.8 403.19,120.15 403.24,120.5 403.28,120.85 403.33,121.2 403.37,121.55 403.42,121.9 403.46,122.25 403.51,122.6 403.55,122.95 403.6,123.3 403.64,123.65 403.69,124 403.73,124.35 403.78,124.72 403.82,125.08 403.86,125.44 403.9,125.8 403.94,126.16 403.98,126.53 404.02,126.89 404.06,127.25 404.1,127.61 404.14,127.97 404.19,128.34 404.23,128.7 404.27,129.06 404.31,129.42 404.35,129.78 404.39,130.15 404.43,130.52 404.47,130.89 404.51,131.25 404.56,131.62 404.6,131.99 404.64,132.35 404.68,132.72 404.72,133.09 404.76,133.45 404.8,133.82 404.84,134.19 404.88,134.55 404.92,134.92 404.97,135.29 405.02,135.64 405.08,135.99 405.14,136.34 405.2,136.7 405.25,137.05 405.31,137.4 405.37,137.75 405.43,138.1 405.48,138.46 405.54,138.81 405.6,139.16 405.64,139.53 405.68,139.89 405.72,140.26 405.76,140.63 405.8,141 405.85,141.36 405.89,141.73 405.93,142.1 405.97,142.46 406.01,142.83 406.05,143.2 406.09,143.56 406.13,143.93 406.17,144.3 406.21,144.67 406.25,145.03 406.3,145.38 406.35,145.73 406.4,146.08 406.44,146.43 406.49,146.78 406.54,147.13 406.59,147.47 406.63,147.82 406.68,148.17 406.73,148.52 406.78,148.87 406.82,149.22 406.87,149.57 406.92,149.91 406.96,150.28 407,150.65 407.05,150.94 407.09,151.39 407.13,151.81 407.17,152.03 407.22,152.31 407.26,152.91 407.3,153.09 407.34,153.73 407.39,153.76 407.43,154.33 407.47,154.28 407.51,155.29 407.56,155.66 407.6,155.89 407.66,156.42 407.72,156.16 407.77,156 407.83,157.28 407.89,157.36 407.95,157.38 408.01,159.12 408.07,158.47 408.12,158.41 408.18,159.31 408.24,159.89 408.3,159.88 408.36,160.15 408.42,159.8 408.47,161.53 408.53,162.2 408.59,161.74 408.65,161.76 408.7,161.94 408.76,162.34 408.82,162.69 408.88,163.92 408.93,163.53 408.99,164.14" fill="none" stroke="#2ed42e" stroke-width="1.5" stroke-linejoin="round" opacity="0.45"/>
<line x1="258.4" y1="265.6" x2="258.4" y2="268.6" stroke="#111" stroke-width="0.8800000000000001"/>
<line x1="258.4" y1="54.7" x2="258.4" y2="57.7" stroke="#111" stroke-width="0.8800000000000001"/>
<line x1="268.41" y1="265.6" x2="268.41" y2="267.4" stroke="#111" stroke-width="0.8800000000000001"/>
<line x1="268.41" y1="54.7" x2="268.41" y2="56.5" stroke="#111" stroke-width="0.8800000000000001"/>
<line x1="278.42" y1="265.6" x2="278.42" y2="267.4" stroke="#111" stroke-width="0.8800000000000001"/>
<line x1="278.42" y1="54.7" x2="278.42" y2="56.5" stroke="#111" stroke-width="0.8800000000000001"/>
<line x1="288.42" y1="265.6" x2="288.42" y2="267.4" stroke="#111" stroke-width="0.8800000000000001"/>
<line x1="288.42" y1="54.7" x2="288.42" y2="56.5" stroke="#111" stroke-width="0.8800000000000001"/>
<line x1="298.43" y1="265.6" x2="298.43" y2="267.4" stroke="#111" stroke-width="0.8800000000000001"/>
<line x1="298.43" y1="54.7" x2="298.43" y2="56.5" stroke="#111" stroke-width="0.8800000000000001"/>
<line x1="308.44" y1="265.6" x2="308.44" y2="268.6" stroke="#111" stroke-width="0.8800000000000001"/>
<line x1="308.44" y1="54.7" x2="308.44" y2="57.7" stroke="#111" stroke-width="0.8800000000000001"/>
<line x1="318.45" y1="265.6" x2="318.45" y2="267.4" stroke="#111" stroke-width="0.8800000000000001"/>
<line x1="318.45" y1="54.7" x2="318.45" y2="56.5" stroke="#111" stroke-width="0.8800000000000001"/>
<line x1="328.46" y1="265.6" x2="328.46" y2="267.4" stroke="#111" stroke-width="0.8800000000000001"/>
<line x1="328.46" y1="54.7" x2="328.46" y2="56.5" stroke="#111" stroke-width="0.8800000000000001"/>
<line x1="338.46" y1="265.6" x2="338.46" y2="267.4" stroke="#111" stroke-width="0.8800000000000001"/>
<line x1="338.46" y1="54.7" x2="338.46" y2="56.5" stroke="#111" stroke-width="0.8800000000000001"/>
<line x1="348.47" y1="265.6" x2="348.47" y2="267.4" stroke="#111" stroke-width="0.8800000000000001"/>
<line x1="348.47" y1="54.7" x2="348.47" y2="56.5" stroke="#111" stroke-width="0.8800000000000001"/>
<line x1="358.48" y1="265.6" x2="358.48" y2="268.6" stroke="#111" stroke-width="0.8800000000000001"/>
<line x1="358.48" y1="54.7" x2="358.48" y2="57.7" stroke="#111" stroke-width="0.8800000000000001"/>
<line x1="368.49" y1="265.6" x2="368.49" y2="267.4" stroke="#111" stroke-width="0.8800000000000001"/>
<line x1="368.49" y1="54.7" x2="368.49" y2="56.5" stroke="#111" stroke-width="0.8800000000000001"/>
<line x1="378.5" y1="265.6" x2="378.5" y2="267.4" stroke="#111" stroke-width="0.8800000000000001"/>
<line x1="378.5" y1="54.7" x2="378.5" y2="56.5" stroke="#111" stroke-width="0.8800000000000001"/>
<line x1="388.5" y1="265.6" x2="388.5" y2="267.4" stroke="#111" stroke-width="0.8800000000000001"/>
<line x1="388.5" y1="54.7" x2="388.5" y2="56.5" stroke="#111" stroke-width="0.8800000000000001"/>
<line x1="398.51" y1="265.6" x2="398.51" y2="267.4" stroke="#111" stroke-width="0.8800000000000001"/>
<line x1="398.51" y1="54.7" x2="398.51" y2="56.5" stroke="#111" stroke-width="0.8800000000000001"/>
<line x1="408.52" y1="265.6" x2="408.52" y2="268.6" stroke="#111" stroke-width="0.8800000000000001"/>
<line x1="408.52" y1="54.7" x2="408.52" y2="57.7" stroke="#111" stroke-width="0.8800000000000001"/>
<line x1="418.53" y1="265.6" x2="418.53" y2="267.4" stroke="#111" stroke-width="0.8800000000000001"/>
<line x1="418.53" y1="54.7" x2="418.53" y2="56.5" stroke="#111" stroke-width="0.8800000000000001"/>
<line x1="428.54" y1="265.6" x2="428.54" y2="267.4" stroke="#111" stroke-width="0.8800000000000001"/>
<line x1="428.54" y1="54.7" x2="428.54" y2="56.5" stroke="#111" stroke-width="0.8800000000000001"/>
<line x1="438.54" y1="265.6" x2="438.54" y2="267.4" stroke="#111" stroke-width="0.8800000000000001"/>
<line x1="438.54" y1="54.7" x2="438.54" y2="56.5" stroke="#111" stroke-width="0.8800000000000001"/>
<line x1="448.55" y1="265.6" x2="448.55" y2="267.4" stroke="#111" stroke-width="0.8800000000000001"/>
<line x1="448.55" y1="54.7" x2="448.55" y2="56.5" stroke="#111" stroke-width="0.8800000000000001"/>
<line x1="458.56" y1="265.6" x2="458.56" y2="268.6" stroke="#111" stroke-width="0.8800000000000001"/>
<line x1="458.56" y1="54.7" x2="458.56" y2="57.7" stroke="#111" stroke-width="0.8800000000000001"/>
<line x1="468.57" y1="265.6" x2="468.57" y2="267.4" stroke="#111" stroke-width="0.8800000000000001"/>
<line x1="468.57" y1="54.7" x2="468.57" y2="56.5" stroke="#111" stroke-width="0.8800000000000001"/>
<line x1="478.58" y1="265.6" x2="478.58" y2="267.4" stroke="#111" stroke-width="0.8800000000000001"/>
<line x1="478.58" y1="54.7" x2="478.58" y2="56.5" stroke="#111" stroke-width="0.8800000000000001"/>
<line x1="488.58" y1="265.6" x2="488.58" y2="267.4" stroke="#111" stroke-width="0.8800000000000001"/>
<line x1="488.58" y1="54.7" x2="488.58" y2="56.5" stroke="#111" stroke-width="0.8800000000000001"/>
<line x1="498.59" y1="265.6" x2="498.59" y2="267.4" stroke="#111" stroke-width="0.8800000000000001"/>
<line x1="498.59" y1="54.7" x2="498.59" y2="56.5" stroke="#111" stroke-width="0.8800000000000001"/>
<line x1="508.6" y1="265.6" x2="508.6" y2="268.6" stroke="#111" stroke-width="0.8800000000000001"/>
<line x1="508.6" y1="54.7" x2="508.6" y2="57.7" stroke="#111" stroke-width="0.8800000000000001"/>
<line x1="256.6" y1="265.23" x2="258.4" y2="265.23" stroke="#111" stroke-width="0.8800000000000001"/>
<line x1="506.8" y1="265.23" x2="508.6" y2="265.23" stroke="#111" stroke-width="0.8800000000000001"/>
<line x1="256.6" y1="256.35" x2="258.4" y2="256.35" stroke="#111" stroke-width="0.8800000000000001"/>
<line x1="506.8" y1="256.35" x2="508.6" y2="256.35" stroke="#111" stroke-width="0.8800000000000001"/>
<line x1="256.6" y1="250.06" x2="258.4" y2="250.06" stroke="#111" stroke-width="0.8800000000000001"/>
<line x1="506.8" y1="250.06" x2="508.6" y2="250.06" stroke="#111" stroke-width="0.8800000000000001"/>
<line x1="256.6" y1="245.17" x2="258.4" y2="245.17" stroke="#111" stroke-width="0.8800000000000001"/>
<line x1="506.8" y1="245.17" x2="508.6" y2="245.17" stroke="#111" stroke-width="0.8800000000000001"/>
<line x1="256.6" y1="241.18" x2="258.4" y2="241.18" stroke="#111" stroke-width="0.8800000000000001"/>
<line x1="506.8" y1="241.18" x2="508.6" y2="241.18" stroke="#111" stroke-width="0.8800000000000001"/>
<line x1="256.6" y1="237.81" x2="258.4" y2="237.81" stroke="#111" stroke-width="0.8800000000000001"/>
<line x1="506.8" y1="237.81" x2="508.6" y2="237.81" stroke="#111" stroke-width="0.8800000000000001"/>
<line x1="256.6" y1="234.88" x2="258.4" y2="234.88" stroke="#111" stroke-width="0.8800000000000001"/>
<line x1="506.8" y1="234.88" x2="508.6" y2="234.88" stroke="#111" stroke-width="0.8800000000000001"/>
<line x1="256.6" y1="232.31" x2="258.4" y2="232.31" stroke="#111" stroke-width="0.8800000000000001"/>
<line x1="506.8" y1="232.31" x2="508.6" y2="232.31" stroke="#111" stroke-width="0.8800000000000001"/>
<line x1="255.4" y1="230" x2="258.4" y2="230" stroke="#111" stroke-width="0.8800000000000001"/>
<line x1="505.6" y1="230" x2="508.6" y2="230" stroke="#111" stroke-width="0.8800000000000001"/>
<line x1="256.6" y1="214.83" x2="258.4" y2="214.83" stroke="#111" stroke-width="0.8800000000000001"/>
<line x1="506.8" y1="214.83" x2="508.6" y2="214.83" stroke="#111" stroke-width="0.8800000000000001"/>
<line x1="256.6" y1="205.95" x2="258.4" y2="205.95" stroke="#111" stroke-width="0.8800000000000001"/>
<line x1="506.8" y1="205.95" x2="508.6" y2="205.95" stroke="#111" stroke-width="0.8800000000000001"/>
<line x1="256.6" y1="199.66" x2="258.4" y2="199.66" stroke="#111" stroke-width="0.8800000000000001"/>
<line x1="506.8" y1="199.66" x2="508.6" y2="199.66" stroke="#111" stroke-width="0.8800000000000001"/>
<line x1="256.6" y1="194.77" x2="258.4" y2="194.77" stroke="#111" stroke-width="0.8800000000000001"/>
<line x1="506.8" y1="194.77" x2="508.6" y2="194.77" stroke="#111" stroke-width="0.8800000000000001"/>
<line x1="256.6" y1="190.78" x2="258.4" y2="190.78" stroke="#111" stroke-width="0.8800000000000001"/>
<line x1="506.8" y1="190.78" x2="508.6" y2="190.78" stroke="#111" stroke-width="0.8800000000000001"/>
<line x1="256.6" y1="187.41" x2="258.4" y2="187.41" stroke="#111" stroke-width="0.8800000000000001"/>
<line x1="506.8" y1="187.41" x2="508.6" y2="187.41" stroke="#111" stroke-width="0.8800000000000001"/>
<line x1="256.6" y1="184.48" x2="258.4" y2="184.48" stroke="#111" stroke-width="0.8800000000000001"/>
<line x1="506.8" y1="184.48" x2="508.6" y2="184.48" stroke="#111" stroke-width="0.8800000000000001"/>
<line x1="256.6" y1="181.91" x2="258.4" y2="181.91" stroke="#111" stroke-width="0.8800000000000001"/>
<line x1="506.8" y1="181.91" x2="508.6" y2="181.91" stroke="#111" stroke-width="0.8800000000000001"/>
<line x1="255.4" y1="179.6" x2="258.4" y2="179.6" stroke="#111" stroke-width="0.8800000000000001"/>
<line x1="505.6" y1="179.6" x2="508.6" y2="179.6" stroke="#111" stroke-width="0.8800000000000001"/>
<line x1="256.6" y1="164.43" x2="258.4" y2="164.43" stroke="#111" stroke-width="0.8800000000000001"/>
<line x1="506.8" y1="164.43" x2="508.6" y2="164.43" stroke="#111" stroke-width="0.8800000000000001"/>
<line x1="256.6" y1="155.55" x2="258.4" y2="155.55" stroke="#111" stroke-width="0.8800000000000001"/>
<line x1="506.8" y1="155.55" x2="508.6" y2="155.55" stroke="#111" stroke-width="0.8800000000000001"/>
<line x1="256.6" y1="149.26" x2="258.4" y2="149.26" stroke="#111" stroke-width="0.8800000000000001"/>
<line x1="506.8" y1="149.26" x2="508.6" y2="149.26" stroke="#111" stroke-width="0.8800000000000001"/>
<line x1="256.6" y1="144.37" x2="258.4" y2="144.37" stroke="#111" stroke-width="0.8800000000000001"/>
<line x1="506.8" y1="144.37" x2="508.6" y2="144.37" stroke="#111" stroke-width="0.8800000000000001"/>
<line x1="256.6" y1="140.38" x2="258.4" y2="140.38" stroke="#111" stroke-width="0.8800000000000001"/>
<line x1="506.8" y1="140.38" x2="508.6" y2="140.38" stroke="#111" stroke-width="0.8800000000000001"/>
<line x1="256.6" y1="137.01" x2="258.4" y2="137.01" stroke="#111" stroke-width="0.8800000000000001"/>
<line x1="506.8" y1="137.01" x2="508.6" y2="137.01" stroke="#111" stroke-width="0.8800000000000001"/>
<line x1="256.6" y1="134.08" x2="258.4" y2="134.08" stroke="#111" stroke-width="0.8800000000000001"/>
<line x1="506.8" y1="134.08" x2="508.6" y2="134.08" stroke="#111" stroke-width="0.8800000000000001"/>
<line x1="256.6" y1="131.51" x2="258.4" y2="131.51" stroke="#111" stroke-width="0.8800000000000001"/>
<line x1="506.8" y1="131.51" x2="508.6" y2="131.51" stroke="#111" stroke-width="0.8800000000000001"/>
<line x1="255.4" y1="129.2" x2="258.4" y2="129.2" stroke="#111" stroke-width="0.8800000000000001"/>
<line x1="505.6" y1="129.2" x2="508.6" y2="129.2" stroke="#111" stroke-width="0.8800000000000001"/>
<line x1="256.6" y1="114.03" x2="258.4" y2="114.03" stroke="#111" stroke-width="0.8800000000000001"/>
<line x1="506.8" y1="114.03" x2="508.6" y2="114.03" stroke="#111" stroke-width="0.8800000000000001"/>
<line x1="256.6" y1="105.15" x2="258.4" y2="105.15" stroke="#111" stroke-width="0.8800000000000001"/>
<line x1="506.8" y1="105.15" x2="508.6" y2="105.15" stroke="#111" stroke-width="0.8800000000000001"/>
<line x1="256.6" y1="98.86" x2="258.4" y2="98.86" stroke="#111" stroke-width="0.8800000000000001"/>
<line x1="506.8" y1="98.86" x2="508.6" y2="98.86" stroke="#111" stroke-width="0.8800000000000001"/>
<line x1="256.6" y1="93.97" x2="258.4" y2="93.97" stroke="#111" stroke-width="0.8800000000000001"/>
<line x1="506.8" y1="93.97" x2="508.6" y2="93.97" stroke="#111" stroke-width="0.8800000000000001"/>
<line x1="256.6" y1="89.98" x2="258.4" y2="89.98" stroke="#111" stroke-width="0.8800000000000001"/>
<line x1="506.8" y1="89.98" x2="508.6" y2="89.98" stroke="#111" stroke-width="0.8800000000000001"/>
<line x1="256.6" y1="86.61" x2="258.4" y2="86.61" stroke="#111" stroke-width="0.8800000000000001"/>
<line x1="506.8" y1="86.61" x2="508.6" y2="86.61" stroke="#111" stroke-width="0.8800000000000001"/>
<line x1="256.6" y1="83.68" x2="258.4" y2="83.68" stroke="#111" stroke-width="0.8800000000000001"/>
<line x1="506.8" y1="83.68" x2="508.6" y2="83.68" stroke="#111" stroke-width="0.8800000000000001"/>
<line x1="256.6" y1="81.11" x2="258.4" y2="81.11" stroke="#111" stroke-width="0.8800000000000001"/>
<line x1="506.8" y1="81.11" x2="508.6" y2="81.11" stroke="#111" stroke-width="0.8800000000000001"/>
<line x1="255.4" y1="78.8" x2="258.4" y2="78.8" stroke="#111" stroke-width="0.8800000000000001"/>
<line x1="505.6" y1="78.8" x2="508.6" y2="78.8" stroke="#111" stroke-width="0.8800000000000001"/>
<line x1="256.6" y1="63.63" x2="258.4" y2="63.63" stroke="#111" stroke-width="0.8800000000000001"/>
<line x1="506.8" y1="63.63" x2="508.6" y2="63.63" stroke="#111" stroke-width="0.8800000000000001"/>
<line x1="256.6" y1="54.75" x2="258.4" y2="54.75" stroke="#111" stroke-width="0.8800000000000001"/>
<line x1="506.8" y1="54.75" x2="508.6" y2="54.75" stroke="#111" stroke-width="0.8800000000000001"/>
<rect x="258.4" y="54.7" width="250.2" height="210.9" fill="none" stroke="#111" stroke-width="1.1"/>
<text transform="translate(251.6,82.2) scale(1,1.17)" font-size="9" font-weight="bold" text-anchor="end" >0.1</text>
<text transform="translate(251.6,132.6) scale(1,1.17)" font-size="9" font-weight="bold" text-anchor="end" >0.01</text>
<text transform="translate(251.6,183) scale(1,1.17)" font-size="9" font-weight="bold" text-anchor="end" >0.001</text>
<text transform="translate(251.6,233.4) scale(1,1.17)" font-size="9" font-weight="bold" text-anchor="end" >1E-4</text>
<text transform="translate(258.4,280.1) scale(1,1.14)" font-size="9.3" font-weight="bold" text-anchor="middle" >0</text>
<text transform="translate(308.44,280.1) scale(1,1.14)" font-size="9.3" font-weight="bold" text-anchor="middle" >200</text>
<text transform="translate(358.48,280.1) scale(1,1.14)" font-size="9.3" font-weight="bold" text-anchor="middle" >400</text>
<text transform="translate(408.52,280.1) scale(1,1.14)" font-size="9.3" font-weight="bold" text-anchor="middle" >600</text>
<text transform="translate(458.56,280.1) scale(1,1.14)" font-size="9.3" font-weight="bold" text-anchor="middle" >800</text>
<text transform="translate(508.6,280.1) scale(1,1.14)" font-size="9.3" font-weight="bold" text-anchor="middle" >1000</text>
<text transform="translate(379.4,295.9) scale(1,1.1)" font-size="15.4" font-weight="bold" text-anchor="middle" >Sputter time (s)</text>
<text x="0" y="0" font-size="15.6" font-weight="bold" text-anchor="middle" textLength="222.5" lengthAdjust="spacingAndGlyphs" transform="translate(224.2,163.4) rotate(-90)">Intensity Normalized to GaN-</text>
<text x="426.9" y="97.9" font-size="21.3" font-weight="bold" text-anchor="start" >AlON</text>
<text x="479.4" y="93.6" font-size="22.4" font-weight="bold" text-anchor="start" >-</text>
<text x="275" y="85.8" font-size="18" font-weight="bold" text-anchor="start" >(c)</text>
<rect x="267.8" y="138" width="76.5" height="37.5" fill="#fff" stroke="#444" stroke-width="0.8"/>
<line x1="270" y1="145.4" x2="289.4" y2="145.4" stroke="#1c1cc4" stroke-width="1.2" opacity="0.8"/>
<text transform="translate(292.3,148.5) scale(1,1.08)" font-size="8.8" font-weight="bold" text-anchor="start" >AlON 15x16</text>
<line x1="270" y1="156.85" x2="289.4" y2="156.85" stroke="#2ed42e" stroke-width="1.2" opacity="0.8"/>
<text transform="translate(292.3,159.95) scale(1,1.08)" font-size="8.8" font-weight="bold" text-anchor="start" >AlON 12x20</text>
<line x1="270" y1="168.3" x2="289.4" y2="168.3" stroke="#d42222" stroke-width="1.2" opacity="0.8"/>
<text transform="translate(292.3,171.4) scale(1,1.08)" font-size="8.8" font-weight="bold" text-anchor="start" >AlON&#160;&#160;<tspan dx='1.0'>8x30</tspan></text>
</svg>
</body></html>
